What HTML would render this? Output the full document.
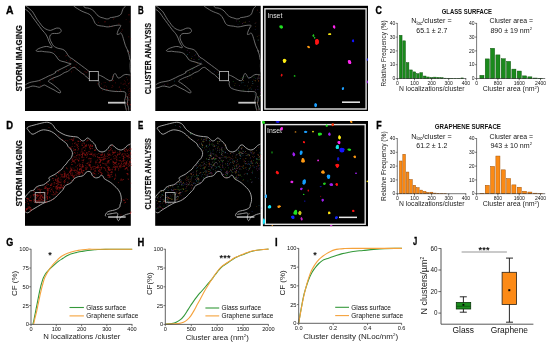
<!DOCTYPE html>
<html><head><meta charset="utf-8"><title>Figure</title>
<style>html,body{margin:0;padding:0;background:#fff}body{width:550px;height:344px;overflow:hidden}svg{display:block;font-family:"Liberation Sans",sans-serif}</style>
</head><body>
<svg width="550" height="344" viewBox="0 0 550 344">
<rect width="550" height="344" fill="#fff"/>
<text x="5.9" y="14.0" font-size="10.6" font-weight="bold" fill="#000" stroke="#000" stroke-width="0.35" textLength="7.5" lengthAdjust="spacingAndGlyphs">A</text>
<text x="138.1" y="13.9" font-size="10.6" font-weight="bold" fill="#000" stroke="#000" stroke-width="0.35" textLength="5.7" lengthAdjust="spacingAndGlyphs">B</text>
<text x="6.2" y="128.7" font-size="10.6" font-weight="bold" fill="#000" stroke="#000" stroke-width="0.35" textLength="6.8" lengthAdjust="spacingAndGlyphs">D</text>
<text x="137.9" y="128.8" font-size="10.6" font-weight="bold" fill="#000" stroke="#000" stroke-width="0.35" textLength="5.3" lengthAdjust="spacingAndGlyphs">E</text>
<text transform="translate(21.6,58.3) rotate(-90)" font-size="8.8" font-weight="bold" text-anchor="middle" fill="#111" stroke="#111" stroke-width="0.2" textLength="66.6" lengthAdjust="spacingAndGlyphs">STORM IMAGING</text>
<text transform="translate(151.1,58.6) rotate(-90)" font-size="8.8" font-weight="bold" text-anchor="middle" fill="#111" stroke="#111" stroke-width="0.2" textLength="71.2" lengthAdjust="spacingAndGlyphs">CLUSTER ANALYSIS</text>
<text transform="translate(21.6,173.3) rotate(-90)" font-size="8.8" font-weight="bold" text-anchor="middle" fill="#111" stroke="#111" stroke-width="0.2" textLength="66.6" lengthAdjust="spacingAndGlyphs">STORM IMAGING</text>
<text transform="translate(151.1,173.8) rotate(-90)" font-size="8.8" font-weight="bold" text-anchor="middle" fill="#111" stroke="#111" stroke-width="0.2" textLength="71.4" lengthAdjust="spacingAndGlyphs">CLUSTER ANALYSIS</text>
<rect x="25.0" y="5.8" width="105.8" height="105.2" fill="#000"/>
<clipPath id="cp01"><rect x="25.0" y="5.8" width="105.8" height="105"/></clipPath>
<g clip-path="url(#cp01)"><g transform="translate(0.0,0)" fill="none" stroke="#9a9a9a" stroke-width="0.7" stroke-linejoin="round">
<path d="M25.0,5.5 C25.2,5.7 25.7,5.9 26.5,6.5 C27.3,7.1 28.6,8.0 29.6,8.9 C30.6,9.8 31.8,10.8 32.7,11.9 C33.6,13.1 34.2,14.5 35.0,15.8 C35.8,17.1 36.5,18.5 37.3,19.6 C38.1,20.8 38.8,21.7 39.6,22.7 C40.4,23.7 41.1,24.9 41.9,25.8 C42.7,26.7 43.4,27.5 44.3,28.1 C45.2,28.8 46.3,29.3 47.3,29.7 C48.3,30.1 49.4,30.5 50.4,30.4 C51.4,30.3 52.5,29.7 53.5,29.3 C54.5,28.9 55.6,28.2 56.6,28.1 C57.6,28.0 58.9,28.0 59.7,28.4 C60.5,28.8 61.1,29.7 61.2,30.4 C61.3,31.1 60.9,32.2 60.1,32.7 C59.3,33.2 57.8,33.4 56.6,33.5 C55.4,33.6 53.7,33.2 52.7,33.5 C51.7,33.8 50.9,34.4 50.4,35.0 C49.9,35.6 49.7,36.5 49.7,37.4 C49.7,38.3 50.0,39.4 50.4,40.4 C50.8,41.4 51.5,42.6 52.0,43.5 C52.5,44.4 52.9,45.1 53.5,45.8 C54.1,46.4 54.9,46.9 55.8,47.4 C56.7,47.9 57.7,48.2 58.9,48.5 C60.1,48.8 61.7,48.9 62.8,49.4 C63.9,49.9 64.6,50.4 65.4,51.2 C66.2,52.0 66.7,53.3 67.4,54.3 C68.1,55.3 69.0,56.7 69.7,57.4 C70.5,58.1 71.0,57.9 71.9,58.5 C72.8,59.1 74.0,60.0 75.0,60.8 C76.0,61.6 77.1,62.3 78.1,63.1 C79.1,63.9 80.2,64.6 81.2,65.4 C82.2,66.2 83.3,66.9 84.3,67.7 C85.3,68.5 86.5,69.3 87.4,70.0 C88.3,70.7 87.9,70.8 89.7,71.6 C91.5,72.4 96.5,74.1 98.4,74.8 C100.3,75.5 100.1,75.4 101.0,75.8 C101.9,76.2 102.9,76.7 103.9,77.3 C104.9,77.9 105.8,78.7 106.8,79.2 C107.8,79.8 108.8,80.4 109.7,80.6 C110.6,80.8 111.4,80.8 111.9,80.2 C112.4,79.7 112.6,78.3 112.9,77.3 C113.2,76.3 113.4,75.0 113.8,74.4 C114.2,73.8 114.8,73.4 115.3,73.6 C115.8,73.8 116.2,75.1 116.7,75.8 C117.2,76.5 117.5,77.8 118.2,78.0 C118.9,78.2 119.9,77.7 120.7,77.3 C121.5,76.9 122.2,75.9 123.1,75.4 C123.9,74.9 124.9,74.5 125.8,74.4 C126.7,74.3 127.9,74.7 128.7,74.8 C129.5,74.9 130.1,75.0 130.4,75.1"/>
<path d="M25.0,9.0 C25.1,9.1 25.3,9.2 25.8,9.6 C26.3,10.0 27.3,10.5 28.1,11.2 C28.9,11.9 29.6,12.9 30.4,13.9 C31.2,14.9 31.9,16.2 32.7,17.3 C33.5,18.4 34.2,19.4 35.0,20.4 C35.8,21.4 36.5,22.5 37.3,23.5 C38.1,24.5 38.8,25.6 39.6,26.6 C40.4,27.6 41.1,28.7 41.9,29.7 C42.7,30.7 43.6,31.5 44.3,32.4 C45.0,33.3 45.7,34.0 46.3,35.0 C46.9,36.0 47.4,37.1 47.8,38.1 C48.2,39.1 48.5,40.2 48.9,41.2 C49.3,42.2 49.9,43.3 50.4,44.3 C50.9,45.2 52.0,46.3 52.1,46.9 C52.2,47.5 51.9,47.8 51.2,47.7 C50.5,47.7 49.1,46.8 48.1,46.6 C47.1,46.4 46.0,46.5 45.0,46.6 C44.0,46.7 42.9,47.1 41.9,47.4 C40.9,47.7 39.9,48.0 38.9,48.5 C37.9,49.0 36.2,50.0 36.1,50.5 C36.0,51.0 37.2,51.4 38.1,51.5 C39.0,51.6 40.2,51.2 41.2,51.2 C42.2,51.2 43.1,51.6 44.3,51.7 C45.4,51.8 47.0,51.9 48.1,52.0 C49.2,52.1 50.3,52.2 51.2,52.5 C52.1,52.8 52.7,53.0 53.5,53.5 C54.3,54.0 55.1,55.0 55.8,55.8 C56.4,56.5 56.9,57.3 57.4,58.0 C57.9,58.7 58.1,59.5 58.9,60.0 C59.6,60.5 60.9,61.0 61.9,61.3 C62.9,61.6 64.0,61.7 65.0,62.0 C66.0,62.3 67.1,62.8 68.1,63.1 C69.1,63.4 71.2,63.5 71.2,63.9 C71.2,64.3 69.1,64.9 68.1,65.4 C67.1,65.9 66.0,66.5 65.0,67.0 C64.0,67.5 62.9,68.0 61.9,68.5 C60.9,69.0 60.0,69.4 58.9,70.0 C57.8,70.6 55.5,71.6 55.0,72.0 C54.5,72.4 56.2,72.1 55.8,72.5 C55.3,72.9 53.5,73.9 52.3,74.5 C51.1,75.1 50.0,75.4 48.8,75.9 C47.6,76.4 46.5,77.1 45.3,77.7 C44.1,78.3 43.0,78.9 41.8,79.4 C40.6,79.9 39.5,80.5 38.3,80.8 C37.1,81.1 36.0,81.3 34.8,81.5 C33.6,81.7 32.5,81.8 31.3,82.1 C30.2,82.4 28.9,82.8 27.9,83.3 C26.9,83.8 25.6,84.7 25.2,85.0"/>
<path d="M25.2,88.2 C25.8,88.0 27.5,87.7 28.7,87.3 C29.9,86.9 31.0,86.2 32.2,86.1 C33.4,85.9 34.5,86.2 35.7,86.4 C36.9,86.6 38.2,87.3 39.2,87.3 C40.2,87.2 40.9,86.5 41.8,86.1 C42.7,85.7 43.5,85.0 44.4,85.0 C45.3,85.0 46.1,85.9 47.1,86.4 C48.1,86.9 49.4,87.6 50.5,88.2 C51.6,88.8 52.8,89.3 54.0,89.9 C55.2,90.5 56.5,91.5 57.5,92.0 C58.5,92.5 59.6,93.1 60.1,93.0 C60.6,92.9 60.8,92.0 60.5,91.3 C60.2,90.6 59.2,89.8 58.4,89.0 C57.6,88.2 56.7,87.5 55.8,86.8 C54.9,86.1 54.1,85.3 53.2,84.7 C52.3,84.1 51.3,83.5 50.5,82.9 C49.7,82.3 48.3,81.8 48.3,81.2 C48.3,80.6 49.5,80.0 50.5,79.4 C51.5,78.8 52.7,78.2 54.0,77.7 C55.3,77.2 56.9,76.7 58.1,76.2 C59.3,75.7 60.2,75.3 61.2,74.7 C62.2,74.1 63.2,73.2 64.2,72.7 C65.2,72.2 66.4,72.0 67.3,71.6 C68.2,71.1 68.8,70.6 69.6,70.0 C70.4,69.4 71.1,68.4 71.9,68.0 C72.7,67.6 73.5,67.2 74.3,67.4 C75.1,67.6 75.8,68.4 76.6,69.0 C77.4,69.6 78.1,70.2 78.9,70.8 C79.7,71.4 80.3,72.0 81.2,72.7 C82.1,73.4 83.4,74.0 84.3,74.7 C85.2,75.4 85.8,76.3 86.6,77.0 C87.4,77.7 87.2,78.1 89.2,78.8 C91.2,79.5 96.8,80.1 98.4,80.9 C100.0,81.7 98.6,82.8 98.8,83.8 C99.0,84.8 99.2,86.0 99.6,86.7 C100.0,87.4 100.3,87.8 101.0,88.2 C101.7,88.7 102.8,89.0 103.9,89.4 C105.0,89.8 106.3,90.1 107.6,90.4 C108.9,90.7 110.5,90.9 111.9,91.1 C113.4,91.3 114.8,91.4 116.3,91.5 C117.8,91.6 119.4,91.5 120.7,91.5 C122.0,91.5 123.5,91.5 124.3,91.8 C125.1,92.1 125.6,92.4 125.8,93.3 C126.0,94.2 125.7,95.7 125.5,96.9 C125.3,98.1 124.7,99.4 124.6,100.6 C124.5,101.8 124.8,103.0 125.0,104.2 C125.2,105.4 125.5,106.8 125.8,107.9 C126.0,109.0 126.4,110.3 126.5,110.8"/>
<path d="M73.5,5.8 C73.8,6.0 74.3,6.5 75.0,7.0 C75.7,7.5 76.6,8.1 77.6,8.7 C78.6,9.3 79.9,10.2 81.1,10.8 C82.3,11.4 83.9,12.1 85.0,12.5 C86.1,12.9 86.8,13.1 87.7,13.5 C88.6,13.9 89.7,14.4 90.5,15.2 C91.3,15.9 91.9,17.1 92.5,18.0 C93.1,18.9 93.5,19.8 93.9,20.7 C94.4,21.6 94.6,22.6 95.2,23.4 C95.8,24.1 96.5,24.8 97.3,25.2 C98.1,25.6 99.0,25.6 100.0,25.8 C101.0,26.0 102.2,26.0 103.4,26.2 C104.6,26.4 105.8,26.8 106.9,26.9 C108.1,27.0 109.2,26.8 110.3,26.6 C111.4,26.4 112.5,26.0 113.7,25.8 C115.0,25.6 116.6,25.2 117.8,25.2 C119.0,25.1 120.5,25.1 120.8,25.5 C121.1,25.9 120.2,26.8 119.8,27.5 C119.4,28.2 118.9,28.8 118.5,29.6 C118.1,30.4 117.7,31.5 117.5,32.3 C117.3,33.1 116.8,34.1 117.1,34.4 C117.4,34.7 118.6,34.2 119.2,34.0 C119.8,33.8 120.3,32.8 120.8,33.0 C121.3,33.2 121.8,34.2 122.2,35.1 C122.6,36.0 123.0,37.4 123.3,38.5 C123.6,39.6 124.0,40.8 124.3,41.9 C124.6,43.0 124.9,44.2 125.3,45.3 C125.7,46.4 126.2,47.4 126.7,48.4 C127.2,49.4 128.3,51.0 128.4,51.4 C128.5,51.8 127.3,50.1 127.4,50.6 C127.5,51.1 128.5,52.9 128.8,54.1 C129.2,55.3 129.3,56.6 129.5,57.6 C129.7,58.6 129.8,59.6 130.0,60.0 C130.2,60.4 130.5,59.3 130.5,60.2 C130.5,61.1 130.1,63.5 130.1,65.5 C130.1,67.5 130.4,71.3 130.5,72.5"/>
<path d="M83.3,5.8 C83.6,6.1 84.3,7.3 85.0,7.7 C85.7,8.1 86.7,7.8 87.7,8.0 C88.7,8.2 90.1,8.6 91.1,9.1 C92.1,9.6 93.1,10.4 93.9,11.1 C94.7,11.8 95.2,12.7 95.9,13.5 C96.6,14.3 97.2,15.1 98.0,15.7 C98.8,16.3 99.8,16.9 100.7,17.3 C101.6,17.7 102.5,17.7 103.4,18.0 C104.3,18.3 105.3,18.8 106.2,18.9 C107.1,19.0 108.2,18.9 108.9,18.7 C109.6,18.5 109.6,17.8 110.3,17.6 C111.0,17.4 112.0,17.5 113.0,17.3 C114.0,17.1 115.4,16.9 116.4,16.6 C117.4,16.3 118.4,16.1 119.2,15.7 C120.0,15.2 120.7,14.7 121.2,13.9 C121.7,13.1 121.9,12.0 122.2,11.1 C122.5,10.2 122.8,9.2 123.3,8.4 C123.8,7.6 124.8,6.9 125.3,6.4 C125.8,5.9 125.9,5.7 126.0,5.5"/>
<path d="M127.2,96.2 C127.3,96.8 127.9,98.6 127.9,99.8 C127.9,101.0 127.1,102.3 127.2,103.5 C127.3,104.7 128.2,105.9 128.4,107.1 C128.7,108.3 128.6,110.2 128.7,110.8"/>
</g></g>
<g transform="translate(0.0,0)">
<path d="M112.1,76.5h0.65v0.65h-0.65zM128.8,94.8h0.65v0.65h-0.65zM129.7,75.7h0.65v0.65h-0.65zM118.8,87.4h0.65v0.65h-0.65zM111.9,85.3h0.65v0.65h-0.65zM120.7,82.8h0.65v0.65h-0.65zM126.5,85.3h0.65v0.65h-0.65zM128.7,91.1h0.65v0.65h-0.65zM124.7,84.2h0.65v0.65h-0.65zM113.0,80.0h0.65v0.65h-0.65zM126.3,76.9h0.65v0.65h-0.65zM107.0,89.0h0.65v0.65h-0.65zM126.7,108.5h0.65v0.65h-0.65zM103.7,82.4h0.65v0.65h-0.65zM111.6,87.3h0.65v0.65h-0.65zM129.0,98.9h0.65v0.65h-0.65zM123.9,88.1h0.65v0.65h-0.65zM101.3,87.1h0.65v0.65h-0.65zM126.4,96.1h0.65v0.65h-0.65zM106.2,86.5h0.65v0.65h-0.65zM130.3,90.8h0.65v0.65h-0.65zM128.9,93.0h0.65v0.65h-0.65zM126.1,99.1h0.65v0.65h-0.65zM130.0,104.7h0.65v0.65h-0.65zM130.1,108.4h0.65v0.65h-0.65zM105.2,82.2h0.65v0.65h-0.65zM127.3,104.3h0.65v0.65h-0.65zM127.6,102.2h0.65v0.65h-0.65zM129.6,88.3h0.65v0.65h-0.65zM128.8,100.1h0.65v0.65h-0.65zM127.4,103.0h0.65v0.65h-0.65zM119.4,86.6h0.65v0.65h-0.65zM129.6,97.4h0.65v0.65h-0.65zM128.3,89.6h0.65v0.65h-0.65zM124.9,81.6h0.65v0.65h-0.65zM106.4,89.1h0.65v0.65h-0.65zM127.6,86.7h0.65v0.65h-0.65zM112.3,80.6h0.65v0.65h-0.65zM124.0,80.2h0.65v0.65h-0.65zM120.5,90.3h0.65v0.65h-0.65zM128.6,83.3h0.65v0.65h-0.65zM128.7,104.2h0.65v0.65h-0.65zM102.0,89.9h0.65v0.65h-0.65zM127.2,79.6h0.65v0.65h-0.65zM129.4,81.9h0.65v0.65h-0.65zM130.2,104.0h0.65v0.65h-0.65zM109.0,81.0h0.65v0.65h-0.65zM116.0,89.9h0.65v0.65h-0.65zM101.4,83.6h0.65v0.65h-0.65zM123.3,83.7h0.65v0.65h-0.65zM124.6,83.3h0.65v0.65h-0.65zM127.9,94.5h0.65v0.65h-0.65zM120.4,89.3h0.65v0.65h-0.65zM128.5,96.8h0.65v0.65h-0.65zM112.7,86.2h0.65v0.65h-0.65zM128.1,83.6h0.65v0.65h-0.65zM115.1,82.6h0.65v0.65h-0.65zM104.6,85.2h0.65v0.65h-0.65zM122.7,84.4h0.65v0.65h-0.65zM103.8,86.5h0.65v0.65h-0.65zM70.1,66.3h0.65v0.65h-0.65zM84.5,71.4h0.65v0.65h-0.65zM70.6,59.9h0.65v0.65h-0.65zM54.5,51.2h0.65v0.65h-0.65zM65.0,55.7h0.65v0.65h-0.65zM66.2,60.3h0.65v0.65h-0.65zM73.8,66.1h0.65v0.65h-0.65zM66.0,55.3h0.65v0.65h-0.65zM78.9,67.2h0.65v0.65h-0.65zM86.5,72.3h0.65v0.65h-0.65zM69.9,59.0h0.65v0.65h-0.65zM85.3,71.7h0.65v0.65h-0.65zM83.4,73.7h0.65v0.65h-0.65zM88.7,75.9h0.65v0.65h-0.65zM75.1,67.4h0.65v0.65h-0.65zM74.7,61.3h0.65v0.65h-0.65zM87.3,70.7h0.65v0.65h-0.65zM58.8,56.2h0.65v0.65h-0.65zM82.9,73.7h0.65v0.65h-0.65zM75.8,64.6h0.65v0.65h-0.65zM97.0,83.5h0.65v0.65h-0.65zM69.1,61.7h0.65v0.65h-0.65zM130.5,38.6h0.65v0.65h-0.65zM104.6,21.8h0.65v0.65h-0.65zM113.6,17.9h0.65v0.65h-0.65zM128.5,36.6h0.65v0.65h-0.65zM121.3,31.4h0.65v0.65h-0.65zM128.0,14.6h0.65v0.65h-0.65zM112.3,25.9h0.65v0.65h-0.65zM129.7,21.5h0.65v0.65h-0.65zM118.6,23.6h0.65v0.65h-0.65zM113.1,19.4h0.65v0.65h-0.65zM104.2,21.4h0.65v0.65h-0.65zM121.9,29.5h0.65v0.65h-0.65zM109.0,25.6h0.65v0.65h-0.65zM98.1,22.4h0.65v0.65h-0.65zM129.4,14.5h0.65v0.65h-0.65zM125.8,19.2h0.65v0.65h-0.65zM105.4,20.9h0.65v0.65h-0.65zM128.9,52.1h0.65v0.65h-0.65zM72.8,69.7h0.65v0.65h-0.65zM53.0,79.7h0.65v0.65h-0.65zM50.1,76.7h0.65v0.65h-0.65zM40.2,85.2h0.65v0.65h-0.65zM58.4,71.0h0.65v0.65h-0.65zM53.1,77.4h0.65v0.65h-0.65zM51.9,79.5h0.65v0.65h-0.65zM66.1,69.3h0.65v0.65h-0.65zM39.7,81.5h0.65v0.65h-0.65zM71.0,71.6h0.65v0.65h-0.65z" fill="#d01a1a" opacity="0.62"/>
</g>
<rect x="89.3" y="71.5" width="9" height="9.2" fill="#000" stroke="#c4c4c4" stroke-width="0.8"/>
<rect x="108.0" y="101.8" width="17.5" height="1.8" fill="#c8c8c8"/>
<rect x="155.3" y="5.8" width="105.4" height="105.2" fill="#000"/>
<clipPath id="cp1301"><rect x="155.3" y="5.8" width="105.4" height="105"/></clipPath>
<g clip-path="url(#cp1301)"><g transform="translate(130.3,0)" fill="none" stroke="#9a9a9a" stroke-width="0.7" stroke-linejoin="round">
<path d="M25.0,5.5 C25.2,5.7 25.7,5.9 26.5,6.5 C27.3,7.1 28.6,8.0 29.6,8.9 C30.6,9.8 31.8,10.8 32.7,11.9 C33.6,13.1 34.2,14.5 35.0,15.8 C35.8,17.1 36.5,18.5 37.3,19.6 C38.1,20.8 38.8,21.7 39.6,22.7 C40.4,23.7 41.1,24.9 41.9,25.8 C42.7,26.7 43.4,27.5 44.3,28.1 C45.2,28.8 46.3,29.3 47.3,29.7 C48.3,30.1 49.4,30.5 50.4,30.4 C51.4,30.3 52.5,29.7 53.5,29.3 C54.5,28.9 55.6,28.2 56.6,28.1 C57.6,28.0 58.9,28.0 59.7,28.4 C60.5,28.8 61.1,29.7 61.2,30.4 C61.3,31.1 60.9,32.2 60.1,32.7 C59.3,33.2 57.8,33.4 56.6,33.5 C55.4,33.6 53.7,33.2 52.7,33.5 C51.7,33.8 50.9,34.4 50.4,35.0 C49.9,35.6 49.7,36.5 49.7,37.4 C49.7,38.3 50.0,39.4 50.4,40.4 C50.8,41.4 51.5,42.6 52.0,43.5 C52.5,44.4 52.9,45.1 53.5,45.8 C54.1,46.4 54.9,46.9 55.8,47.4 C56.7,47.9 57.7,48.2 58.9,48.5 C60.1,48.8 61.7,48.9 62.8,49.4 C63.9,49.9 64.6,50.4 65.4,51.2 C66.2,52.0 66.7,53.3 67.4,54.3 C68.1,55.3 69.0,56.7 69.7,57.4 C70.5,58.1 71.0,57.9 71.9,58.5 C72.8,59.1 74.0,60.0 75.0,60.8 C76.0,61.6 77.1,62.3 78.1,63.1 C79.1,63.9 80.2,64.6 81.2,65.4 C82.2,66.2 83.3,66.9 84.3,67.7 C85.3,68.5 86.5,69.3 87.4,70.0 C88.3,70.7 87.9,70.8 89.7,71.6 C91.5,72.4 96.5,74.1 98.4,74.8 C100.3,75.5 100.1,75.4 101.0,75.8 C101.9,76.2 102.9,76.7 103.9,77.3 C104.9,77.9 105.8,78.7 106.8,79.2 C107.8,79.8 108.8,80.4 109.7,80.6 C110.6,80.8 111.4,80.8 111.9,80.2 C112.4,79.7 112.6,78.3 112.9,77.3 C113.2,76.3 113.4,75.0 113.8,74.4 C114.2,73.8 114.8,73.4 115.3,73.6 C115.8,73.8 116.2,75.1 116.7,75.8 C117.2,76.5 117.5,77.8 118.2,78.0 C118.9,78.2 119.9,77.7 120.7,77.3 C121.5,76.9 122.2,75.9 123.1,75.4 C123.9,74.9 124.9,74.5 125.8,74.4 C126.7,74.3 127.9,74.7 128.7,74.8 C129.5,74.9 130.1,75.0 130.4,75.1"/>
<path d="M25.0,9.0 C25.1,9.1 25.3,9.2 25.8,9.6 C26.3,10.0 27.3,10.5 28.1,11.2 C28.9,11.9 29.6,12.9 30.4,13.9 C31.2,14.9 31.9,16.2 32.7,17.3 C33.5,18.4 34.2,19.4 35.0,20.4 C35.8,21.4 36.5,22.5 37.3,23.5 C38.1,24.5 38.8,25.6 39.6,26.6 C40.4,27.6 41.1,28.7 41.9,29.7 C42.7,30.7 43.6,31.5 44.3,32.4 C45.0,33.3 45.7,34.0 46.3,35.0 C46.9,36.0 47.4,37.1 47.8,38.1 C48.2,39.1 48.5,40.2 48.9,41.2 C49.3,42.2 49.9,43.3 50.4,44.3 C50.9,45.2 52.0,46.3 52.1,46.9 C52.2,47.5 51.9,47.8 51.2,47.7 C50.5,47.7 49.1,46.8 48.1,46.6 C47.1,46.4 46.0,46.5 45.0,46.6 C44.0,46.7 42.9,47.1 41.9,47.4 C40.9,47.7 39.9,48.0 38.9,48.5 C37.9,49.0 36.2,50.0 36.1,50.5 C36.0,51.0 37.2,51.4 38.1,51.5 C39.0,51.6 40.2,51.2 41.2,51.2 C42.2,51.2 43.1,51.6 44.3,51.7 C45.4,51.8 47.0,51.9 48.1,52.0 C49.2,52.1 50.3,52.2 51.2,52.5 C52.1,52.8 52.7,53.0 53.5,53.5 C54.3,54.0 55.1,55.0 55.8,55.8 C56.4,56.5 56.9,57.3 57.4,58.0 C57.9,58.7 58.1,59.5 58.9,60.0 C59.6,60.5 60.9,61.0 61.9,61.3 C62.9,61.6 64.0,61.7 65.0,62.0 C66.0,62.3 67.1,62.8 68.1,63.1 C69.1,63.4 71.2,63.5 71.2,63.9 C71.2,64.3 69.1,64.9 68.1,65.4 C67.1,65.9 66.0,66.5 65.0,67.0 C64.0,67.5 62.9,68.0 61.9,68.5 C60.9,69.0 60.0,69.4 58.9,70.0 C57.8,70.6 55.5,71.6 55.0,72.0 C54.5,72.4 56.2,72.1 55.8,72.5 C55.3,72.9 53.5,73.9 52.3,74.5 C51.1,75.1 50.0,75.4 48.8,75.9 C47.6,76.4 46.5,77.1 45.3,77.7 C44.1,78.3 43.0,78.9 41.8,79.4 C40.6,79.9 39.5,80.5 38.3,80.8 C37.1,81.1 36.0,81.3 34.8,81.5 C33.6,81.7 32.5,81.8 31.3,82.1 C30.2,82.4 28.9,82.8 27.9,83.3 C26.9,83.8 25.6,84.7 25.2,85.0"/>
<path d="M25.2,88.2 C25.8,88.0 27.5,87.7 28.7,87.3 C29.9,86.9 31.0,86.2 32.2,86.1 C33.4,85.9 34.5,86.2 35.7,86.4 C36.9,86.6 38.2,87.3 39.2,87.3 C40.2,87.2 40.9,86.5 41.8,86.1 C42.7,85.7 43.5,85.0 44.4,85.0 C45.3,85.0 46.1,85.9 47.1,86.4 C48.1,86.9 49.4,87.6 50.5,88.2 C51.6,88.8 52.8,89.3 54.0,89.9 C55.2,90.5 56.5,91.5 57.5,92.0 C58.5,92.5 59.6,93.1 60.1,93.0 C60.6,92.9 60.8,92.0 60.5,91.3 C60.2,90.6 59.2,89.8 58.4,89.0 C57.6,88.2 56.7,87.5 55.8,86.8 C54.9,86.1 54.1,85.3 53.2,84.7 C52.3,84.1 51.3,83.5 50.5,82.9 C49.7,82.3 48.3,81.8 48.3,81.2 C48.3,80.6 49.5,80.0 50.5,79.4 C51.5,78.8 52.7,78.2 54.0,77.7 C55.3,77.2 56.9,76.7 58.1,76.2 C59.3,75.7 60.2,75.3 61.2,74.7 C62.2,74.1 63.2,73.2 64.2,72.7 C65.2,72.2 66.4,72.0 67.3,71.6 C68.2,71.1 68.8,70.6 69.6,70.0 C70.4,69.4 71.1,68.4 71.9,68.0 C72.7,67.6 73.5,67.2 74.3,67.4 C75.1,67.6 75.8,68.4 76.6,69.0 C77.4,69.6 78.1,70.2 78.9,70.8 C79.7,71.4 80.3,72.0 81.2,72.7 C82.1,73.4 83.4,74.0 84.3,74.7 C85.2,75.4 85.8,76.3 86.6,77.0 C87.4,77.7 87.2,78.1 89.2,78.8 C91.2,79.5 96.8,80.1 98.4,80.9 C100.0,81.7 98.6,82.8 98.8,83.8 C99.0,84.8 99.2,86.0 99.6,86.7 C100.0,87.4 100.3,87.8 101.0,88.2 C101.7,88.7 102.8,89.0 103.9,89.4 C105.0,89.8 106.3,90.1 107.6,90.4 C108.9,90.7 110.5,90.9 111.9,91.1 C113.4,91.3 114.8,91.4 116.3,91.5 C117.8,91.6 119.4,91.5 120.7,91.5 C122.0,91.5 123.5,91.5 124.3,91.8 C125.1,92.1 125.6,92.4 125.8,93.3 C126.0,94.2 125.7,95.7 125.5,96.9 C125.3,98.1 124.7,99.4 124.6,100.6 C124.5,101.8 124.8,103.0 125.0,104.2 C125.2,105.4 125.5,106.8 125.8,107.9 C126.0,109.0 126.4,110.3 126.5,110.8"/>
<path d="M73.5,5.8 C73.8,6.0 74.3,6.5 75.0,7.0 C75.7,7.5 76.6,8.1 77.6,8.7 C78.6,9.3 79.9,10.2 81.1,10.8 C82.3,11.4 83.9,12.1 85.0,12.5 C86.1,12.9 86.8,13.1 87.7,13.5 C88.6,13.9 89.7,14.4 90.5,15.2 C91.3,15.9 91.9,17.1 92.5,18.0 C93.1,18.9 93.5,19.8 93.9,20.7 C94.4,21.6 94.6,22.6 95.2,23.4 C95.8,24.1 96.5,24.8 97.3,25.2 C98.1,25.6 99.0,25.6 100.0,25.8 C101.0,26.0 102.2,26.0 103.4,26.2 C104.6,26.4 105.8,26.8 106.9,26.9 C108.1,27.0 109.2,26.8 110.3,26.6 C111.4,26.4 112.5,26.0 113.7,25.8 C115.0,25.6 116.6,25.2 117.8,25.2 C119.0,25.1 120.5,25.1 120.8,25.5 C121.1,25.9 120.2,26.8 119.8,27.5 C119.4,28.2 118.9,28.8 118.5,29.6 C118.1,30.4 117.7,31.5 117.5,32.3 C117.3,33.1 116.8,34.1 117.1,34.4 C117.4,34.7 118.6,34.2 119.2,34.0 C119.8,33.8 120.3,32.8 120.8,33.0 C121.3,33.2 121.8,34.2 122.2,35.1 C122.6,36.0 123.0,37.4 123.3,38.5 C123.6,39.6 124.0,40.8 124.3,41.9 C124.6,43.0 124.9,44.2 125.3,45.3 C125.7,46.4 126.2,47.4 126.7,48.4 C127.2,49.4 128.3,51.0 128.4,51.4 C128.5,51.8 127.3,50.1 127.4,50.6 C127.5,51.1 128.5,52.9 128.8,54.1 C129.2,55.3 129.3,56.6 129.5,57.6 C129.7,58.6 129.8,59.6 130.0,60.0 C130.2,60.4 130.5,59.3 130.5,60.2 C130.5,61.1 130.1,63.5 130.1,65.5 C130.1,67.5 130.4,71.3 130.5,72.5"/>
<path d="M83.3,5.8 C83.6,6.1 84.3,7.3 85.0,7.7 C85.7,8.1 86.7,7.8 87.7,8.0 C88.7,8.2 90.1,8.6 91.1,9.1 C92.1,9.6 93.1,10.4 93.9,11.1 C94.7,11.8 95.2,12.7 95.9,13.5 C96.6,14.3 97.2,15.1 98.0,15.7 C98.8,16.3 99.8,16.9 100.7,17.3 C101.6,17.7 102.5,17.7 103.4,18.0 C104.3,18.3 105.3,18.8 106.2,18.9 C107.1,19.0 108.2,18.9 108.9,18.7 C109.6,18.5 109.6,17.8 110.3,17.6 C111.0,17.4 112.0,17.5 113.0,17.3 C114.0,17.1 115.4,16.9 116.4,16.6 C117.4,16.3 118.4,16.1 119.2,15.7 C120.0,15.2 120.7,14.7 121.2,13.9 C121.7,13.1 121.9,12.0 122.2,11.1 C122.5,10.2 122.8,9.2 123.3,8.4 C123.8,7.6 124.8,6.9 125.3,6.4 C125.8,5.9 125.9,5.7 126.0,5.5"/>
<path d="M127.2,96.2 C127.3,96.8 127.9,98.6 127.9,99.8 C127.9,101.0 127.1,102.3 127.2,103.5 C127.3,104.7 128.2,105.9 128.4,107.1 C128.7,108.3 128.6,110.2 128.7,110.8"/>
</g></g>
<g transform="translate(130.3,0)">
<path d="M108.8,80.1h0.6v0.6h-0.6zM129.6,95.0h0.6v0.6h-0.6zM118.1,81.8h0.6v0.6h-0.6zM128.1,77.9h0.6v0.6h-0.6zM118.1,91.6h0.6v0.6h-0.6zM130.0,95.1h0.6v0.6h-0.6zM121.8,82.9h0.6v0.6h-0.6zM71.5,64.2h0.6v0.6h-0.6zM118.7,26.8h0.6v0.6h-0.6zM129.1,11.9h0.6v0.6h-0.6zM124.5,23.2h0.6v0.6h-0.6zM35.4,86.2h0.6v0.6h-0.6z" fill="#e8e8e8" opacity="0.5"/>
<path d="M128.2,80.6h0.6v0.6h-0.6zM122.6,79.7h0.6v0.6h-0.6zM126.9,102.2h0.6v0.6h-0.6zM64.0,55.4h0.6v0.6h-0.6zM86.6,71.9h0.6v0.6h-0.6zM128.4,35.4h0.6v0.6h-0.6zM125.3,21.9h0.6v0.6h-0.6zM127.0,9.8h0.6v0.6h-0.6zM57.1,78.4h0.6v0.6h-0.6zM37.3,83.8h0.6v0.6h-0.6z" fill="#ff4040" opacity="0.5"/>
<path d="M127.8,96.8h0.6v0.6h-0.6zM129.1,108.3h0.6v0.6h-0.6zM123.4,76.8h0.6v0.6h-0.6zM102.6,81.3h0.6v0.6h-0.6zM112.5,89.8h0.6v0.6h-0.6zM112.0,77.3h0.6v0.6h-0.6zM114.6,76.0h0.6v0.6h-0.6zM68.0,59.1h0.6v0.6h-0.6zM87.6,74.0h0.6v0.6h-0.6zM109.0,21.2h0.6v0.6h-0.6zM59.3,74.5h0.6v0.6h-0.6zM62.3,68.3h0.6v0.6h-0.6z" fill="#40ff40" opacity="0.5"/>
<path d="M118.8,77.3h0.6v0.6h-0.6zM127.3,89.3h0.6v0.6h-0.6zM128.4,98.5h0.6v0.6h-0.6zM126.7,77.8h0.6v0.6h-0.6zM101.5,86.9h0.6v0.6h-0.6zM83.9,71.4h0.6v0.6h-0.6zM68.9,58.8h0.6v0.6h-0.6zM65.1,54.6h0.6v0.6h-0.6zM70.5,61.8h0.6v0.6h-0.6zM61.5,56.5h0.6v0.6h-0.6zM88.0,74.5h0.6v0.6h-0.6zM124.6,29.0h0.6v0.6h-0.6zM107.4,24.5h0.6v0.6h-0.6zM61.7,69.6h0.6v0.6h-0.6z" fill="#5070ff" opacity="0.5"/>
<path d="M116.8,85.7h0.6v0.6h-0.6zM130.2,77.7h0.6v0.6h-0.6zM127.7,75.5h0.6v0.6h-0.6zM104.0,85.2h0.6v0.6h-0.6zM127.6,77.2h0.6v0.6h-0.6zM124.9,80.6h0.6v0.6h-0.6zM110.5,78.4h0.6v0.6h-0.6zM112.9,80.5h0.6v0.6h-0.6zM130.4,100.4h0.6v0.6h-0.6zM118.5,88.2h0.6v0.6h-0.6zM126.3,102.2h0.6v0.6h-0.6zM91.0,78.5h0.6v0.6h-0.6zM60.8,58.1h0.6v0.6h-0.6zM115.1,21.8h0.6v0.6h-0.6zM126.6,36.4h0.6v0.6h-0.6zM127.8,39.7h0.6v0.6h-0.6zM58.9,72.5h0.6v0.6h-0.6z" fill="#ffe040" opacity="0.5"/>
<path d="M124.7,89.6h0.6v0.6h-0.6zM127.2,86.2h0.6v0.6h-0.6zM108.7,85.5h0.6v0.6h-0.6zM130.3,92.3h0.6v0.6h-0.6zM128.7,77.8h0.6v0.6h-0.6zM128.6,109.1h0.6v0.6h-0.6zM128.2,76.4h0.6v0.6h-0.6zM77.5,63.4h0.6v0.6h-0.6zM56.6,49.9h0.6v0.6h-0.6zM59.1,52.2h0.6v0.6h-0.6zM63.4,59.1h0.6v0.6h-0.6zM68.2,56.6h0.6v0.6h-0.6zM112.1,23.3h0.6v0.6h-0.6zM105.7,20.7h0.6v0.6h-0.6zM118.6,21.0h0.6v0.6h-0.6zM33.9,84.0h0.6v0.6h-0.6z" fill="#ff50ff" opacity="0.5"/>
<path d="M122.5,82.9h0.6v0.6h-0.6zM112.5,82.4h0.6v0.6h-0.6zM123.8,93.7h0.6v0.6h-0.6zM120.6,88.8h0.6v0.6h-0.6zM130.4,87.1h0.6v0.6h-0.6zM121.7,81.3h0.6v0.6h-0.6zM125.2,78.2h0.6v0.6h-0.6zM114.4,85.5h0.6v0.6h-0.6zM118.0,89.6h0.6v0.6h-0.6zM111.2,82.6h0.6v0.6h-0.6zM56.9,54.2h0.6v0.6h-0.6zM56.9,54.3h0.6v0.6h-0.6zM127.4,39.8h0.6v0.6h-0.6zM43.7,80.8h0.6v0.6h-0.6z" fill="#40e0ff" opacity="0.5"/>
<path d="M119.6,87.6h0.6v0.6h-0.6zM129.1,96.2h0.6v0.6h-0.6zM121.3,85.4h0.6v0.6h-0.6zM126.7,109.6h0.6v0.6h-0.6zM104.5,82.9h0.6v0.6h-0.6zM113.0,79.9h0.6v0.6h-0.6zM127.8,79.9h0.6v0.6h-0.6zM127.9,81.5h0.6v0.6h-0.6zM127.1,78.8h0.6v0.6h-0.6zM124.4,80.3h0.6v0.6h-0.6zM66.7,63.0h0.6v0.6h-0.6zM64.6,62.0h0.6v0.6h-0.6zM124.8,26.4h0.6v0.6h-0.6zM113.4,22.1h0.6v0.6h-0.6zM60.6,77.7h0.6v0.6h-0.6z" fill="#ff9020" opacity="0.5"/>
</g>
<rect x="219.6" y="71.5" width="9" height="9.2" fill="#000" stroke="#c4c4c4" stroke-width="0.8"/>
<rect x="238.3" y="101.8" width="17.5" height="1.8" fill="#c8c8c8"/>
<rect x="25.0" y="121" width="105.8" height="104.8" fill="#000"/>
<clipPath id="cp00"><rect x="25.0" y="121" width="105.8" height="105"/></clipPath>
<g clip-path="url(#cp00)"><g transform="translate(0.0,0)" fill="none" stroke="#bcbcbc" stroke-width="0.85" stroke-linejoin="round">
<path d="M24.9,197.9 C25.0,197.6 25.1,196.9 25.6,196.2 C26.1,195.5 27.1,194.5 27.9,193.6 C28.7,192.7 29.5,191.5 30.5,190.9 C31.5,190.3 33.1,190.7 34.0,190.1 C34.9,189.5 34.8,188.2 35.7,187.5 C36.6,186.8 37.9,186.1 39.2,185.7 C40.5,185.2 42.3,185.4 43.6,184.8 C44.9,184.2 46.1,183.0 47.1,182.2 C48.1,181.4 49.4,180.8 49.7,180.1 C50.0,179.4 48.5,178.6 48.8,177.9 C49.1,177.2 50.4,176.7 51.4,176.1 C52.4,175.5 53.7,175.1 54.9,174.4 C56.1,173.7 57.2,172.6 58.4,171.7 C59.6,170.8 61.0,170.0 61.9,169.1 C62.8,168.2 62.9,167.4 63.6,166.5 C64.3,165.6 65.5,164.8 66.2,163.9 C66.9,163.0 67.3,162.1 68.0,161.2 C68.7,160.3 69.9,159.5 70.6,158.6 C71.3,157.7 71.7,157.0 72.0,156.0 C72.3,155.0 72.6,153.7 72.4,152.5 C72.2,151.3 71.3,150.0 70.6,149.0 C69.9,148.0 68.6,147.3 68.0,146.4 C67.4,145.5 67.5,144.7 66.8,143.8 C66.1,142.9 64.7,142.1 63.6,141.2 C62.5,140.3 61.1,139.4 60.1,138.6 C59.1,137.8 58.4,137.1 57.5,136.3 C56.6,135.5 55.9,134.6 54.9,133.8 C53.9,133.0 52.6,132.2 51.4,131.6 C50.2,131.0 49.2,130.7 47.9,130.4 C46.6,130.1 44.9,129.8 43.6,129.8 C42.3,129.9 41.3,130.2 40.1,130.7 C38.9,131.1 37.8,131.9 36.6,132.5 C35.4,133.1 34.1,134.1 33.1,134.2 C32.1,134.3 31.5,133.9 30.8,133.3 C30.1,132.7 29.3,131.6 28.7,130.7 C28.1,129.8 26.9,128.8 27.0,128.1 C27.1,127.4 28.4,126.8 29.6,126.3 C30.8,125.8 32.4,125.5 34.0,125.1 C35.6,124.7 37.5,124.1 39.2,123.7 C40.9,123.3 43.0,122.7 44.4,122.5 C45.8,122.3 46.7,122.1 47.9,122.3 C49.1,122.5 50.5,123.1 51.4,123.7 C52.3,124.3 52.9,125.1 53.5,125.8 C54.1,126.5 54.2,127.3 54.9,128.1 C55.6,128.9 56.5,129.9 57.5,130.7 C58.5,131.5 59.7,132.3 61.0,133.0 C62.3,133.7 63.8,134.5 65.4,135.1 C67.0,135.7 68.9,136.0 70.6,136.3 C72.3,136.6 74.5,136.6 75.8,136.8 C77.1,137.0 77.5,137.0 78.5,137.7 C79.5,138.4 81.0,140.4 82.0,140.8 C83.0,141.2 83.7,140.8 84.6,140.3 C85.5,139.8 86.3,138.2 87.2,138.0 C88.1,137.8 88.9,138.7 89.8,139.4 C90.7,140.1 91.6,141.1 92.5,142.0 C93.4,142.9 94.5,143.7 95.1,144.7 C95.7,145.7 95.7,147.2 96.3,148.2 C96.9,149.2 97.6,150.2 98.6,150.8 C99.5,151.4 100.8,152.0 102.0,152.0 C103.2,152.0 104.5,151.4 105.5,150.8 C106.5,150.2 107.5,149.1 108.2,148.2 C108.9,147.3 109.2,146.0 109.9,145.5 C110.6,145.0 111.6,144.7 112.5,145.0 C113.4,145.3 114.1,146.5 115.1,147.3 C116.1,148.1 117.5,149.2 118.6,149.6 C119.7,150.0 120.8,150.1 121.8,149.9 C122.8,149.7 123.8,148.9 124.7,148.2 C125.6,147.5 126.4,146.2 127.4,145.5 C128.4,144.8 130.2,144.1 130.8,143.8"/>
<path d="M25.2,211.9 C25.6,212.1 27.0,213.0 27.9,212.8 C28.8,212.7 29.5,211.7 30.5,211.0 C31.5,210.3 32.8,209.4 34.0,208.7 C35.2,208.0 36.4,207.3 37.5,206.6 C38.6,205.9 39.8,205.2 40.9,204.6 C42.0,204.0 43.1,203.3 44.4,202.8 C45.7,202.3 47.5,201.9 48.8,201.4 C50.1,200.9 51.1,200.4 52.3,199.7 C53.5,199.0 54.8,198.0 55.8,197.1 C56.8,196.2 57.5,195.3 58.4,194.4 C59.3,193.5 60.2,192.7 61.0,191.8 C61.8,190.9 62.7,190.1 63.3,189.2 C63.9,188.3 63.9,187.3 64.5,186.6 C65.1,185.9 65.9,185.3 66.8,184.8 C67.7,184.3 68.8,184.2 69.7,183.6 C70.6,183.0 71.7,182.1 72.4,181.3 C73.1,180.5 73.4,179.4 74.1,178.7 C74.8,178.0 76.0,177.7 76.7,177.3 C77.4,177.0 77.6,176.8 78.5,176.6 C79.4,176.4 81.0,176.5 82.0,176.1 C83.0,175.7 83.9,175.1 84.6,174.4 C85.3,173.7 85.6,172.6 86.3,172.1 C87.0,171.6 88.2,171.3 89.0,171.4 C89.8,171.5 90.6,172.0 91.1,172.6 C91.6,173.2 91.6,174.4 92.1,175.2 C92.6,176.0 93.4,176.9 94.2,177.3 C95.0,177.8 95.9,178.0 96.8,177.9 C97.7,177.8 98.7,177.4 99.4,177.0 C100.1,176.6 100.6,175.3 101.2,175.2 C101.8,175.0 102.4,175.5 102.9,176.1 C103.4,176.7 103.6,178.0 104.3,178.7 C105.0,179.4 106.2,179.8 107.3,180.5 C108.4,181.2 109.6,181.7 110.8,182.6 C112.0,183.5 113.1,184.6 114.3,185.7 C115.5,186.8 116.8,188.0 117.8,189.2 C118.8,190.4 119.4,191.4 120.0,192.7 C120.6,194.0 121.0,195.6 121.2,197.1 C121.4,198.6 121.4,200.1 121.2,201.4 C121.0,202.7 120.2,204.0 120.0,204.9 C119.8,205.8 120.3,206.3 119.8,207.0 C119.3,207.7 118.0,208.6 116.8,209.2 C115.6,209.8 113.7,210.2 112.4,210.5 C111.1,210.8 109.9,210.9 108.9,211.3 C107.9,211.7 106.9,212.4 106.3,213.1 C105.7,213.8 105.4,214.8 105.3,215.3 C105.2,215.9 105.8,216.2 105.9,216.4"/>
<path d="M107.2,214.4 C108.1,214.2 110.8,213.8 112.4,213.5 C114.0,213.2 115.9,212.8 116.8,212.9 C117.7,213.1 117.8,213.7 117.8,214.4 C117.8,215.1 117.0,216.1 117.0,217.0 C117.0,217.9 117.3,219.0 117.5,219.6 C117.7,220.2 118.1,220.7 118.4,220.7 C118.7,220.7 119.1,220.1 119.4,219.6 C119.7,219.1 119.7,218.0 120.3,217.4 C120.9,216.8 121.9,216.6 122.9,216.1 C123.9,215.6 125.2,214.8 126.4,214.4 C127.6,214.0 129.2,213.7 129.9,213.5 C130.7,213.3 130.7,213.3 130.9,213.3"/>
</g></g>
<g transform="translate(0.0,0)">
<path d="M105.5,169.7h0.78v0.78h-0.78zM105.2,168.6h0.78v0.78h-0.78zM105.3,169.9h0.78v0.78h-0.78zM47.1,197.5h0.78v0.78h-0.78zM47.0,196.2h0.78v0.78h-0.78zM46.0,195.5h0.78v0.78h-0.78zM74.6,159.3h0.78v0.78h-0.78zM75.5,159.3h0.78v0.78h-0.78zM74.6,159.6h0.78v0.78h-0.78zM89.7,159.6h0.78v0.78h-0.78zM90.8,159.8h0.78v0.78h-0.78zM122.1,160.4h0.78v0.78h-0.78zM119.2,165.7h0.78v0.78h-0.78zM119.1,166.4h0.78v0.78h-0.78zM68.9,147.0h0.78v0.78h-0.78zM86.3,152.6h0.78v0.78h-0.78zM73.6,169.7h0.78v0.78h-0.78zM70.8,148.2h0.78v0.78h-0.78zM70.3,148.2h0.78v0.78h-0.78zM70.4,147.1h0.78v0.78h-0.78zM92.2,166.6h0.78v0.78h-0.78zM93.1,166.4h0.78v0.78h-0.78zM79.1,165.6h0.78v0.78h-0.78zM124.4,149.4h0.78v0.78h-0.78zM124.2,150.6h0.78v0.78h-0.78zM125.1,151.3h0.78v0.78h-0.78zM115.1,173.7h0.78v0.78h-0.78zM55.8,186.0h0.78v0.78h-0.78zM116.4,156.9h0.78v0.78h-0.78zM82.2,145.3h0.78v0.78h-0.78zM95.9,167.4h0.78v0.78h-0.78zM84.6,154.9h0.78v0.78h-0.78zM85.0,155.2h0.78v0.78h-0.78zM83.9,153.9h0.78v0.78h-0.78zM85.3,154.1h0.78v0.78h-0.78zM84.6,153.7h0.78v0.78h-0.78zM97.3,156.8h0.78v0.78h-0.78zM97.7,157.3h0.78v0.78h-0.78zM97.1,156.3h0.78v0.78h-0.78zM29.5,208.5h0.78v0.78h-0.78zM29.6,206.9h0.78v0.78h-0.78zM62.1,139.0h0.78v0.78h-0.78zM123.4,165.0h0.78v0.78h-0.78zM123.2,166.0h0.78v0.78h-0.78zM124.1,165.4h0.78v0.78h-0.78zM123.8,165.2h0.78v0.78h-0.78zM124.0,165.4h0.78v0.78h-0.78zM66.0,176.5h0.78v0.78h-0.78zM66.1,175.6h0.78v0.78h-0.78zM119.7,152.1h0.78v0.78h-0.78zM48.6,127.3h0.78v0.78h-0.78zM62.3,187.5h0.78v0.78h-0.78zM113.2,156.3h0.78v0.78h-0.78zM89.7,148.7h0.78v0.78h-0.78zM129.1,147.8h0.78v0.78h-0.78zM130.8,148.6h0.78v0.78h-0.78zM130.2,148.5h0.78v0.78h-0.78zM130.2,148.6h0.78v0.78h-0.78zM67.6,176.9h0.78v0.78h-0.78zM53.9,183.8h0.78v0.78h-0.78zM62.1,174.4h0.78v0.78h-0.78zM62.0,174.3h0.78v0.78h-0.78zM72.0,160.9h0.78v0.78h-0.78zM112.3,154.3h0.78v0.78h-0.78zM89.2,146.6h0.78v0.78h-0.78zM89.9,145.5h0.78v0.78h-0.78zM89.2,146.2h0.78v0.78h-0.78zM89.8,146.4h0.78v0.78h-0.78zM57.6,183.2h0.78v0.78h-0.78zM70.3,168.4h0.78v0.78h-0.78zM70.4,168.3h0.78v0.78h-0.78zM70.9,168.3h0.78v0.78h-0.78zM70.2,166.7h0.78v0.78h-0.78zM96.7,166.8h0.78v0.78h-0.78zM68.9,171.5h0.78v0.78h-0.78zM45.1,186.2h0.78v0.78h-0.78zM44.4,186.4h0.78v0.78h-0.78zM121.5,161.2h0.78v0.78h-0.78zM43.7,197.8h0.78v0.78h-0.78zM44.2,197.5h0.78v0.78h-0.78zM43.2,197.7h0.78v0.78h-0.78zM79.9,173.2h0.78v0.78h-0.78zM79.6,172.1h0.78v0.78h-0.78zM77.2,167.8h0.78v0.78h-0.78zM46.5,183.1h0.78v0.78h-0.78zM87.5,139.2h0.78v0.78h-0.78zM116.6,166.2h0.78v0.78h-0.78zM85.9,163.0h0.78v0.78h-0.78zM25.8,208.3h0.78v0.78h-0.78zM117.0,155.2h0.78v0.78h-0.78zM125.6,164.8h0.78v0.78h-0.78zM83.2,160.4h0.78v0.78h-0.78zM83.5,159.0h0.78v0.78h-0.78zM110.2,147.2h0.78v0.78h-0.78zM109.4,176.5h0.78v0.78h-0.78zM46.7,192.7h0.78v0.78h-0.78zM45.3,192.4h0.78v0.78h-0.78zM115.0,168.5h0.78v0.78h-0.78zM54.6,182.8h0.78v0.78h-0.78zM53.8,182.1h0.78v0.78h-0.78zM96.5,162.2h0.78v0.78h-0.78zM41.7,194.6h0.78v0.78h-0.78zM85.0,144.9h0.78v0.78h-0.78zM84.5,144.5h0.78v0.78h-0.78zM130.5,182.7h0.78v0.78h-0.78zM81.7,157.3h0.78v0.78h-0.78zM81.3,156.6h0.78v0.78h-0.78zM108.0,169.8h0.78v0.78h-0.78zM106.7,171.2h0.78v0.78h-0.78zM41.4,189.2h0.78v0.78h-0.78zM39.5,189.6h0.78v0.78h-0.78zM51.2,184.2h0.78v0.78h-0.78zM47.1,190.1h0.78v0.78h-0.78zM119.2,151.0h0.78v0.78h-0.78zM84.7,150.4h0.78v0.78h-0.78zM53.6,185.9h0.78v0.78h-0.78zM53.0,185.9h0.78v0.78h-0.78zM53.3,186.0h0.78v0.78h-0.78zM33.5,195.7h0.78v0.78h-0.78zM115.1,169.7h0.78v0.78h-0.78zM114.2,169.4h0.78v0.78h-0.78zM44.4,194.6h0.78v0.78h-0.78zM42.8,193.6h0.78v0.78h-0.78zM25.1,202.2h0.78v0.78h-0.78zM85.4,168.8h0.78v0.78h-0.78zM85.0,168.7h0.78v0.78h-0.78zM85.7,168.3h0.78v0.78h-0.78zM85.5,168.8h0.78v0.78h-0.78zM80.0,164.0h0.78v0.78h-0.78zM67.1,182.5h0.78v0.78h-0.78zM67.7,181.8h0.78v0.78h-0.78zM60.1,187.0h0.78v0.78h-0.78zM61.1,186.4h0.78v0.78h-0.78zM59.6,186.9h0.78v0.78h-0.78zM73.1,148.4h0.78v0.78h-0.78zM45.1,188.1h0.78v0.78h-0.78zM45.2,188.0h0.78v0.78h-0.78zM43.9,188.1h0.78v0.78h-0.78zM79.1,168.6h0.78v0.78h-0.78zM90.1,161.7h0.78v0.78h-0.78zM90.0,161.7h0.78v0.78h-0.78zM126.6,167.1h0.78v0.78h-0.78zM126.6,167.3h0.78v0.78h-0.78zM102.9,156.3h0.78v0.78h-0.78zM102.7,157.3h0.78v0.78h-0.78zM79.3,174.0h0.78v0.78h-0.78zM78.5,174.5h0.78v0.78h-0.78zM60.2,182.2h0.78v0.78h-0.78zM60.7,181.5h0.78v0.78h-0.78zM28.3,203.8h0.78v0.78h-0.78zM79.1,158.5h0.78v0.78h-0.78zM101.5,154.1h0.78v0.78h-0.78zM102.2,154.5h0.78v0.78h-0.78zM101.7,154.3h0.78v0.78h-0.78zM101.3,155.3h0.78v0.78h-0.78zM124.0,153.4h0.78v0.78h-0.78zM76.8,144.4h0.78v0.78h-0.78zM75.7,144.5h0.78v0.78h-0.78zM130.4,158.0h0.78v0.78h-0.78zM130.3,158.3h0.78v0.78h-0.78zM129.4,157.3h0.78v0.78h-0.78zM49.7,200.3h0.78v0.78h-0.78zM123.0,179.1h0.78v0.78h-0.78zM86.3,151.9h0.78v0.78h-0.78zM88.3,151.3h0.78v0.78h-0.78zM90.6,145.0h0.78v0.78h-0.78zM129.1,162.0h0.78v0.78h-0.78zM58.1,187.0h0.78v0.78h-0.78zM58.6,186.4h0.78v0.78h-0.78zM85.5,144.9h0.78v0.78h-0.78zM85.5,145.7h0.78v0.78h-0.78zM86.0,144.2h0.78v0.78h-0.78zM110.6,169.3h0.78v0.78h-0.78zM83.5,157.3h0.78v0.78h-0.78zM107.5,174.4h0.78v0.78h-0.78zM108.0,174.6h0.78v0.78h-0.78zM107.2,174.7h0.78v0.78h-0.78zM100.2,165.3h0.78v0.78h-0.78zM101.0,166.9h0.78v0.78h-0.78zM120.3,160.1h0.78v0.78h-0.78zM109.6,170.1h0.78v0.78h-0.78zM59.2,181.9h0.78v0.78h-0.78zM28.7,198.7h0.78v0.78h-0.78zM29.9,197.3h0.78v0.78h-0.78zM78.6,157.5h0.78v0.78h-0.78zM74.8,162.3h0.78v0.78h-0.78zM74.0,160.4h0.78v0.78h-0.78zM119.9,179.7h0.78v0.78h-0.78zM127.3,173.4h0.78v0.78h-0.78zM30.2,200.2h0.78v0.78h-0.78zM29.0,200.5h0.78v0.78h-0.78zM30.3,200.0h0.78v0.78h-0.78zM31.0,200.1h0.78v0.78h-0.78zM68.8,175.5h0.78v0.78h-0.78zM40.5,196.2h0.78v0.78h-0.78zM92.3,145.1h0.78v0.78h-0.78zM92.0,146.0h0.78v0.78h-0.78zM68.5,177.6h0.78v0.78h-0.78zM68.1,177.7h0.78v0.78h-0.78zM67.4,177.3h0.78v0.78h-0.78zM68.1,175.8h0.78v0.78h-0.78zM93.4,169.0h0.78v0.78h-0.78zM82.9,159.7h0.78v0.78h-0.78zM60.7,179.4h0.78v0.78h-0.78zM104.0,157.5h0.78v0.78h-0.78zM104.9,158.5h0.78v0.78h-0.78zM105.3,158.3h0.78v0.78h-0.78zM121.5,154.4h0.78v0.78h-0.78zM121.7,153.9h0.78v0.78h-0.78zM116.7,165.6h0.78v0.78h-0.78zM99.0,159.3h0.78v0.78h-0.78zM95.5,174.4h0.78v0.78h-0.78zM95.1,148.9h0.78v0.78h-0.78zM95.0,149.0h0.78v0.78h-0.78zM88.5,152.8h0.78v0.78h-0.78zM87.4,152.5h0.78v0.78h-0.78zM80.8,171.2h0.78v0.78h-0.78zM80.7,171.8h0.78v0.78h-0.78zM72.3,160.5h0.78v0.78h-0.78zM73.7,161.8h0.78v0.78h-0.78zM38.9,196.9h0.78v0.78h-0.78zM65.9,167.2h0.78v0.78h-0.78zM114.7,177.7h0.78v0.78h-0.78zM114.2,178.5h0.78v0.78h-0.78zM115.2,177.7h0.78v0.78h-0.78zM90.8,154.2h0.78v0.78h-0.78zM90.6,154.2h0.78v0.78h-0.78zM91.1,154.1h0.78v0.78h-0.78zM91.0,153.3h0.78v0.78h-0.78zM90.3,154.2h0.78v0.78h-0.78zM82.6,173.6h0.78v0.78h-0.78zM71.6,174.9h0.78v0.78h-0.78zM70.7,175.2h0.78v0.78h-0.78zM111.1,171.3h0.78v0.78h-0.78zM109.0,174.8h0.78v0.78h-0.78zM110.2,174.4h0.78v0.78h-0.78zM108.9,175.3h0.78v0.78h-0.78zM80.2,168.2h0.78v0.78h-0.78zM71.8,164.1h0.78v0.78h-0.78zM101.6,152.5h0.78v0.78h-0.78zM128.0,154.5h0.78v0.78h-0.78zM127.5,155.2h0.78v0.78h-0.78zM128.5,154.8h0.78v0.78h-0.78zM55.7,186.5h0.78v0.78h-0.78zM55.9,186.5h0.78v0.78h-0.78zM55.7,186.4h0.78v0.78h-0.78zM55.5,186.3h0.78v0.78h-0.78zM61.7,187.3h0.78v0.78h-0.78zM62.3,187.8h0.78v0.78h-0.78zM62.6,186.6h0.78v0.78h-0.78zM93.6,173.8h0.78v0.78h-0.78zM94.1,173.2h0.78v0.78h-0.78zM120.8,178.6h0.78v0.78h-0.78zM121.0,179.7h0.78v0.78h-0.78zM120.8,179.5h0.78v0.78h-0.78zM76.0,155.1h0.78v0.78h-0.78zM101.5,166.9h0.78v0.78h-0.78zM101.2,167.2h0.78v0.78h-0.78zM101.5,166.6h0.78v0.78h-0.78zM100.4,167.0h0.78v0.78h-0.78zM33.4,194.0h0.78v0.78h-0.78zM33.5,194.0h0.78v0.78h-0.78zM62.6,187.2h0.78v0.78h-0.78zM113.3,152.3h0.78v0.78h-0.78zM112.1,152.4h0.78v0.78h-0.78zM112.9,152.5h0.78v0.78h-0.78zM113.4,152.9h0.78v0.78h-0.78zM81.9,155.4h0.78v0.78h-0.78zM82.1,153.6h0.78v0.78h-0.78zM82.3,153.6h0.78v0.78h-0.78zM82.2,154.0h0.78v0.78h-0.78zM81.3,154.1h0.78v0.78h-0.78zM82.1,154.6h0.78v0.78h-0.78zM130.7,163.4h0.78v0.78h-0.78zM130.8,165.1h0.78v0.78h-0.78zM37.3,189.5h0.78v0.78h-0.78zM87.5,140.1h0.78v0.78h-0.78zM86.4,140.6h0.78v0.78h-0.78zM87.4,140.3h0.78v0.78h-0.78zM122.7,199.0h0.78v0.78h-0.78zM124.2,200.0h0.78v0.78h-0.78zM124.0,199.8h0.78v0.78h-0.78zM123.1,200.0h0.78v0.78h-0.78zM79.6,155.0h0.78v0.78h-0.78zM78.0,148.8h0.78v0.78h-0.78zM77.9,147.9h0.78v0.78h-0.78zM77.1,147.3h0.78v0.78h-0.78zM95.7,160.6h0.78v0.78h-0.78zM95.4,161.4h0.78v0.78h-0.78zM95.4,162.2h0.78v0.78h-0.78zM107.1,156.2h0.78v0.78h-0.78zM56.7,181.2h0.78v0.78h-0.78zM118.1,169.5h0.78v0.78h-0.78zM66.3,168.3h0.78v0.78h-0.78zM67.8,174.4h0.78v0.78h-0.78zM68.4,175.4h0.78v0.78h-0.78zM48.1,184.3h0.78v0.78h-0.78zM47.7,184.1h0.78v0.78h-0.78zM120.3,160.5h0.78v0.78h-0.78zM119.4,160.4h0.78v0.78h-0.78zM69.0,172.1h0.78v0.78h-0.78zM125.2,202.1h0.78v0.78h-0.78zM125.2,201.8h0.78v0.78h-0.78zM124.1,202.5h0.78v0.78h-0.78zM94.1,170.6h0.78v0.78h-0.78zM58.3,172.6h0.78v0.78h-0.78zM124.3,149.6h0.78v0.78h-0.78zM82.5,162.4h0.78v0.78h-0.78zM127.8,158.5h0.78v0.78h-0.78zM44.9,201.6h0.78v0.78h-0.78zM46.4,201.1h0.78v0.78h-0.78zM45.8,201.7h0.78v0.78h-0.78zM106.8,158.0h0.78v0.78h-0.78zM123.9,161.9h0.78v0.78h-0.78zM109.7,168.7h0.78v0.78h-0.78zM113.9,162.7h0.78v0.78h-0.78zM115.8,163.9h0.78v0.78h-0.78zM115.1,162.8h0.78v0.78h-0.78zM58.2,181.7h0.78v0.78h-0.78zM113.2,162.3h0.78v0.78h-0.78zM112.9,161.1h0.78v0.78h-0.78zM114.0,162.1h0.78v0.78h-0.78zM113.0,161.9h0.78v0.78h-0.78zM102.9,163.1h0.78v0.78h-0.78zM102.2,162.8h0.78v0.78h-0.78zM102.0,162.8h0.78v0.78h-0.78zM85.5,145.8h0.78v0.78h-0.78zM85.3,145.0h0.78v0.78h-0.78zM86.2,145.6h0.78v0.78h-0.78zM85.3,146.0h0.78v0.78h-0.78zM86.1,145.3h0.78v0.78h-0.78zM84.4,145.9h0.78v0.78h-0.78zM47.2,193.5h0.78v0.78h-0.78zM123.0,158.8h0.78v0.78h-0.78zM72.3,172.6h0.78v0.78h-0.78zM74.3,170.6h0.78v0.78h-0.78zM81.6,145.0h0.78v0.78h-0.78zM110.5,149.6h0.78v0.78h-0.78zM125.8,149.4h0.78v0.78h-0.78zM126.4,148.8h0.78v0.78h-0.78zM125.9,162.2h0.78v0.78h-0.78zM125.7,162.7h0.78v0.78h-0.78zM125.8,163.4h0.78v0.78h-0.78zM64.6,175.1h0.78v0.78h-0.78zM63.9,174.6h0.78v0.78h-0.78zM64.5,175.7h0.78v0.78h-0.78zM50.8,185.2h0.78v0.78h-0.78zM51.4,184.5h0.78v0.78h-0.78zM41.8,197.1h0.78v0.78h-0.78zM42.7,197.6h0.78v0.78h-0.78zM42.4,197.2h0.78v0.78h-0.78zM42.3,196.5h0.78v0.78h-0.78zM45.8,197.0h0.78v0.78h-0.78zM45.9,196.7h0.78v0.78h-0.78zM36.6,194.9h0.78v0.78h-0.78zM35.7,195.3h0.78v0.78h-0.78zM37.0,195.5h0.78v0.78h-0.78zM114.9,174.8h0.78v0.78h-0.78zM111.4,173.7h0.78v0.78h-0.78zM119.5,165.2h0.78v0.78h-0.78zM120.6,165.4h0.78v0.78h-0.78zM37.1,194.6h0.78v0.78h-0.78zM37.0,194.5h0.78v0.78h-0.78zM36.8,193.8h0.78v0.78h-0.78zM27.6,202.9h0.78v0.78h-0.78zM33.8,199.2h0.78v0.78h-0.78zM33.3,199.5h0.78v0.78h-0.78zM35.0,199.3h0.78v0.78h-0.78zM115.6,155.7h0.78v0.78h-0.78zM116.2,156.4h0.78v0.78h-0.78zM115.3,155.4h0.78v0.78h-0.78zM118.1,182.2h0.78v0.78h-0.78zM77.8,160.3h0.78v0.78h-0.78zM73.9,160.9h0.78v0.78h-0.78zM74.8,162.7h0.78v0.78h-0.78zM125.7,198.5h0.78v0.78h-0.78zM127.1,198.9h0.78v0.78h-0.78zM74.5,169.6h0.78v0.78h-0.78zM108.0,175.2h0.78v0.78h-0.78zM108.8,175.0h0.78v0.78h-0.78zM108.6,174.7h0.78v0.78h-0.78zM84.1,142.9h0.78v0.78h-0.78zM83.6,142.3h0.78v0.78h-0.78zM47.2,191.9h0.78v0.78h-0.78zM86.7,155.7h0.78v0.78h-0.78zM122.0,179.6h0.78v0.78h-0.78zM89.3,151.2h0.78v0.78h-0.78zM38.9,200.0h0.78v0.78h-0.78zM38.5,199.4h0.78v0.78h-0.78zM38.8,200.1h0.78v0.78h-0.78zM60.8,175.7h0.78v0.78h-0.78zM61.5,175.6h0.78v0.78h-0.78zM74.0,143.0h0.78v0.78h-0.78zM47.3,196.3h0.78v0.78h-0.78zM100.0,164.7h0.78v0.78h-0.78zM100.0,164.2h0.78v0.78h-0.78zM34.3,194.1h0.78v0.78h-0.78zM32.7,194.4h0.78v0.78h-0.78zM33.2,195.0h0.78v0.78h-0.78zM32.9,194.3h0.78v0.78h-0.78zM122.4,166.1h0.78v0.78h-0.78zM73.3,153.5h0.78v0.78h-0.78zM94.6,153.6h0.78v0.78h-0.78zM123.3,158.2h0.78v0.78h-0.78zM103.8,158.8h0.78v0.78h-0.78zM103.6,159.1h0.78v0.78h-0.78zM103.0,158.6h0.78v0.78h-0.78zM103.0,158.5h0.78v0.78h-0.78zM102.8,159.1h0.78v0.78h-0.78zM83.6,170.0h0.78v0.78h-0.78zM120.2,164.4h0.78v0.78h-0.78zM122.6,164.2h0.78v0.78h-0.78zM121.1,163.7h0.78v0.78h-0.78zM71.7,146.1h0.78v0.78h-0.78zM76.4,143.7h0.78v0.78h-0.78zM81.8,172.0h0.78v0.78h-0.78zM98.5,170.5h0.78v0.78h-0.78zM99.2,169.4h0.78v0.78h-0.78zM118.9,154.3h0.78v0.78h-0.78zM119.0,153.8h0.78v0.78h-0.78zM113.4,151.9h0.78v0.78h-0.78zM113.8,152.4h0.78v0.78h-0.78zM112.9,151.7h0.78v0.78h-0.78zM82.8,159.9h0.78v0.78h-0.78zM84.2,150.1h0.78v0.78h-0.78zM52.3,178.2h0.78v0.78h-0.78zM52.8,177.9h0.78v0.78h-0.78zM52.2,177.9h0.78v0.78h-0.78zM40.0,194.8h0.78v0.78h-0.78zM56.5,187.6h0.78v0.78h-0.78zM56.9,188.5h0.78v0.78h-0.78zM57.4,188.0h0.78v0.78h-0.78zM56.2,188.7h0.78v0.78h-0.78zM57.1,188.6h0.78v0.78h-0.78zM56.0,188.8h0.78v0.78h-0.78zM57.0,186.7h0.78v0.78h-0.78zM56.8,187.2h0.78v0.78h-0.78zM57.1,187.4h0.78v0.78h-0.78zM56.2,187.4h0.78v0.78h-0.78zM57.5,188.6h0.78v0.78h-0.78zM86.5,166.7h0.78v0.78h-0.78zM86.4,166.4h0.78v0.78h-0.78zM64.2,173.7h0.78v0.78h-0.78zM63.9,174.0h0.78v0.78h-0.78zM64.7,173.9h0.78v0.78h-0.78zM64.2,173.0h0.78v0.78h-0.78zM71.0,180.5h0.78v0.78h-0.78zM38.7,195.2h0.78v0.78h-0.78zM39.8,196.3h0.78v0.78h-0.78zM101.0,160.3h0.78v0.78h-0.78zM100.0,160.3h0.78v0.78h-0.78zM99.9,159.8h0.78v0.78h-0.78zM100.4,159.6h0.78v0.78h-0.78zM75.4,166.4h0.78v0.78h-0.78zM81.9,156.9h0.78v0.78h-0.78zM81.6,156.6h0.78v0.78h-0.78zM82.2,155.8h0.78v0.78h-0.78zM107.5,161.5h0.78v0.78h-0.78zM91.6,151.7h0.78v0.78h-0.78zM68.7,178.0h0.78v0.78h-0.78zM59.5,171.5h0.78v0.78h-0.78zM113.2,164.3h0.78v0.78h-0.78zM114.3,164.7h0.78v0.78h-0.78zM114.1,163.2h0.78v0.78h-0.78zM114.1,163.2h0.78v0.78h-0.78zM109.0,166.9h0.78v0.78h-0.78zM111.8,169.5h0.78v0.78h-0.78zM77.8,173.6h0.78v0.78h-0.78zM77.5,173.7h0.78v0.78h-0.78zM79.1,173.6h0.78v0.78h-0.78zM78.2,173.3h0.78v0.78h-0.78zM78.4,173.3h0.78v0.78h-0.78zM47.5,192.6h0.78v0.78h-0.78zM66.7,174.5h0.78v0.78h-0.78zM107.1,153.6h0.78v0.78h-0.78zM75.2,152.8h0.78v0.78h-0.78zM110.3,171.9h0.78v0.78h-0.78zM102.0,153.4h0.78v0.78h-0.78zM95.1,155.9h0.78v0.78h-0.78zM95.2,155.7h0.78v0.78h-0.78zM39.8,190.7h0.78v0.78h-0.78zM88.7,161.8h0.78v0.78h-0.78zM99.7,157.3h0.78v0.78h-0.78zM73.5,177.2h0.78v0.78h-0.78zM73.9,175.5h0.78v0.78h-0.78zM73.4,176.7h0.78v0.78h-0.78zM73.7,177.1h0.78v0.78h-0.78zM73.6,177.0h0.78v0.78h-0.78zM72.8,175.7h0.78v0.78h-0.78zM73.5,175.9h0.78v0.78h-0.78zM72.6,176.6h0.78v0.78h-0.78zM73.6,177.0h0.78v0.78h-0.78zM73.2,175.9h0.78v0.78h-0.78zM73.3,176.9h0.78v0.78h-0.78zM90.4,162.0h0.78v0.78h-0.78zM90.5,161.1h0.78v0.78h-0.78zM30.5,209.6h0.78v0.78h-0.78zM30.0,210.8h0.78v0.78h-0.78zM77.3,154.8h0.78v0.78h-0.78zM77.7,154.3h0.78v0.78h-0.78zM77.7,154.3h0.78v0.78h-0.78zM73.5,167.7h0.78v0.78h-0.78zM64.3,183.8h0.78v0.78h-0.78zM30.3,207.5h0.78v0.78h-0.78zM30.3,207.2h0.78v0.78h-0.78zM86.4,153.1h0.78v0.78h-0.78zM72.9,179.4h0.78v0.78h-0.78zM35.5,200.7h0.78v0.78h-0.78zM35.0,200.7h0.78v0.78h-0.78zM26.3,209.1h0.78v0.78h-0.78zM26.2,208.2h0.78v0.78h-0.78zM26.9,207.9h0.78v0.78h-0.78zM73.4,137.5h0.78v0.78h-0.78zM107.5,175.2h0.78v0.78h-0.78zM112.1,145.3h0.78v0.78h-0.78zM111.6,145.4h0.78v0.78h-0.78zM88.3,144.0h0.78v0.78h-0.78zM70.2,173.5h0.78v0.78h-0.78zM70.5,172.3h0.78v0.78h-0.78zM69.6,171.5h0.78v0.78h-0.78zM82.5,162.0h0.78v0.78h-0.78zM57.5,184.3h0.78v0.78h-0.78zM56.9,185.2h0.78v0.78h-0.78zM58.0,184.1h0.78v0.78h-0.78zM73.5,150.1h0.78v0.78h-0.78zM75.2,149.3h0.78v0.78h-0.78zM75.0,148.9h0.78v0.78h-0.78zM75.4,149.8h0.78v0.78h-0.78zM74.5,149.5h0.78v0.78h-0.78zM75.0,172.0h0.78v0.78h-0.78zM36.5,193.8h0.78v0.78h-0.78zM35.5,194.6h0.78v0.78h-0.78zM35.9,195.1h0.78v0.78h-0.78zM93.6,168.1h0.78v0.78h-0.78zM107.8,169.4h0.78v0.78h-0.78zM108.8,170.0h0.78v0.78h-0.78zM94.0,149.8h0.78v0.78h-0.78zM109.5,153.9h0.78v0.78h-0.78zM109.6,154.3h0.78v0.78h-0.78zM109.5,153.6h0.78v0.78h-0.78zM107.9,154.8h0.78v0.78h-0.78zM108.4,153.7h0.78v0.78h-0.78zM108.4,154.4h0.78v0.78h-0.78zM109.0,154.6h0.78v0.78h-0.78zM26.0,209.6h0.78v0.78h-0.78zM46.8,194.3h0.78v0.78h-0.78zM46.5,195.7h0.78v0.78h-0.78zM71.8,169.9h0.78v0.78h-0.78zM70.5,169.7h0.78v0.78h-0.78zM93.9,166.1h0.78v0.78h-0.78zM95.0,166.5h0.78v0.78h-0.78zM93.7,173.0h0.78v0.78h-0.78zM94.5,173.3h0.78v0.78h-0.78zM29.5,200.0h0.78v0.78h-0.78zM113.6,157.7h0.78v0.78h-0.78zM115.0,157.8h0.78v0.78h-0.78zM94.7,155.5h0.78v0.78h-0.78zM48.0,188.0h0.78v0.78h-0.78zM45.6,187.5h0.78v0.78h-0.78zM46.5,187.8h0.78v0.78h-0.78zM59.9,185.4h0.78v0.78h-0.78zM110.5,155.3h0.78v0.78h-0.78zM88.8,164.8h0.78v0.78h-0.78zM88.9,165.6h0.78v0.78h-0.78zM89.6,164.9h0.78v0.78h-0.78zM89.0,165.3h0.78v0.78h-0.78zM89.4,164.5h0.78v0.78h-0.78zM88.8,165.4h0.78v0.78h-0.78zM88.9,165.1h0.78v0.78h-0.78zM89.0,165.5h0.78v0.78h-0.78zM89.1,164.2h0.78v0.78h-0.78zM88.9,165.0h0.78v0.78h-0.78zM72.5,158.0h0.78v0.78h-0.78zM71.7,159.6h0.78v0.78h-0.78zM72.3,159.0h0.78v0.78h-0.78zM114.5,152.1h0.78v0.78h-0.78zM52.9,199.1h0.78v0.78h-0.78zM78.0,171.8h0.78v0.78h-0.78zM94.3,149.7h0.78v0.78h-0.78zM94.0,150.3h0.78v0.78h-0.78zM58.8,189.6h0.78v0.78h-0.78zM56.4,181.3h0.78v0.78h-0.78zM57.4,182.7h0.78v0.78h-0.78zM55.3,180.1h0.78v0.78h-0.78zM34.1,200.0h0.78v0.78h-0.78zM33.5,199.7h0.78v0.78h-0.78zM33.9,200.1h0.78v0.78h-0.78zM33.4,200.9h0.78v0.78h-0.78zM130.1,152.2h0.78v0.78h-0.78zM74.1,152.1h0.78v0.78h-0.78zM74.5,175.2h0.78v0.78h-0.78zM77.5,149.7h0.78v0.78h-0.78zM125.9,166.9h0.78v0.78h-0.78zM126.1,168.1h0.78v0.78h-0.78zM126.2,167.4h0.78v0.78h-0.78zM99.5,169.2h0.78v0.78h-0.78zM99.0,169.2h0.78v0.78h-0.78zM57.2,192.2h0.78v0.78h-0.78zM56.0,192.4h0.78v0.78h-0.78zM87.8,164.4h0.78v0.78h-0.78zM81.6,159.8h0.78v0.78h-0.78zM81.8,160.0h0.78v0.78h-0.78zM65.5,176.5h0.78v0.78h-0.78zM64.2,176.6h0.78v0.78h-0.78zM64.3,175.6h0.78v0.78h-0.78zM64.2,176.9h0.78v0.78h-0.78zM58.4,178.4h0.78v0.78h-0.78zM77.0,168.7h0.78v0.78h-0.78zM25.2,210.6h0.78v0.78h-0.78zM87.8,164.5h0.78v0.78h-0.78zM128.9,145.3h0.78v0.78h-0.78zM107.7,166.4h0.78v0.78h-0.78zM107.7,166.1h0.78v0.78h-0.78zM107.0,166.9h0.78v0.78h-0.78zM81.5,149.8h0.78v0.78h-0.78zM81.6,151.2h0.78v0.78h-0.78zM51.6,187.7h0.78v0.78h-0.78zM52.5,183.4h0.78v0.78h-0.78zM84.9,167.0h0.78v0.78h-0.78zM125.4,148.5h0.78v0.78h-0.78zM112.5,162.4h0.78v0.78h-0.78zM82.5,164.9h0.78v0.78h-0.78zM82.2,164.8h0.78v0.78h-0.78zM82.7,166.0h0.78v0.78h-0.78zM82.6,165.3h0.78v0.78h-0.78zM82.0,164.1h0.78v0.78h-0.78zM82.6,165.0h0.78v0.78h-0.78zM82.3,164.9h0.78v0.78h-0.78zM81.7,164.5h0.78v0.78h-0.78zM37.2,202.1h0.78v0.78h-0.78zM37.1,200.9h0.78v0.78h-0.78zM56.7,180.0h0.78v0.78h-0.78zM57.0,180.2h0.78v0.78h-0.78zM57.9,180.4h0.78v0.78h-0.78zM80.6,151.8h0.78v0.78h-0.78zM63.7,176.3h0.78v0.78h-0.78zM63.2,176.8h0.78v0.78h-0.78zM129.0,165.5h0.78v0.78h-0.78zM126.9,150.3h0.78v0.78h-0.78zM41.7,200.1h0.78v0.78h-0.78zM40.3,199.7h0.78v0.78h-0.78zM41.4,198.9h0.78v0.78h-0.78zM41.2,199.1h0.78v0.78h-0.78zM40.9,199.3h0.78v0.78h-0.78zM58.4,134.8h0.78v0.78h-0.78zM130.8,211.8h0.78v0.78h-0.78zM130.2,213.3h0.78v0.78h-0.78zM129.8,212.8h0.78v0.78h-0.78zM130.0,211.8h0.78v0.78h-0.78zM50.2,184.4h0.78v0.78h-0.78zM49.9,184.8h0.78v0.78h-0.78zM50.0,185.3h0.78v0.78h-0.78zM50.4,184.7h0.78v0.78h-0.78zM82.7,151.8h0.78v0.78h-0.78zM84.3,152.8h0.78v0.78h-0.78zM83.0,152.7h0.78v0.78h-0.78zM100.9,168.2h0.78v0.78h-0.78zM100.7,168.7h0.78v0.78h-0.78zM95.2,168.0h0.78v0.78h-0.78zM56.4,176.0h0.78v0.78h-0.78zM56.0,175.2h0.78v0.78h-0.78zM55.7,174.9h0.78v0.78h-0.78zM43.3,191.4h0.78v0.78h-0.78zM109.5,176.9h0.78v0.78h-0.78zM109.5,175.8h0.78v0.78h-0.78zM111.0,171.9h0.78v0.78h-0.78zM103.9,154.5h0.78v0.78h-0.78zM104.3,153.6h0.78v0.78h-0.78zM120.6,214.5h0.78v0.78h-0.78zM89.8,144.7h0.78v0.78h-0.78zM90.5,144.0h0.78v0.78h-0.78zM112.7,167.2h0.78v0.78h-0.78zM56.9,194.6h0.78v0.78h-0.78zM95.1,169.9h0.78v0.78h-0.78zM95.1,169.7h0.78v0.78h-0.78zM119.1,160.2h0.78v0.78h-0.78zM127.3,172.9h0.78v0.78h-0.78zM108.2,167.9h0.78v0.78h-0.78zM108.9,167.5h0.78v0.78h-0.78zM108.3,168.3h0.78v0.78h-0.78zM108.2,167.9h0.78v0.78h-0.78zM108.1,167.3h0.78v0.78h-0.78zM99.2,161.4h0.78v0.78h-0.78zM99.9,161.9h0.78v0.78h-0.78zM100.1,161.4h0.78v0.78h-0.78zM106.5,164.9h0.78v0.78h-0.78zM128.9,165.2h0.78v0.78h-0.78zM119.9,153.2h0.78v0.78h-0.78zM45.7,186.7h0.78v0.78h-0.78zM116.6,167.1h0.78v0.78h-0.78zM117.6,166.5h0.78v0.78h-0.78zM118.2,163.3h0.78v0.78h-0.78zM104.2,167.0h0.78v0.78h-0.78zM82.0,143.5h0.78v0.78h-0.78zM81.5,143.8h0.78v0.78h-0.78zM101.7,173.1h0.78v0.78h-0.78zM100.6,174.0h0.78v0.78h-0.78zM101.3,173.0h0.78v0.78h-0.78zM101.2,172.3h0.78v0.78h-0.78zM101.3,174.0h0.78v0.78h-0.78zM75.2,169.7h0.78v0.78h-0.78zM73.2,169.9h0.78v0.78h-0.78zM100.2,160.7h0.78v0.78h-0.78zM100.0,159.0h0.78v0.78h-0.78zM90.7,158.1h0.78v0.78h-0.78zM89.9,157.9h0.78v0.78h-0.78zM120.5,166.1h0.78v0.78h-0.78zM36.2,201.6h0.78v0.78h-0.78zM36.0,201.4h0.78v0.78h-0.78zM111.2,158.7h0.78v0.78h-0.78zM110.1,158.9h0.78v0.78h-0.78zM110.6,176.4h0.78v0.78h-0.78zM128.3,165.9h0.78v0.78h-0.78zM129.0,164.9h0.78v0.78h-0.78zM127.5,164.8h0.78v0.78h-0.78zM55.0,179.1h0.78v0.78h-0.78zM56.5,179.5h0.78v0.78h-0.78zM56.9,179.2h0.78v0.78h-0.78zM55.1,178.7h0.78v0.78h-0.78zM56.8,178.7h0.78v0.78h-0.78zM92.0,172.7h0.78v0.78h-0.78zM93.3,172.0h0.78v0.78h-0.78zM78.7,155.5h0.78v0.78h-0.78zM81.2,156.4h0.78v0.78h-0.78zM89.2,147.4h0.78v0.78h-0.78zM39.3,202.4h0.78v0.78h-0.78zM38.5,202.1h0.78v0.78h-0.78zM39.1,202.7h0.78v0.78h-0.78zM53.1,192.2h0.78v0.78h-0.78zM127.1,160.5h0.78v0.78h-0.78zM44.7,187.3h0.78v0.78h-0.78zM128.3,149.5h0.78v0.78h-0.78zM127.3,149.9h0.78v0.78h-0.78zM60.4,177.5h0.78v0.78h-0.78zM80.2,168.9h0.78v0.78h-0.78zM81.2,169.1h0.78v0.78h-0.78zM81.3,169.6h0.78v0.78h-0.78zM75.8,166.4h0.78v0.78h-0.78zM125.9,160.9h0.78v0.78h-0.78zM124.8,162.6h0.78v0.78h-0.78zM87.2,167.5h0.78v0.78h-0.78zM72.0,143.5h0.78v0.78h-0.78zM73.7,156.0h0.78v0.78h-0.78zM78.6,172.2h0.78v0.78h-0.78zM70.1,173.3h0.78v0.78h-0.78zM70.0,173.6h0.78v0.78h-0.78zM36.8,195.3h0.78v0.78h-0.78zM47.4,188.2h0.78v0.78h-0.78zM47.2,188.1h0.78v0.78h-0.78zM46.5,189.5h0.78v0.78h-0.78zM61.2,185.0h0.78v0.78h-0.78zM60.8,184.5h0.78v0.78h-0.78zM30.9,208.8h0.78v0.78h-0.78zM31.7,209.0h0.78v0.78h-0.78zM29.8,208.9h0.78v0.78h-0.78zM29.3,200.0h0.78v0.78h-0.78zM27.7,206.4h0.78v0.78h-0.78zM77.2,164.7h0.78v0.78h-0.78zM57.4,181.6h0.78v0.78h-0.78zM119.5,157.0h0.78v0.78h-0.78zM112.3,160.8h0.78v0.78h-0.78zM40.8,195.2h0.78v0.78h-0.78zM40.9,195.0h0.78v0.78h-0.78zM41.3,195.7h0.78v0.78h-0.78zM40.4,194.4h0.78v0.78h-0.78zM55.0,187.6h0.78v0.78h-0.78zM126.8,150.9h0.78v0.78h-0.78zM104.3,155.1h0.78v0.78h-0.78zM72.3,174.6h0.78v0.78h-0.78zM71.4,173.8h0.78v0.78h-0.78zM99.8,161.0h0.78v0.78h-0.78zM99.2,162.0h0.78v0.78h-0.78zM97.2,166.3h0.78v0.78h-0.78zM27.0,208.5h0.78v0.78h-0.78zM27.6,207.5h0.78v0.78h-0.78zM82.0,166.0h0.78v0.78h-0.78zM83.2,166.0h0.78v0.78h-0.78zM82.4,166.1h0.78v0.78h-0.78zM81.9,166.2h0.78v0.78h-0.78zM82.5,167.1h0.78v0.78h-0.78zM67.4,140.5h0.78v0.78h-0.78zM121.2,162.9h0.78v0.78h-0.78zM120.9,161.8h0.78v0.78h-0.78zM73.1,140.2h0.78v0.78h-0.78zM107.9,151.8h0.78v0.78h-0.78zM69.8,170.4h0.78v0.78h-0.78zM70.4,171.1h0.78v0.78h-0.78zM50.0,191.0h0.78v0.78h-0.78zM78.5,140.9h0.78v0.78h-0.78zM80.0,141.1h0.78v0.78h-0.78zM126.9,156.2h0.78v0.78h-0.78zM127.1,156.0h0.78v0.78h-0.78zM126.3,155.2h0.78v0.78h-0.78zM126.3,155.9h0.78v0.78h-0.78zM127.7,156.7h0.78v0.78h-0.78zM117.8,164.2h0.78v0.78h-0.78zM98.7,167.3h0.78v0.78h-0.78zM97.1,167.1h0.78v0.78h-0.78zM97.8,167.0h0.78v0.78h-0.78zM92.1,145.6h0.78v0.78h-0.78zM92.0,146.3h0.78v0.78h-0.78zM76.7,173.1h0.78v0.78h-0.78zM78.4,172.3h0.78v0.78h-0.78zM76.5,171.6h0.78v0.78h-0.78zM77.1,152.4h0.78v0.78h-0.78zM104.1,158.8h0.78v0.78h-0.78zM103.9,157.7h0.78v0.78h-0.78zM104.0,157.7h0.78v0.78h-0.78zM115.2,162.0h0.78v0.78h-0.78zM42.1,196.2h0.78v0.78h-0.78zM39.4,192.8h0.78v0.78h-0.78zM38.4,192.5h0.78v0.78h-0.78zM40.0,193.3h0.78v0.78h-0.78zM112.0,176.2h0.78v0.78h-0.78zM91.1,153.8h0.78v0.78h-0.78zM90.2,152.8h0.78v0.78h-0.78zM97.1,164.5h0.78v0.78h-0.78zM98.3,165.2h0.78v0.78h-0.78zM64.3,172.6h0.78v0.78h-0.78zM64.6,172.8h0.78v0.78h-0.78zM73.7,157.0h0.78v0.78h-0.78zM76.9,164.9h0.78v0.78h-0.78zM40.0,197.0h0.78v0.78h-0.78zM39.8,197.4h0.78v0.78h-0.78zM129.6,160.5h0.78v0.78h-0.78zM128.9,161.3h0.78v0.78h-0.78zM129.1,161.4h0.78v0.78h-0.78zM129.9,162.1h0.78v0.78h-0.78zM129.1,161.8h0.78v0.78h-0.78zM129.9,161.5h0.78v0.78h-0.78zM130.1,161.8h0.78v0.78h-0.78zM129.6,160.7h0.78v0.78h-0.78zM129.2,161.3h0.78v0.78h-0.78zM129.4,161.9h0.78v0.78h-0.78zM64.5,180.6h0.78v0.78h-0.78zM64.1,180.0h0.78v0.78h-0.78zM64.5,180.4h0.78v0.78h-0.78zM123.4,156.3h0.78v0.78h-0.78zM122.9,155.9h0.78v0.78h-0.78zM123.0,156.4h0.78v0.78h-0.78zM123.2,155.8h0.78v0.78h-0.78zM63.3,185.3h0.78v0.78h-0.78zM62.9,184.9h0.78v0.78h-0.78zM78.5,163.8h0.78v0.78h-0.78zM79.0,163.6h0.78v0.78h-0.78zM92.0,147.9h0.78v0.78h-0.78zM90.6,148.2h0.78v0.78h-0.78zM38.8,188.4h0.78v0.78h-0.78zM38.4,189.2h0.78v0.78h-0.78zM116.1,158.7h0.78v0.78h-0.78zM116.2,159.6h0.78v0.78h-0.78zM79.3,169.6h0.78v0.78h-0.78zM79.0,169.1h0.78v0.78h-0.78zM79.6,168.6h0.78v0.78h-0.78zM87.2,154.1h0.78v0.78h-0.78zM86.5,154.7h0.78v0.78h-0.78zM46.8,199.3h0.78v0.78h-0.78zM47.0,198.0h0.78v0.78h-0.78zM47.2,198.2h0.78v0.78h-0.78zM46.5,198.8h0.78v0.78h-0.78zM76.7,171.2h0.78v0.78h-0.78zM76.8,169.8h0.78v0.78h-0.78zM75.8,169.9h0.78v0.78h-0.78zM98.6,167.6h0.78v0.78h-0.78zM97.1,167.2h0.78v0.78h-0.78zM49.2,197.3h0.78v0.78h-0.78zM47.1,196.8h0.78v0.78h-0.78zM49.4,196.4h0.78v0.78h-0.78zM49.6,197.8h0.78v0.78h-0.78zM56.0,183.1h0.78v0.78h-0.78zM74.5,148.9h0.78v0.78h-0.78zM81.1,170.6h0.78v0.78h-0.78zM68.6,178.8h0.78v0.78h-0.78zM68.4,177.8h0.78v0.78h-0.78zM69.1,177.7h0.78v0.78h-0.78zM43.2,200.0h0.78v0.78h-0.78zM123.2,157.4h0.78v0.78h-0.78zM122.6,157.9h0.78v0.78h-0.78zM115.4,175.6h0.78v0.78h-0.78zM40.1,189.6h0.78v0.78h-0.78zM83.4,142.8h0.78v0.78h-0.78zM37.4,196.1h0.78v0.78h-0.78zM37.0,195.6h0.78v0.78h-0.78zM37.9,195.6h0.78v0.78h-0.78zM85.4,164.9h0.78v0.78h-0.78zM87.1,163.1h0.78v0.78h-0.78zM59.6,183.9h0.78v0.78h-0.78zM88.9,165.2h0.78v0.78h-0.78zM89.8,165.5h0.78v0.78h-0.78zM89.8,165.5h0.78v0.78h-0.78zM90.0,164.5h0.78v0.78h-0.78zM95.8,167.1h0.78v0.78h-0.78zM67.8,173.3h0.78v0.78h-0.78zM114.6,166.9h0.78v0.78h-0.78zM113.5,166.1h0.78v0.78h-0.78zM113.4,166.5h0.78v0.78h-0.78zM97.2,166.5h0.78v0.78h-0.78zM55.6,192.4h0.78v0.78h-0.78zM55.7,191.4h0.78v0.78h-0.78zM55.7,190.8h0.78v0.78h-0.78zM112.2,151.5h0.78v0.78h-0.78zM111.7,172.3h0.78v0.78h-0.78zM30.6,195.4h0.78v0.78h-0.78zM106.7,161.5h0.78v0.78h-0.78zM107.6,176.7h0.78v0.78h-0.78zM89.5,145.4h0.78v0.78h-0.78zM126.4,172.9h0.78v0.78h-0.78zM64.4,172.7h0.78v0.78h-0.78zM64.3,173.9h0.78v0.78h-0.78zM65.1,172.7h0.78v0.78h-0.78zM126.3,162.9h0.78v0.78h-0.78zM126.1,163.0h0.78v0.78h-0.78zM94.0,175.9h0.78v0.78h-0.78zM93.4,176.3h0.78v0.78h-0.78zM72.4,140.4h0.78v0.78h-0.78zM72.7,139.3h0.78v0.78h-0.78zM108.3,175.2h0.78v0.78h-0.78zM108.5,174.4h0.78v0.78h-0.78zM108.5,173.5h0.78v0.78h-0.78zM35.5,195.6h0.78v0.78h-0.78zM124.9,164.0h0.78v0.78h-0.78zM124.8,163.7h0.78v0.78h-0.78zM124.5,163.3h0.78v0.78h-0.78zM123.2,163.0h0.78v0.78h-0.78zM61.9,176.6h0.78v0.78h-0.78zM62.9,176.5h0.78v0.78h-0.78zM51.2,189.1h0.78v0.78h-0.78zM51.4,189.0h0.78v0.78h-0.78zM123.5,159.6h0.78v0.78h-0.78zM57.6,178.2h0.78v0.78h-0.78zM57.6,177.9h0.78v0.78h-0.78zM58.5,178.7h0.78v0.78h-0.78zM57.9,176.9h0.78v0.78h-0.78zM60.4,185.4h0.78v0.78h-0.78zM60.2,187.2h0.78v0.78h-0.78zM66.0,177.7h0.78v0.78h-0.78zM82.7,170.6h0.78v0.78h-0.78zM81.4,170.4h0.78v0.78h-0.78zM71.3,162.3h0.78v0.78h-0.78zM108.3,160.1h0.78v0.78h-0.78zM108.9,160.0h0.78v0.78h-0.78zM107.5,160.5h0.78v0.78h-0.78zM108.1,160.4h0.78v0.78h-0.78zM115.4,162.4h0.78v0.78h-0.78zM115.9,161.4h0.78v0.78h-0.78zM115.3,162.3h0.78v0.78h-0.78zM125.5,153.5h0.78v0.78h-0.78zM124.9,154.6h0.78v0.78h-0.78zM63.2,181.4h0.78v0.78h-0.78zM60.4,179.5h0.78v0.78h-0.78zM40.0,201.4h0.78v0.78h-0.78zM65.1,179.3h0.78v0.78h-0.78zM104.9,156.5h0.78v0.78h-0.78zM105.8,155.7h0.78v0.78h-0.78zM80.6,167.7h0.78v0.78h-0.78zM81.3,167.6h0.78v0.78h-0.78zM80.5,166.1h0.78v0.78h-0.78zM80.9,167.6h0.78v0.78h-0.78zM60.3,173.8h0.78v0.78h-0.78zM114.3,166.9h0.78v0.78h-0.78zM115.6,166.2h0.78v0.78h-0.78zM114.7,167.1h0.78v0.78h-0.78zM114.8,166.0h0.78v0.78h-0.78zM43.9,192.6h0.78v0.78h-0.78zM123.5,155.5h0.78v0.78h-0.78zM51.2,182.9h0.78v0.78h-0.78zM30.2,200.2h0.78v0.78h-0.78zM30.7,201.4h0.78v0.78h-0.78zM114.7,150.6h0.78v0.78h-0.78zM114.5,154.9h0.78v0.78h-0.78zM72.9,175.9h0.78v0.78h-0.78zM72.7,175.5h0.78v0.78h-0.78zM64.5,181.1h0.78v0.78h-0.78zM64.3,180.2h0.78v0.78h-0.78zM64.7,181.0h0.78v0.78h-0.78zM78.9,171.6h0.78v0.78h-0.78zM119.6,167.5h0.78v0.78h-0.78zM118.0,168.2h0.78v0.78h-0.78zM118.3,169.8h0.78v0.78h-0.78zM104.3,155.8h0.78v0.78h-0.78zM46.4,185.2h0.78v0.78h-0.78zM91.3,167.4h0.78v0.78h-0.78zM90.4,167.1h0.78v0.78h-0.78zM90.3,166.6h0.78v0.78h-0.78zM90.8,168.0h0.78v0.78h-0.78zM100.8,168.7h0.78v0.78h-0.78zM100.6,168.7h0.78v0.78h-0.78zM27.1,198.6h0.78v0.78h-0.78zM26.6,198.3h0.78v0.78h-0.78zM26.3,198.1h0.78v0.78h-0.78zM27.2,197.8h0.78v0.78h-0.78zM28.0,198.6h0.78v0.78h-0.78zM108.0,168.9h0.78v0.78h-0.78zM108.9,169.4h0.78v0.78h-0.78zM107.9,168.6h0.78v0.78h-0.78zM108.3,167.8h0.78v0.78h-0.78zM107.9,169.8h0.78v0.78h-0.78zM108.8,169.0h0.78v0.78h-0.78zM109.0,169.4h0.78v0.78h-0.78zM125.9,161.6h0.78v0.78h-0.78zM98.0,173.3h0.78v0.78h-0.78zM127.7,178.5h0.78v0.78h-0.78zM128.2,179.0h0.78v0.78h-0.78zM61.5,187.3h0.78v0.78h-0.78zM62.2,187.5h0.78v0.78h-0.78zM123.4,159.9h0.78v0.78h-0.78zM123.2,160.4h0.78v0.78h-0.78zM123.2,159.7h0.78v0.78h-0.78zM124.6,159.9h0.78v0.78h-0.78zM123.1,160.8h0.78v0.78h-0.78zM32.9,191.4h0.78v0.78h-0.78zM34.2,191.2h0.78v0.78h-0.78zM92.9,155.8h0.78v0.78h-0.78zM92.5,155.2h0.78v0.78h-0.78zM109.3,176.6h0.78v0.78h-0.78zM108.6,176.7h0.78v0.78h-0.78zM57.9,180.2h0.78v0.78h-0.78zM58.6,181.1h0.78v0.78h-0.78zM112.1,168.7h0.78v0.78h-0.78zM125.0,167.9h0.78v0.78h-0.78zM124.2,166.3h0.78v0.78h-0.78zM124.3,166.3h0.78v0.78h-0.78zM110.6,174.4h0.78v0.78h-0.78zM110.8,174.3h0.78v0.78h-0.78zM129.1,150.3h0.78v0.78h-0.78zM127.9,149.4h0.78v0.78h-0.78zM71.4,173.6h0.78v0.78h-0.78zM67.2,168.5h0.78v0.78h-0.78zM120.6,165.0h0.78v0.78h-0.78zM108.7,162.6h0.78v0.78h-0.78zM107.3,162.6h0.78v0.78h-0.78zM77.7,171.2h0.78v0.78h-0.78zM77.7,172.3h0.78v0.78h-0.78zM127.7,169.8h0.78v0.78h-0.78zM60.8,183.8h0.78v0.78h-0.78zM76.8,158.8h0.78v0.78h-0.78zM76.9,159.0h0.78v0.78h-0.78zM43.5,196.4h0.78v0.78h-0.78zM124.4,168.8h0.78v0.78h-0.78zM125.1,168.6h0.78v0.78h-0.78zM87.9,144.9h0.78v0.78h-0.78zM108.7,157.0h0.78v0.78h-0.78zM108.0,155.0h0.78v0.78h-0.78zM41.7,198.8h0.78v0.78h-0.78zM65.4,139.9h0.78v0.78h-0.78zM65.4,140.1h0.78v0.78h-0.78zM126.5,162.3h0.78v0.78h-0.78zM41.1,195.1h0.78v0.78h-0.78zM41.5,194.5h0.78v0.78h-0.78zM127.4,174.5h0.78v0.78h-0.78zM127.8,173.7h0.78v0.78h-0.78zM126.8,173.5h0.78v0.78h-0.78zM48.4,189.9h0.78v0.78h-0.78zM47.2,190.7h0.78v0.78h-0.78zM47.8,191.6h0.78v0.78h-0.78zM47.3,190.5h0.78v0.78h-0.78zM38.5,198.6h0.78v0.78h-0.78zM38.8,198.0h0.78v0.78h-0.78zM30.4,195.8h0.78v0.78h-0.78zM102.7,160.0h0.78v0.78h-0.78zM102.5,159.0h0.78v0.78h-0.78zM102.7,158.7h0.78v0.78h-0.78zM101.5,159.3h0.78v0.78h-0.78zM97.3,168.5h0.78v0.78h-0.78zM96.7,167.1h0.78v0.78h-0.78zM88.7,163.8h0.78v0.78h-0.78zM89.8,164.2h0.78v0.78h-0.78zM88.7,163.5h0.78v0.78h-0.78zM114.2,179.2h0.78v0.78h-0.78zM27.8,207.6h0.78v0.78h-0.78zM97.2,159.6h0.78v0.78h-0.78zM26.9,208.9h0.78v0.78h-0.78zM25.6,208.6h0.78v0.78h-0.78zM90.0,148.1h0.78v0.78h-0.78zM56.3,186.1h0.78v0.78h-0.78zM57.4,185.5h0.78v0.78h-0.78zM56.5,185.4h0.78v0.78h-0.78zM89.0,154.3h0.78v0.78h-0.78zM89.9,153.9h0.78v0.78h-0.78zM35.0,199.0h0.78v0.78h-0.78zM35.4,198.4h0.78v0.78h-0.78zM35.9,200.0h0.78v0.78h-0.78zM36.4,200.2h0.78v0.78h-0.78zM37.7,200.2h0.78v0.78h-0.78zM129.7,154.7h0.78v0.78h-0.78zM130.0,153.2h0.78v0.78h-0.78zM82.9,147.4h0.78v0.78h-0.78zM81.6,148.6h0.78v0.78h-0.78zM122.4,153.7h0.78v0.78h-0.78zM122.6,152.9h0.78v0.78h-0.78zM105.4,170.0h0.78v0.78h-0.78zM130.5,153.8h0.78v0.78h-0.78zM126.0,164.4h0.78v0.78h-0.78zM95.1,149.9h0.78v0.78h-0.78zM63.6,170.7h0.78v0.78h-0.78zM85.3,148.4h0.78v0.78h-0.78zM79.1,166.0h0.78v0.78h-0.78zM60.6,181.7h0.78v0.78h-0.78zM49.9,189.8h0.78v0.78h-0.78zM108.5,157.4h0.78v0.78h-0.78zM77.2,140.8h0.78v0.78h-0.78zM78.1,141.2h0.78v0.78h-0.78zM78.0,140.8h0.78v0.78h-0.78zM79.2,172.3h0.78v0.78h-0.78zM79.7,173.3h0.78v0.78h-0.78zM116.6,158.8h0.78v0.78h-0.78zM117.6,160.2h0.78v0.78h-0.78zM76.3,175.0h0.78v0.78h-0.78zM75.6,174.2h0.78v0.78h-0.78zM86.3,157.2h0.78v0.78h-0.78zM127.8,163.3h0.78v0.78h-0.78zM129.0,163.4h0.78v0.78h-0.78zM128.4,164.2h0.78v0.78h-0.78zM75.5,156.4h0.78v0.78h-0.78zM75.5,156.5h0.78v0.78h-0.78zM115.2,169.1h0.78v0.78h-0.78zM115.3,167.8h0.78v0.78h-0.78zM73.5,138.4h0.78v0.78h-0.78zM95.4,171.2h0.78v0.78h-0.78zM40.7,198.4h0.78v0.78h-0.78zM40.2,198.0h0.78v0.78h-0.78zM63.8,173.2h0.78v0.78h-0.78zM78.9,154.2h0.78v0.78h-0.78zM79.7,153.7h0.78v0.78h-0.78zM78.0,159.8h0.78v0.78h-0.78zM78.2,160.5h0.78v0.78h-0.78zM78.2,160.6h0.78v0.78h-0.78zM78.5,160.0h0.78v0.78h-0.78zM78.4,160.6h0.78v0.78h-0.78zM71.4,138.8h0.78v0.78h-0.78zM71.5,139.2h0.78v0.78h-0.78zM71.3,139.3h0.78v0.78h-0.78zM37.7,199.9h0.78v0.78h-0.78zM37.3,200.4h0.78v0.78h-0.78zM37.7,200.7h0.78v0.78h-0.78zM38.7,201.1h0.78v0.78h-0.78zM72.9,160.6h0.78v0.78h-0.78zM72.9,161.1h0.78v0.78h-0.78zM73.1,160.2h0.78v0.78h-0.78zM85.5,168.5h0.78v0.78h-0.78zM86.0,167.7h0.78v0.78h-0.78zM86.3,168.9h0.78v0.78h-0.78zM63.9,171.0h0.78v0.78h-0.78zM84.4,147.0h0.78v0.78h-0.78zM83.2,146.7h0.78v0.78h-0.78zM124.1,150.0h0.78v0.78h-0.78zM64.3,182.3h0.78v0.78h-0.78zM64.3,181.8h0.78v0.78h-0.78zM88.7,158.3h0.78v0.78h-0.78zM88.2,158.4h0.78v0.78h-0.78zM88.9,157.7h0.78v0.78h-0.78zM74.4,142.7h0.78v0.78h-0.78zM75.3,142.5h0.78v0.78h-0.78zM111.8,171.5h0.78v0.78h-0.78zM71.1,169.2h0.78v0.78h-0.78zM70.9,168.6h0.78v0.78h-0.78zM71.7,167.5h0.78v0.78h-0.78zM71.4,168.9h0.78v0.78h-0.78zM108.4,149.9h0.78v0.78h-0.78zM109.2,150.5h0.78v0.78h-0.78zM59.0,187.3h0.78v0.78h-0.78zM60.3,188.0h0.78v0.78h-0.78zM59.4,188.1h0.78v0.78h-0.78zM59.7,187.6h0.78v0.78h-0.78zM59.1,187.2h0.78v0.78h-0.78zM59.4,188.2h0.78v0.78h-0.78zM58.7,187.2h0.78v0.78h-0.78zM59.2,188.2h0.78v0.78h-0.78zM37.1,187.4h0.78v0.78h-0.78zM36.6,187.4h0.78v0.78h-0.78zM43.7,200.1h0.78v0.78h-0.78zM111.0,148.0h0.78v0.78h-0.78zM110.2,148.9h0.78v0.78h-0.78zM52.3,190.5h0.78v0.78h-0.78zM53.0,191.5h0.78v0.78h-0.78zM58.4,172.1h0.78v0.78h-0.78zM107.7,172.0h0.78v0.78h-0.78zM107.5,172.5h0.78v0.78h-0.78zM107.6,172.4h0.78v0.78h-0.78zM49.8,187.3h0.78v0.78h-0.78zM49.0,188.1h0.78v0.78h-0.78zM101.1,155.2h0.78v0.78h-0.78zM101.2,154.2h0.78v0.78h-0.78zM124.5,157.1h0.78v0.78h-0.78zM41.7,202.5h0.78v0.78h-0.78zM98.2,170.0h0.78v0.78h-0.78zM98.4,170.9h0.78v0.78h-0.78zM98.7,170.9h0.78v0.78h-0.78zM98.5,171.0h0.78v0.78h-0.78zM100.0,170.5h0.78v0.78h-0.78zM72.6,140.2h0.78v0.78h-0.78zM72.2,140.1h0.78v0.78h-0.78zM26.5,200.0h0.78v0.78h-0.78zM27.1,201.2h0.78v0.78h-0.78zM87.6,162.2h0.78v0.78h-0.78zM79.5,165.1h0.78v0.78h-0.78zM35.5,194.1h0.78v0.78h-0.78zM34.5,194.3h0.78v0.78h-0.78zM34.7,193.8h0.78v0.78h-0.78zM34.1,202.1h0.78v0.78h-0.78zM69.6,139.3h0.78v0.78h-0.78zM81.3,171.8h0.78v0.78h-0.78zM81.7,172.1h0.78v0.78h-0.78zM82.3,172.6h0.78v0.78h-0.78zM115.2,151.7h0.78v0.78h-0.78zM101.7,157.3h0.78v0.78h-0.78zM101.2,157.1h0.78v0.78h-0.78zM96.9,166.2h0.78v0.78h-0.78zM98.3,165.9h0.78v0.78h-0.78zM39.8,191.2h0.78v0.78h-0.78zM77.1,145.3h0.78v0.78h-0.78zM78.0,145.9h0.78v0.78h-0.78zM76.8,145.6h0.78v0.78h-0.78zM104.0,163.4h0.78v0.78h-0.78zM74.4,146.2h0.78v0.78h-0.78zM81.4,171.7h0.78v0.78h-0.78zM39.5,194.5h0.78v0.78h-0.78zM38.4,194.7h0.78v0.78h-0.78zM75.7,157.4h0.78v0.78h-0.78zM41.6,201.6h0.78v0.78h-0.78zM103.9,168.0h0.78v0.78h-0.78zM103.3,166.9h0.78v0.78h-0.78zM77.8,143.4h0.78v0.78h-0.78zM28.8,206.6h0.78v0.78h-0.78zM47.8,188.9h0.78v0.78h-0.78zM47.4,188.5h0.78v0.78h-0.78zM47.1,189.5h0.78v0.78h-0.78zM47.6,189.4h0.78v0.78h-0.78zM47.1,188.5h0.78v0.78h-0.78zM120.6,166.9h0.78v0.78h-0.78zM120.2,166.3h0.78v0.78h-0.78zM99.6,171.9h0.78v0.78h-0.78zM99.5,170.8h0.78v0.78h-0.78zM100.1,172.2h0.78v0.78h-0.78zM100.1,172.0h0.78v0.78h-0.78zM127.1,153.2h0.78v0.78h-0.78zM55.1,193.7h0.78v0.78h-0.78zM53.7,193.7h0.78v0.78h-0.78zM54.4,193.6h0.78v0.78h-0.78zM36.4,202.6h0.78v0.78h-0.78zM93.4,154.2h0.78v0.78h-0.78zM93.8,154.6h0.78v0.78h-0.78zM65.8,174.4h0.78v0.78h-0.78zM67.5,174.1h0.78v0.78h-0.78zM127.8,155.7h0.78v0.78h-0.78zM128.6,156.6h0.78v0.78h-0.78zM91.0,146.2h0.78v0.78h-0.78zM82.8,170.0h0.78v0.78h-0.78zM83.1,170.3h0.78v0.78h-0.78zM83.5,170.1h0.78v0.78h-0.78zM115.3,163.1h0.78v0.78h-0.78zM115.9,162.2h0.78v0.78h-0.78zM52.8,194.6h0.78v0.78h-0.78zM51.6,193.9h0.78v0.78h-0.78zM113.8,158.5h0.78v0.78h-0.78zM108.4,154.7h0.78v0.78h-0.78zM53.0,179.9h0.78v0.78h-0.78zM36.8,195.7h0.78v0.78h-0.78zM36.5,197.0h0.78v0.78h-0.78zM36.4,198.0h0.78v0.78h-0.78zM99.1,162.5h0.78v0.78h-0.78zM98.6,162.4h0.78v0.78h-0.78zM98.7,162.3h0.78v0.78h-0.78zM118.8,163.0h0.78v0.78h-0.78zM104.7,177.4h0.78v0.78h-0.78zM98.4,157.4h0.78v0.78h-0.78zM98.8,157.2h0.78v0.78h-0.78zM98.7,157.6h0.78v0.78h-0.78zM99.1,157.1h0.78v0.78h-0.78zM99.8,157.4h0.78v0.78h-0.78zM58.6,181.7h0.78v0.78h-0.78zM96.7,154.0h0.78v0.78h-0.78zM105.5,164.6h0.78v0.78h-0.78zM105.7,163.6h0.78v0.78h-0.78zM105.5,162.9h0.78v0.78h-0.78zM71.2,164.0h0.78v0.78h-0.78zM38.7,193.2h0.78v0.78h-0.78zM121.5,155.5h0.78v0.78h-0.78zM122.7,156.2h0.78v0.78h-0.78zM61.1,174.2h0.78v0.78h-0.78zM82.6,147.4h0.78v0.78h-0.78zM35.8,196.9h0.78v0.78h-0.78zM119.1,166.4h0.78v0.78h-0.78zM127.4,169.5h0.78v0.78h-0.78zM127.1,168.4h0.78v0.78h-0.78zM107.9,161.6h0.78v0.78h-0.78zM108.4,161.1h0.78v0.78h-0.78zM39.8,199.7h0.78v0.78h-0.78zM91.4,154.2h0.78v0.78h-0.78zM92.5,153.5h0.78v0.78h-0.78zM90.9,154.0h0.78v0.78h-0.78zM90.9,153.7h0.78v0.78h-0.78zM28.6,207.8h0.78v0.78h-0.78zM29.2,206.5h0.78v0.78h-0.78zM98.5,153.1h0.78v0.78h-0.78zM99.9,154.5h0.78v0.78h-0.78zM100.3,154.6h0.78v0.78h-0.78zM111.9,150.3h0.78v0.78h-0.78zM117.2,154.1h0.78v0.78h-0.78zM117.8,154.0h0.78v0.78h-0.78zM118.6,152.9h0.78v0.78h-0.78zM116.9,152.4h0.78v0.78h-0.78zM95.4,163.5h0.78v0.78h-0.78zM82.8,153.3h0.78v0.78h-0.78zM82.4,152.6h0.78v0.78h-0.78zM82.1,152.8h0.78v0.78h-0.78zM90.8,167.7h0.78v0.78h-0.78zM90.1,169.5h0.78v0.78h-0.78zM91.4,169.1h0.78v0.78h-0.78zM130.3,188.5h0.78v0.78h-0.78zM70.0,170.1h0.78v0.78h-0.78zM71.0,170.4h0.78v0.78h-0.78zM71.9,169.8h0.78v0.78h-0.78zM71.3,169.3h0.78v0.78h-0.78zM71.1,169.7h0.78v0.78h-0.78z" fill="#d01a1a" opacity="0.62"/>
</g>
<rect x="35.2" y="192.6" width="9.6" height="9.6" fill="none" stroke="#c4c4c4" stroke-width="0.8"/>
<rect x="108.1" y="216.45" width="17.6" height="1.15" fill="#f0f0f0"/>
<rect x="155.2" y="121" width="105.4" height="104.8" fill="#000"/>
<clipPath id="cp1300"><rect x="155.2" y="121" width="105.4" height="105"/></clipPath>
<g clip-path="url(#cp1300)"><g transform="translate(130.2,0)" fill="none" stroke="#bcbcbc" stroke-width="0.85" stroke-linejoin="round">
<path d="M24.9,197.9 C25.0,197.6 25.1,196.9 25.6,196.2 C26.1,195.5 27.1,194.5 27.9,193.6 C28.7,192.7 29.5,191.5 30.5,190.9 C31.5,190.3 33.1,190.7 34.0,190.1 C34.9,189.5 34.8,188.2 35.7,187.5 C36.6,186.8 37.9,186.1 39.2,185.7 C40.5,185.2 42.3,185.4 43.6,184.8 C44.9,184.2 46.1,183.0 47.1,182.2 C48.1,181.4 49.4,180.8 49.7,180.1 C50.0,179.4 48.5,178.6 48.8,177.9 C49.1,177.2 50.4,176.7 51.4,176.1 C52.4,175.5 53.7,175.1 54.9,174.4 C56.1,173.7 57.2,172.6 58.4,171.7 C59.6,170.8 61.0,170.0 61.9,169.1 C62.8,168.2 62.9,167.4 63.6,166.5 C64.3,165.6 65.5,164.8 66.2,163.9 C66.9,163.0 67.3,162.1 68.0,161.2 C68.7,160.3 69.9,159.5 70.6,158.6 C71.3,157.7 71.7,157.0 72.0,156.0 C72.3,155.0 72.6,153.7 72.4,152.5 C72.2,151.3 71.3,150.0 70.6,149.0 C69.9,148.0 68.6,147.3 68.0,146.4 C67.4,145.5 67.5,144.7 66.8,143.8 C66.1,142.9 64.7,142.1 63.6,141.2 C62.5,140.3 61.1,139.4 60.1,138.6 C59.1,137.8 58.4,137.1 57.5,136.3 C56.6,135.5 55.9,134.6 54.9,133.8 C53.9,133.0 52.6,132.2 51.4,131.6 C50.2,131.0 49.2,130.7 47.9,130.4 C46.6,130.1 44.9,129.8 43.6,129.8 C42.3,129.9 41.3,130.2 40.1,130.7 C38.9,131.1 37.8,131.9 36.6,132.5 C35.4,133.1 34.1,134.1 33.1,134.2 C32.1,134.3 31.5,133.9 30.8,133.3 C30.1,132.7 29.3,131.6 28.7,130.7 C28.1,129.8 26.9,128.8 27.0,128.1 C27.1,127.4 28.4,126.8 29.6,126.3 C30.8,125.8 32.4,125.5 34.0,125.1 C35.6,124.7 37.5,124.1 39.2,123.7 C40.9,123.3 43.0,122.7 44.4,122.5 C45.8,122.3 46.7,122.1 47.9,122.3 C49.1,122.5 50.5,123.1 51.4,123.7 C52.3,124.3 52.9,125.1 53.5,125.8 C54.1,126.5 54.2,127.3 54.9,128.1 C55.6,128.9 56.5,129.9 57.5,130.7 C58.5,131.5 59.7,132.3 61.0,133.0 C62.3,133.7 63.8,134.5 65.4,135.1 C67.0,135.7 68.9,136.0 70.6,136.3 C72.3,136.6 74.5,136.6 75.8,136.8 C77.1,137.0 77.5,137.0 78.5,137.7 C79.5,138.4 81.0,140.4 82.0,140.8 C83.0,141.2 83.7,140.8 84.6,140.3 C85.5,139.8 86.3,138.2 87.2,138.0 C88.1,137.8 88.9,138.7 89.8,139.4 C90.7,140.1 91.6,141.1 92.5,142.0 C93.4,142.9 94.5,143.7 95.1,144.7 C95.7,145.7 95.7,147.2 96.3,148.2 C96.9,149.2 97.6,150.2 98.6,150.8 C99.5,151.4 100.8,152.0 102.0,152.0 C103.2,152.0 104.5,151.4 105.5,150.8 C106.5,150.2 107.5,149.1 108.2,148.2 C108.9,147.3 109.2,146.0 109.9,145.5 C110.6,145.0 111.6,144.7 112.5,145.0 C113.4,145.3 114.1,146.5 115.1,147.3 C116.1,148.1 117.5,149.2 118.6,149.6 C119.7,150.0 120.8,150.1 121.8,149.9 C122.8,149.7 123.8,148.9 124.7,148.2 C125.6,147.5 126.4,146.2 127.4,145.5 C128.4,144.8 130.2,144.1 130.8,143.8"/>
<path d="M25.2,211.9 C25.6,212.1 27.0,213.0 27.9,212.8 C28.8,212.7 29.5,211.7 30.5,211.0 C31.5,210.3 32.8,209.4 34.0,208.7 C35.2,208.0 36.4,207.3 37.5,206.6 C38.6,205.9 39.8,205.2 40.9,204.6 C42.0,204.0 43.1,203.3 44.4,202.8 C45.7,202.3 47.5,201.9 48.8,201.4 C50.1,200.9 51.1,200.4 52.3,199.7 C53.5,199.0 54.8,198.0 55.8,197.1 C56.8,196.2 57.5,195.3 58.4,194.4 C59.3,193.5 60.2,192.7 61.0,191.8 C61.8,190.9 62.7,190.1 63.3,189.2 C63.9,188.3 63.9,187.3 64.5,186.6 C65.1,185.9 65.9,185.3 66.8,184.8 C67.7,184.3 68.8,184.2 69.7,183.6 C70.6,183.0 71.7,182.1 72.4,181.3 C73.1,180.5 73.4,179.4 74.1,178.7 C74.8,178.0 76.0,177.7 76.7,177.3 C77.4,177.0 77.6,176.8 78.5,176.6 C79.4,176.4 81.0,176.5 82.0,176.1 C83.0,175.7 83.9,175.1 84.6,174.4 C85.3,173.7 85.6,172.6 86.3,172.1 C87.0,171.6 88.2,171.3 89.0,171.4 C89.8,171.5 90.6,172.0 91.1,172.6 C91.6,173.2 91.6,174.4 92.1,175.2 C92.6,176.0 93.4,176.9 94.2,177.3 C95.0,177.8 95.9,178.0 96.8,177.9 C97.7,177.8 98.7,177.4 99.4,177.0 C100.1,176.6 100.6,175.3 101.2,175.2 C101.8,175.0 102.4,175.5 102.9,176.1 C103.4,176.7 103.6,178.0 104.3,178.7 C105.0,179.4 106.2,179.8 107.3,180.5 C108.4,181.2 109.6,181.7 110.8,182.6 C112.0,183.5 113.1,184.6 114.3,185.7 C115.5,186.8 116.8,188.0 117.8,189.2 C118.8,190.4 119.4,191.4 120.0,192.7 C120.6,194.0 121.0,195.6 121.2,197.1 C121.4,198.6 121.4,200.1 121.2,201.4 C121.0,202.7 120.2,204.0 120.0,204.9 C119.8,205.8 120.3,206.3 119.8,207.0 C119.3,207.7 118.0,208.6 116.8,209.2 C115.6,209.8 113.7,210.2 112.4,210.5 C111.1,210.8 109.9,210.9 108.9,211.3 C107.9,211.7 106.9,212.4 106.3,213.1 C105.7,213.8 105.4,214.8 105.3,215.3 C105.2,215.9 105.8,216.2 105.9,216.4"/>
<path d="M107.2,214.4 C108.1,214.2 110.8,213.8 112.4,213.5 C114.0,213.2 115.9,212.8 116.8,212.9 C117.7,213.1 117.8,213.7 117.8,214.4 C117.8,215.1 117.0,216.1 117.0,217.0 C117.0,217.9 117.3,219.0 117.5,219.6 C117.7,220.2 118.1,220.7 118.4,220.7 C118.7,220.7 119.1,220.1 119.4,219.6 C119.7,219.1 119.7,218.0 120.3,217.4 C120.9,216.8 121.9,216.6 122.9,216.1 C123.9,215.6 125.2,214.8 126.4,214.4 C127.6,214.0 129.2,213.7 129.9,213.5 C130.7,213.3 130.7,213.3 130.9,213.3"/>
</g></g>
<g transform="translate(130.2,0)">
<path d="M116.7,174.2h0.6v0.6h-0.6zM30.6,195.8h0.6v0.6h-0.6zM32.6,199.3h0.6v0.6h-0.6zM33.3,201.4h0.6v0.6h-0.6zM86.9,143.4h0.6v0.6h-0.6zM67.8,178.3h0.6v0.6h-0.6zM47.8,186.0h0.6v0.6h-0.6zM86.0,162.1h0.6v0.6h-0.6zM59.6,178.8h0.6v0.6h-0.6zM65.2,183.4h0.6v0.6h-0.6zM72.3,145.1h0.6v0.6h-0.6zM78.2,158.9h0.6v0.6h-0.6zM124.0,156.4h0.6v0.6h-0.6zM84.3,145.8h0.6v0.6h-0.6zM95.6,157.5h0.6v0.6h-0.6zM49.1,182.6h0.6v0.6h-0.6zM113.7,174.5h0.6v0.6h-0.6zM112.6,153.1h0.6v0.6h-0.6zM91.3,151.8h0.6v0.6h-0.6zM104.3,167.9h0.6v0.6h-0.6zM32.1,195.4h0.6v0.6h-0.6zM106.0,167.7h0.6v0.6h-0.6zM73.4,161.6h0.6v0.6h-0.6zM92.9,160.1h0.6v0.6h-0.6zM49.2,190.4h0.6v0.6h-0.6zM50.3,189.4h0.6v0.6h-0.6zM80.1,155.0h0.6v0.6h-0.6zM82.0,159.1h0.6v0.6h-0.6zM105.7,165.9h0.6v0.6h-0.6zM41.7,192.2h0.6v0.6h-0.6zM38.2,202.6h0.6v0.6h-0.6zM46.3,183.9h0.6v0.6h-0.6zM81.0,166.9h0.6v0.6h-0.6zM65.4,165.4h0.6v0.6h-0.6zM80.9,158.9h0.6v0.6h-0.6zM80.3,154.8h0.6v0.6h-0.6zM78.7,169.3h0.6v0.6h-0.6zM78.3,166.0h0.6v0.6h-0.6zM60.2,190.7h0.6v0.6h-0.6zM83.4,144.7h0.6v0.6h-0.6zM67.1,177.2h0.6v0.6h-0.6zM29.7,206.0h0.6v0.6h-0.6zM68.5,179.6h0.6v0.6h-0.6zM33.9,208.0h0.6v0.6h-0.6zM55.4,188.0h0.6v0.6h-0.6zM62.2,175.7h0.6v0.6h-0.6zM61.9,184.8h0.6v0.6h-0.6zM65.8,170.8h0.6v0.6h-0.6zM105.1,177.2h0.6v0.6h-0.6zM89.3,141.3h0.6v0.6h-0.6zM52.1,182.9h0.6v0.6h-0.6zM89.1,157.9h0.6v0.6h-0.6zM105.8,170.6h0.6v0.6h-0.6zM112.0,153.1h0.6v0.6h-0.6zM110.9,152.5h0.6v0.6h-0.6zM48.5,193.3h0.6v0.6h-0.6zM29.9,197.4h0.6v0.6h-0.6zM76.2,164.7h0.6v0.6h-0.6zM94.8,171.9h0.6v0.6h-0.6zM86.8,163.6h0.6v0.6h-0.6zM95.7,157.8h0.6v0.6h-0.6zM91.3,148.3h0.6v0.6h-0.6zM126.8,163.5h0.6v0.6h-0.6zM110.7,148.1h0.6v0.6h-0.6zM60.7,184.5h0.6v0.6h-0.6zM82.4,158.3h0.6v0.6h-0.6zM101.9,169.1h0.6v0.6h-0.6zM101.7,162.3h0.6v0.6h-0.6zM105.6,155.5h0.6v0.6h-0.6zM29.4,201.3h0.6v0.6h-0.6zM38.1,202.7h0.6v0.6h-0.6zM92.3,149.8h0.6v0.6h-0.6zM120.5,161.4h0.6v0.6h-0.6zM75.5,170.8h0.6v0.6h-0.6zM77.7,151.4h0.6v0.6h-0.6zM53.4,198.0h0.6v0.6h-0.6zM84.8,161.9h0.6v0.6h-0.6zM103.1,168.9h0.6v0.6h-0.6zM82.7,165.3h0.6v0.6h-0.6zM108.5,174.6h0.6v0.6h-0.6zM100.5,158.4h0.6v0.6h-0.6zM77.2,176.7h0.6v0.6h-0.6zM88.9,149.8h0.6v0.6h-0.6zM108.5,153.3h0.6v0.6h-0.6zM128.8,156.1h0.6v0.6h-0.6zM95.2,152.3h0.6v0.6h-0.6zM70.1,168.5h0.6v0.6h-0.6zM103.9,160.8h0.6v0.6h-0.6zM62.7,174.7h0.6v0.6h-0.6zM87.7,160.4h0.6v0.6h-0.6zM92.3,165.8h0.6v0.6h-0.6zM72.5,140.7h0.6v0.6h-0.6zM93.0,151.4h0.6v0.6h-0.6zM88.8,157.4h0.6v0.6h-0.6zM29.6,201.1h0.6v0.6h-0.6zM73.8,174.2h0.6v0.6h-0.6zM88.7,165.8h0.6v0.6h-0.6zM83.7,163.5h0.6v0.6h-0.6zM106.3,154.1h0.6v0.6h-0.6zM79.1,157.1h0.6v0.6h-0.6zM48.6,193.1h0.6v0.6h-0.6zM89.8,158.5h0.6v0.6h-0.6zM77.8,158.9h0.6v0.6h-0.6zM119.0,213.1h0.6v0.6h-0.6zM58.3,180.9h0.6v0.6h-0.6zM85.6,157.9h0.6v0.6h-0.6zM96.7,173.3h0.6v0.6h-0.6zM37.7,202.7h0.6v0.6h-0.6zM82.2,161.8h0.6v0.6h-0.6zM81.9,164.9h0.6v0.6h-0.6zM90.5,159.8h0.6v0.6h-0.6zM82.6,168.7h0.6v0.6h-0.6zM84.6,155.6h0.6v0.6h-0.6zM105.3,173.4h0.6v0.6h-0.6zM84.6,166.5h0.6v0.6h-0.6zM79.6,172.8h0.6v0.6h-0.6z" fill="#e8e8e8" opacity="0.5"/>
<path d="M43.7,189.3h0.6v0.6h-0.6zM76.9,138.3h0.6v0.6h-0.6zM80.4,156.0h0.6v0.6h-0.6zM99.3,162.9h0.6v0.6h-0.6zM65.7,178.4h0.6v0.6h-0.6zM56.9,179.6h0.6v0.6h-0.6zM49.2,194.8h0.6v0.6h-0.6zM74.1,168.3h0.6v0.6h-0.6zM112.6,158.8h0.6v0.6h-0.6zM109.4,155.3h0.6v0.6h-0.6zM61.6,185.3h0.6v0.6h-0.6zM69.4,173.1h0.6v0.6h-0.6zM98.9,171.3h0.6v0.6h-0.6zM99.8,157.0h0.6v0.6h-0.6zM81.4,174.4h0.6v0.6h-0.6zM50.3,181.1h0.6v0.6h-0.6zM61.4,182.0h0.6v0.6h-0.6zM89.9,164.6h0.6v0.6h-0.6zM102.6,161.3h0.6v0.6h-0.6zM108.9,154.1h0.6v0.6h-0.6zM57.6,177.2h0.6v0.6h-0.6zM107.6,164.3h0.6v0.6h-0.6zM76.5,170.9h0.6v0.6h-0.6zM32.9,191.2h0.6v0.6h-0.6zM127.1,163.1h0.6v0.6h-0.6zM30.3,203.0h0.6v0.6h-0.6zM82.4,158.0h0.6v0.6h-0.6zM102.8,162.8h0.6v0.6h-0.6zM56.3,186.3h0.6v0.6h-0.6zM52.2,198.7h0.6v0.6h-0.6zM95.2,167.2h0.6v0.6h-0.6zM73.6,167.4h0.6v0.6h-0.6zM127.5,165.2h0.6v0.6h-0.6zM121.6,162.2h0.6v0.6h-0.6zM121.3,172.1h0.6v0.6h-0.6zM57.4,183.1h0.6v0.6h-0.6zM116.5,163.0h0.6v0.6h-0.6zM129.8,154.8h0.6v0.6h-0.6zM128.2,147.0h0.6v0.6h-0.6zM63.2,174.3h0.6v0.6h-0.6zM77.8,173.6h0.6v0.6h-0.6zM54.5,191.0h0.6v0.6h-0.6zM101.8,155.8h0.6v0.6h-0.6zM69.8,166.0h0.6v0.6h-0.6zM128.1,155.2h0.6v0.6h-0.6zM61.0,187.6h0.6v0.6h-0.6zM101.0,158.2h0.6v0.6h-0.6zM102.3,168.2h0.6v0.6h-0.6zM80.2,155.9h0.6v0.6h-0.6zM98.8,163.8h0.6v0.6h-0.6zM31.7,208.3h0.6v0.6h-0.6zM130.2,155.2h0.6v0.6h-0.6zM100.2,153.3h0.6v0.6h-0.6zM96.0,171.5h0.6v0.6h-0.6zM83.7,156.9h0.6v0.6h-0.6zM69.7,172.3h0.6v0.6h-0.6zM119.4,168.0h0.6v0.6h-0.6zM105.9,176.3h0.6v0.6h-0.6zM83.2,148.9h0.6v0.6h-0.6zM110.7,166.3h0.6v0.6h-0.6zM123.1,157.3h0.6v0.6h-0.6zM79.0,162.5h0.6v0.6h-0.6zM81.2,172.5h0.6v0.6h-0.6zM77.6,163.7h0.6v0.6h-0.6zM39.7,194.5h0.6v0.6h-0.6zM50.4,181.1h0.6v0.6h-0.6zM128.4,168.9h0.6v0.6h-0.6zM116.3,154.9h0.6v0.6h-0.6zM46.4,191.6h0.6v0.6h-0.6zM105.6,160.3h0.6v0.6h-0.6zM92.3,153.4h0.6v0.6h-0.6zM86.1,155.8h0.6v0.6h-0.6zM74.2,141.5h0.6v0.6h-0.6zM82.6,158.3h0.6v0.6h-0.6zM114.5,161.0h0.6v0.6h-0.6zM38.6,198.5h0.6v0.6h-0.6zM110.8,152.8h0.6v0.6h-0.6zM70.7,142.2h0.6v0.6h-0.6zM85.5,158.3h0.6v0.6h-0.6zM79.1,142.0h0.6v0.6h-0.6zM94.4,176.8h0.6v0.6h-0.6zM74.1,167.9h0.6v0.6h-0.6zM56.1,178.2h0.6v0.6h-0.6zM31.9,208.6h0.6v0.6h-0.6zM96.7,160.8h0.6v0.6h-0.6zM107.8,175.0h0.6v0.6h-0.6zM75.4,140.0h0.6v0.6h-0.6zM87.0,148.1h0.6v0.6h-0.6zM67.7,182.1h0.6v0.6h-0.6zM127.1,154.1h0.6v0.6h-0.6zM61.3,187.9h0.6v0.6h-0.6zM33.5,201.6h0.6v0.6h-0.6zM84.3,146.1h0.6v0.6h-0.6zM82.6,144.3h0.6v0.6h-0.6zM127.7,164.7h0.6v0.6h-0.6zM130.0,156.5h0.6v0.6h-0.6zM68.0,178.2h0.6v0.6h-0.6zM43.2,189.8h0.6v0.6h-0.6zM95.3,174.4h0.6v0.6h-0.6zM72.0,144.5h0.6v0.6h-0.6zM69.0,143.5h0.6v0.6h-0.6zM122.3,165.6h0.6v0.6h-0.6zM112.1,152.7h0.6v0.6h-0.6zM79.0,158.2h0.6v0.6h-0.6zM126.4,167.8h0.6v0.6h-0.6zM84.3,165.5h0.6v0.6h-0.6zM107.0,160.7h0.6v0.6h-0.6zM127.8,157.4h0.6v0.6h-0.6zM50.6,195.5h0.6v0.6h-0.6zM128.2,165.0h0.6v0.6h-0.6zM55.3,190.0h0.6v0.6h-0.6zM92.3,160.3h0.6v0.6h-0.6zM98.5,156.0h0.6v0.6h-0.6zM83.0,157.9h0.6v0.6h-0.6zM82.5,158.0h0.6v0.6h-0.6zM31.2,206.9h0.6v0.6h-0.6zM105.7,165.0h0.6v0.6h-0.6zM103.5,171.9h0.6v0.6h-0.6zM55.2,179.5h0.6v0.6h-0.6zM39.0,197.9h0.6v0.6h-0.6zM96.2,177.0h0.6v0.6h-0.6zM74.0,166.5h0.6v0.6h-0.6zM121.4,161.6h0.6v0.6h-0.6zM56.0,176.6h0.6v0.6h-0.6zM130.5,185.0h0.6v0.6h-0.6zM55.7,180.1h0.6v0.6h-0.6zM34.1,201.5h0.6v0.6h-0.6zM69.6,164.6h0.6v0.6h-0.6zM121.2,160.1h0.6v0.6h-0.6zM93.7,144.5h0.6v0.6h-0.6zM89.0,151.7h0.6v0.6h-0.6zM78.8,165.6h0.6v0.6h-0.6zM40.9,189.7h0.6v0.6h-0.6zM28.5,201.6h0.6v0.6h-0.6zM114.6,173.3h0.6v0.6h-0.6zM76.5,170.4h0.6v0.6h-0.6zM108.2,174.7h0.6v0.6h-0.6zM28.4,207.5h0.6v0.6h-0.6zM60.9,178.0h0.6v0.6h-0.6z" fill="#ff4040" opacity="0.5"/>
<path d="M33.4,205.8h0.6v0.6h-0.6zM34.0,199.7h0.6v0.6h-0.6zM31.2,193.9h0.6v0.6h-0.6zM98.9,159.7h0.6v0.6h-0.6zM95.7,175.6h0.6v0.6h-0.6zM84.7,162.2h0.6v0.6h-0.6zM90.9,153.6h0.6v0.6h-0.6zM105.1,176.9h0.6v0.6h-0.6zM78.0,159.3h0.6v0.6h-0.6zM87.7,166.3h0.6v0.6h-0.6zM107.6,163.2h0.6v0.6h-0.6zM47.5,187.6h0.6v0.6h-0.6zM49.8,181.9h0.6v0.6h-0.6zM87.5,141.6h0.6v0.6h-0.6zM91.3,169.2h0.6v0.6h-0.6zM118.5,155.4h0.6v0.6h-0.6zM95.8,173.0h0.6v0.6h-0.6zM73.2,177.3h0.6v0.6h-0.6zM91.2,154.0h0.6v0.6h-0.6zM45.9,196.8h0.6v0.6h-0.6zM73.3,141.5h0.6v0.6h-0.6zM95.8,156.4h0.6v0.6h-0.6zM84.1,159.6h0.6v0.6h-0.6zM118.5,168.6h0.6v0.6h-0.6zM47.6,196.1h0.6v0.6h-0.6zM84.7,158.8h0.6v0.6h-0.6zM129.9,164.8h0.6v0.6h-0.6zM73.8,167.5h0.6v0.6h-0.6zM58.8,183.9h0.6v0.6h-0.6zM83.3,149.8h0.6v0.6h-0.6zM83.8,159.2h0.6v0.6h-0.6zM109.4,175.5h0.6v0.6h-0.6zM104.1,168.3h0.6v0.6h-0.6zM78.1,151.5h0.6v0.6h-0.6zM83.3,164.1h0.6v0.6h-0.6zM44.3,198.8h0.6v0.6h-0.6zM68.0,180.5h0.6v0.6h-0.6zM27.5,208.1h0.6v0.6h-0.6zM76.6,147.2h0.6v0.6h-0.6zM84.3,145.3h0.6v0.6h-0.6zM43.6,188.7h0.6v0.6h-0.6zM33.0,201.5h0.6v0.6h-0.6zM130.5,170.9h0.6v0.6h-0.6zM95.6,175.0h0.6v0.6h-0.6zM127.2,158.2h0.6v0.6h-0.6zM90.9,153.3h0.6v0.6h-0.6zM37.3,204.0h0.6v0.6h-0.6zM66.9,169.9h0.6v0.6h-0.6zM120.3,166.4h0.6v0.6h-0.6zM91.6,161.1h0.6v0.6h-0.6zM89.3,166.8h0.6v0.6h-0.6zM56.8,190.5h0.6v0.6h-0.6zM110.6,152.9h0.6v0.6h-0.6zM117.7,154.3h0.6v0.6h-0.6zM102.6,160.3h0.6v0.6h-0.6zM26.0,200.3h0.6v0.6h-0.6zM83.6,153.7h0.6v0.6h-0.6zM78.7,144.6h0.6v0.6h-0.6zM61.0,133.0h0.6v0.6h-0.6zM73.6,163.2h0.6v0.6h-0.6zM57.0,176.9h0.6v0.6h-0.6zM92.1,161.1h0.6v0.6h-0.6zM108.4,151.1h0.6v0.6h-0.6zM33.1,191.6h0.6v0.6h-0.6zM51.4,188.8h0.6v0.6h-0.6zM96.7,174.7h0.6v0.6h-0.6zM128.3,159.7h0.6v0.6h-0.6zM51.3,185.5h0.6v0.6h-0.6zM47.0,186.0h0.6v0.6h-0.6zM87.2,147.2h0.6v0.6h-0.6zM60.6,133.7h0.6v0.6h-0.6zM64.4,176.3h0.6v0.6h-0.6zM129.1,158.7h0.6v0.6h-0.6zM79.3,140.4h0.6v0.6h-0.6zM42.8,193.6h0.6v0.6h-0.6zM72.4,168.1h0.6v0.6h-0.6zM122.2,170.8h0.6v0.6h-0.6zM129.6,153.5h0.6v0.6h-0.6zM37.3,187.7h0.6v0.6h-0.6zM109.9,174.0h0.6v0.6h-0.6zM48.5,189.3h0.6v0.6h-0.6zM98.2,167.6h0.6v0.6h-0.6zM80.9,164.1h0.6v0.6h-0.6zM119.4,167.5h0.6v0.6h-0.6zM83.5,161.6h0.6v0.6h-0.6zM83.6,165.0h0.6v0.6h-0.6zM106.4,175.0h0.6v0.6h-0.6zM79.6,173.0h0.6v0.6h-0.6zM71.5,146.4h0.6v0.6h-0.6zM80.7,156.0h0.6v0.6h-0.6zM78.4,155.3h0.6v0.6h-0.6zM78.2,169.3h0.6v0.6h-0.6zM123.1,160.1h0.6v0.6h-0.6zM80.6,144.0h0.6v0.6h-0.6zM37.9,200.7h0.6v0.6h-0.6zM91.3,148.9h0.6v0.6h-0.6zM82.2,144.9h0.6v0.6h-0.6zM110.6,169.0h0.6v0.6h-0.6zM120.3,179.3h0.6v0.6h-0.6zM96.6,171.2h0.6v0.6h-0.6zM40.7,197.8h0.6v0.6h-0.6zM44.6,193.7h0.6v0.6h-0.6zM44.9,193.9h0.6v0.6h-0.6zM75.7,175.5h0.6v0.6h-0.6zM104.3,176.9h0.6v0.6h-0.6zM111.3,176.4h0.6v0.6h-0.6zM113.1,167.7h0.6v0.6h-0.6zM36.5,200.0h0.6v0.6h-0.6zM101.9,172.1h0.6v0.6h-0.6zM91.3,160.1h0.6v0.6h-0.6zM67.2,182.2h0.6v0.6h-0.6zM92.2,151.4h0.6v0.6h-0.6zM109.1,153.4h0.6v0.6h-0.6zM58.2,176.4h0.6v0.6h-0.6zM84.1,158.4h0.6v0.6h-0.6zM92.4,157.0h0.6v0.6h-0.6zM93.5,168.0h0.6v0.6h-0.6zM127.9,159.5h0.6v0.6h-0.6zM81.6,143.6h0.6v0.6h-0.6zM75.9,162.2h0.6v0.6h-0.6zM69.9,164.7h0.6v0.6h-0.6zM79.5,150.2h0.6v0.6h-0.6zM85.3,158.0h0.6v0.6h-0.6zM95.4,164.4h0.6v0.6h-0.6zM72.9,167.5h0.6v0.6h-0.6zM25.4,208.0h0.6v0.6h-0.6zM80.2,155.0h0.6v0.6h-0.6zM76.3,158.8h0.6v0.6h-0.6zM112.8,179.3h0.6v0.6h-0.6zM74.5,171.4h0.6v0.6h-0.6zM125.9,162.3h0.6v0.6h-0.6zM67.0,175.6h0.6v0.6h-0.6zM53.3,189.1h0.6v0.6h-0.6zM100.5,170.5h0.6v0.6h-0.6z" fill="#40ff40" opacity="0.5"/>
<path d="M76.1,175.9h0.6v0.6h-0.6zM97.7,164.8h0.6v0.6h-0.6zM128.8,169.4h0.6v0.6h-0.6zM121.0,182.3h0.6v0.6h-0.6zM54.0,183.5h0.6v0.6h-0.6zM95.1,152.2h0.6v0.6h-0.6zM130.5,160.6h0.6v0.6h-0.6zM62.8,183.0h0.6v0.6h-0.6zM121.2,161.7h0.6v0.6h-0.6zM29.4,204.8h0.6v0.6h-0.6zM86.2,145.4h0.6v0.6h-0.6zM93.3,174.2h0.6v0.6h-0.6zM108.1,177.5h0.6v0.6h-0.6zM71.0,175.8h0.6v0.6h-0.6zM111.5,152.7h0.6v0.6h-0.6zM122.2,172.5h0.6v0.6h-0.6zM59.9,133.0h0.6v0.6h-0.6zM129.4,152.2h0.6v0.6h-0.6zM88.5,144.2h0.6v0.6h-0.6zM108.0,150.3h0.6v0.6h-0.6zM82.1,149.7h0.6v0.6h-0.6zM80.1,157.4h0.6v0.6h-0.6zM53.0,185.5h0.6v0.6h-0.6zM116.7,164.3h0.6v0.6h-0.6zM87.5,169.9h0.6v0.6h-0.6zM82.9,157.0h0.6v0.6h-0.6zM55.6,184.1h0.6v0.6h-0.6zM37.7,203.5h0.6v0.6h-0.6zM121.6,211.3h0.6v0.6h-0.6zM25.9,207.9h0.6v0.6h-0.6zM38.3,197.1h0.6v0.6h-0.6zM76.2,140.3h0.6v0.6h-0.6zM97.3,173.2h0.6v0.6h-0.6zM125.7,158.1h0.6v0.6h-0.6zM122.5,154.5h0.6v0.6h-0.6zM123.5,166.6h0.6v0.6h-0.6zM37.4,201.4h0.6v0.6h-0.6zM40.9,189.1h0.6v0.6h-0.6zM73.8,171.5h0.6v0.6h-0.6zM118.1,163.3h0.6v0.6h-0.6zM104.3,171.3h0.6v0.6h-0.6zM43.7,192.4h0.6v0.6h-0.6zM77.0,175.0h0.6v0.6h-0.6zM60.7,177.7h0.6v0.6h-0.6zM100.8,171.1h0.6v0.6h-0.6zM82.4,153.6h0.6v0.6h-0.6zM86.1,151.7h0.6v0.6h-0.6zM119.5,163.4h0.6v0.6h-0.6zM121.7,181.6h0.6v0.6h-0.6zM42.5,186.9h0.6v0.6h-0.6zM58.3,179.5h0.6v0.6h-0.6zM54.3,184.0h0.6v0.6h-0.6zM67.1,179.3h0.6v0.6h-0.6zM119.7,158.2h0.6v0.6h-0.6zM94.6,151.2h0.6v0.6h-0.6zM110.7,156.0h0.6v0.6h-0.6zM63.4,183.3h0.6v0.6h-0.6zM45.0,192.8h0.6v0.6h-0.6zM69.1,144.6h0.6v0.6h-0.6zM87.4,150.2h0.6v0.6h-0.6zM114.9,163.4h0.6v0.6h-0.6zM37.5,205.4h0.6v0.6h-0.6zM73.2,139.6h0.6v0.6h-0.6zM106.8,154.4h0.6v0.6h-0.6zM50.3,182.5h0.6v0.6h-0.6zM88.5,141.2h0.6v0.6h-0.6zM78.0,146.2h0.6v0.6h-0.6zM92.3,163.9h0.6v0.6h-0.6zM114.9,150.9h0.6v0.6h-0.6zM73.0,178.2h0.6v0.6h-0.6zM94.8,156.9h0.6v0.6h-0.6zM80.7,155.0h0.6v0.6h-0.6zM82.7,145.8h0.6v0.6h-0.6zM35.1,197.5h0.6v0.6h-0.6zM102.1,167.7h0.6v0.6h-0.6zM115.9,169.2h0.6v0.6h-0.6zM107.0,178.7h0.6v0.6h-0.6zM99.9,170.0h0.6v0.6h-0.6zM91.4,150.5h0.6v0.6h-0.6zM108.4,172.0h0.6v0.6h-0.6zM84.8,148.6h0.6v0.6h-0.6zM47.5,196.3h0.6v0.6h-0.6zM39.9,202.7h0.6v0.6h-0.6zM79.5,154.1h0.6v0.6h-0.6zM75.5,149.6h0.6v0.6h-0.6zM130.8,207.8h0.6v0.6h-0.6zM33.0,201.0h0.6v0.6h-0.6zM119.3,163.8h0.6v0.6h-0.6zM80.4,163.8h0.6v0.6h-0.6zM129.9,164.7h0.6v0.6h-0.6zM82.4,150.9h0.6v0.6h-0.6zM79.0,148.7h0.6v0.6h-0.6zM64.1,182.7h0.6v0.6h-0.6zM36.2,204.6h0.6v0.6h-0.6zM90.7,154.8h0.6v0.6h-0.6zM120.8,152.7h0.6v0.6h-0.6zM96.9,165.0h0.6v0.6h-0.6zM88.8,166.7h0.6v0.6h-0.6zM49.7,181.0h0.6v0.6h-0.6zM128.1,168.2h0.6v0.6h-0.6zM117.5,153.7h0.6v0.6h-0.6zM95.6,172.8h0.6v0.6h-0.6zM102.1,159.3h0.6v0.6h-0.6zM109.5,154.0h0.6v0.6h-0.6zM29.9,197.0h0.6v0.6h-0.6zM116.9,154.8h0.6v0.6h-0.6zM92.0,152.9h0.6v0.6h-0.6zM92.1,155.0h0.6v0.6h-0.6zM46.3,196.1h0.6v0.6h-0.6zM73.6,163.9h0.6v0.6h-0.6zM26.6,197.5h0.6v0.6h-0.6zM111.5,147.9h0.6v0.6h-0.6zM50.9,184.3h0.6v0.6h-0.6zM38.9,204.8h0.6v0.6h-0.6zM108.8,168.4h0.6v0.6h-0.6zM110.2,151.9h0.6v0.6h-0.6zM118.8,168.0h0.6v0.6h-0.6zM129.1,167.2h0.6v0.6h-0.6zM42.8,192.6h0.6v0.6h-0.6zM29.5,201.4h0.6v0.6h-0.6zM126.2,166.3h0.6v0.6h-0.6zM84.9,171.0h0.6v0.6h-0.6zM90.8,170.3h0.6v0.6h-0.6zM128.0,178.2h0.6v0.6h-0.6zM36.6,193.6h0.6v0.6h-0.6zM77.5,159.0h0.6v0.6h-0.6zM97.3,171.0h0.6v0.6h-0.6zM87.1,148.7h0.6v0.6h-0.6zM76.4,145.1h0.6v0.6h-0.6zM41.9,190.1h0.6v0.6h-0.6zM36.5,195.8h0.6v0.6h-0.6z" fill="#5070ff" opacity="0.5"/>
<path d="M90.8,149.0h0.6v0.6h-0.6zM60.8,173.0h0.6v0.6h-0.6zM109.6,154.9h0.6v0.6h-0.6zM42.1,198.8h0.6v0.6h-0.6zM113.7,160.5h0.6v0.6h-0.6zM44.9,194.6h0.6v0.6h-0.6zM126.6,159.0h0.6v0.6h-0.6zM81.0,158.1h0.6v0.6h-0.6zM122.6,165.4h0.6v0.6h-0.6zM126.2,149.9h0.6v0.6h-0.6zM53.2,182.1h0.6v0.6h-0.6zM69.1,164.9h0.6v0.6h-0.6zM89.6,167.2h0.6v0.6h-0.6zM108.5,153.3h0.6v0.6h-0.6zM48.7,192.7h0.6v0.6h-0.6zM75.3,164.4h0.6v0.6h-0.6zM94.7,174.0h0.6v0.6h-0.6zM115.2,151.1h0.6v0.6h-0.6zM27.8,195.8h0.6v0.6h-0.6zM85.3,154.4h0.6v0.6h-0.6zM74.4,139.1h0.6v0.6h-0.6zM47.0,196.1h0.6v0.6h-0.6zM102.4,160.9h0.6v0.6h-0.6zM36.2,197.1h0.6v0.6h-0.6zM94.5,148.7h0.6v0.6h-0.6zM75.0,167.2h0.6v0.6h-0.6zM41.5,195.7h0.6v0.6h-0.6zM128.7,156.9h0.6v0.6h-0.6zM109.1,151.9h0.6v0.6h-0.6zM118.7,169.0h0.6v0.6h-0.6zM112.5,166.1h0.6v0.6h-0.6zM75.7,139.6h0.6v0.6h-0.6zM38.5,198.2h0.6v0.6h-0.6zM105.3,178.6h0.6v0.6h-0.6zM37.0,197.1h0.6v0.6h-0.6zM126.5,162.4h0.6v0.6h-0.6zM50.1,192.1h0.6v0.6h-0.6zM100.0,169.7h0.6v0.6h-0.6zM90.8,150.0h0.6v0.6h-0.6zM83.0,164.9h0.6v0.6h-0.6zM108.6,175.0h0.6v0.6h-0.6zM48.2,196.8h0.6v0.6h-0.6zM53.1,189.1h0.6v0.6h-0.6zM45.5,189.1h0.6v0.6h-0.6zM85.2,170.2h0.6v0.6h-0.6zM67.9,179.1h0.6v0.6h-0.6zM73.9,168.7h0.6v0.6h-0.6zM71.8,144.8h0.6v0.6h-0.6zM51.5,184.9h0.6v0.6h-0.6zM121.8,162.9h0.6v0.6h-0.6zM76.1,158.4h0.6v0.6h-0.6zM119.9,165.3h0.6v0.6h-0.6zM106.8,167.9h0.6v0.6h-0.6zM78.8,144.4h0.6v0.6h-0.6zM76.1,146.0h0.6v0.6h-0.6zM111.2,148.5h0.6v0.6h-0.6zM81.2,167.9h0.6v0.6h-0.6zM47.0,198.8h0.6v0.6h-0.6zM82.3,158.0h0.6v0.6h-0.6zM109.4,151.8h0.6v0.6h-0.6zM56.6,178.5h0.6v0.6h-0.6zM39.8,198.2h0.6v0.6h-0.6zM60.6,176.0h0.6v0.6h-0.6zM108.5,175.0h0.6v0.6h-0.6zM59.1,182.2h0.6v0.6h-0.6zM38.5,196.7h0.6v0.6h-0.6zM89.1,161.1h0.6v0.6h-0.6zM96.6,170.4h0.6v0.6h-0.6zM80.0,155.0h0.6v0.6h-0.6zM55.5,191.5h0.6v0.6h-0.6zM72.8,141.7h0.6v0.6h-0.6zM75.5,145.8h0.6v0.6h-0.6zM28.2,201.3h0.6v0.6h-0.6zM72.8,172.3h0.6v0.6h-0.6zM120.5,160.9h0.6v0.6h-0.6zM104.8,172.3h0.6v0.6h-0.6zM40.2,203.0h0.6v0.6h-0.6zM101.5,171.7h0.6v0.6h-0.6zM73.0,141.4h0.6v0.6h-0.6zM49.0,191.9h0.6v0.6h-0.6zM80.5,155.5h0.6v0.6h-0.6zM31.0,191.1h0.6v0.6h-0.6zM39.8,186.0h0.6v0.6h-0.6zM114.8,158.4h0.6v0.6h-0.6zM63.4,182.5h0.6v0.6h-0.6zM95.0,163.5h0.6v0.6h-0.6zM37.8,205.1h0.6v0.6h-0.6zM118.4,154.5h0.6v0.6h-0.6zM126.3,159.2h0.6v0.6h-0.6zM70.0,172.2h0.6v0.6h-0.6zM87.2,150.2h0.6v0.6h-0.6zM114.1,162.7h0.6v0.6h-0.6zM83.5,146.5h0.6v0.6h-0.6zM86.8,141.1h0.6v0.6h-0.6zM118.8,155.1h0.6v0.6h-0.6zM26.6,197.3h0.6v0.6h-0.6zM52.6,188.0h0.6v0.6h-0.6zM112.4,150.8h0.6v0.6h-0.6zM60.1,133.3h0.6v0.6h-0.6zM86.7,156.2h0.6v0.6h-0.6zM48.4,189.6h0.6v0.6h-0.6zM37.8,205.0h0.6v0.6h-0.6zM87.6,143.5h0.6v0.6h-0.6zM108.2,166.8h0.6v0.6h-0.6zM102.7,162.8h0.6v0.6h-0.6zM57.4,184.9h0.6v0.6h-0.6zM87.7,146.6h0.6v0.6h-0.6zM71.2,161.9h0.6v0.6h-0.6zM109.6,151.6h0.6v0.6h-0.6zM106.5,178.0h0.6v0.6h-0.6zM129.4,159.1h0.6v0.6h-0.6zM79.4,140.9h0.6v0.6h-0.6zM32.0,202.7h0.6v0.6h-0.6zM80.7,152.7h0.6v0.6h-0.6zM71.1,138.8h0.6v0.6h-0.6zM60.9,179.7h0.6v0.6h-0.6zM79.4,155.1h0.6v0.6h-0.6zM123.6,152.0h0.6v0.6h-0.6zM72.2,141.2h0.6v0.6h-0.6zM42.0,186.4h0.6v0.6h-0.6zM41.0,199.4h0.6v0.6h-0.6zM100.0,153.5h0.6v0.6h-0.6zM127.8,154.6h0.6v0.6h-0.6zM104.0,166.6h0.6v0.6h-0.6zM105.9,171.9h0.6v0.6h-0.6zM39.2,202.8h0.6v0.6h-0.6zM49.5,126.5h0.6v0.6h-0.6zM79.5,154.9h0.6v0.6h-0.6zM130.2,157.7h0.6v0.6h-0.6zM110.2,175.4h0.6v0.6h-0.6z" fill="#ffe040" opacity="0.5"/>
<path d="M90.7,157.5h0.6v0.6h-0.6zM93.7,156.9h0.6v0.6h-0.6zM33.9,200.3h0.6v0.6h-0.6zM80.9,172.8h0.6v0.6h-0.6zM91.5,147.2h0.6v0.6h-0.6zM32.4,208.4h0.6v0.6h-0.6zM46.3,199.6h0.6v0.6h-0.6zM96.0,171.7h0.6v0.6h-0.6zM105.9,170.1h0.6v0.6h-0.6zM86.3,154.8h0.6v0.6h-0.6zM66.2,172.7h0.6v0.6h-0.6zM36.3,192.7h0.6v0.6h-0.6zM117.9,170.4h0.6v0.6h-0.6zM69.8,182.4h0.6v0.6h-0.6zM88.4,157.1h0.6v0.6h-0.6zM83.7,164.1h0.6v0.6h-0.6zM121.2,152.6h0.6v0.6h-0.6zM67.3,140.5h0.6v0.6h-0.6zM34.9,198.0h0.6v0.6h-0.6zM46.0,193.2h0.6v0.6h-0.6zM129.9,158.4h0.6v0.6h-0.6zM27.4,198.0h0.6v0.6h-0.6zM79.1,142.9h0.6v0.6h-0.6zM106.1,162.2h0.6v0.6h-0.6zM91.4,146.9h0.6v0.6h-0.6zM110.9,148.9h0.6v0.6h-0.6zM83.0,157.1h0.6v0.6h-0.6zM115.1,161.3h0.6v0.6h-0.6zM30.4,198.8h0.6v0.6h-0.6zM66.3,165.6h0.6v0.6h-0.6zM37.7,187.4h0.6v0.6h-0.6zM92.6,167.4h0.6v0.6h-0.6zM80.4,155.7h0.6v0.6h-0.6zM53.6,197.5h0.6v0.6h-0.6zM120.0,167.4h0.6v0.6h-0.6zM43.0,189.7h0.6v0.6h-0.6zM40.2,202.4h0.6v0.6h-0.6zM42.4,194.5h0.6v0.6h-0.6zM55.9,186.7h0.6v0.6h-0.6zM49.1,192.4h0.6v0.6h-0.6zM130.8,207.7h0.6v0.6h-0.6zM90.5,149.5h0.6v0.6h-0.6zM80.3,172.3h0.6v0.6h-0.6zM49.6,194.5h0.6v0.6h-0.6zM26.8,203.4h0.6v0.6h-0.6zM85.5,162.6h0.6v0.6h-0.6zM60.6,173.1h0.6v0.6h-0.6zM105.3,168.9h0.6v0.6h-0.6zM103.3,153.2h0.6v0.6h-0.6zM45.1,184.0h0.6v0.6h-0.6zM97.5,172.1h0.6v0.6h-0.6zM108.9,166.1h0.6v0.6h-0.6zM50.8,182.0h0.6v0.6h-0.6zM62.4,172.0h0.6v0.6h-0.6zM125.8,168.7h0.6v0.6h-0.6zM114.1,151.9h0.6v0.6h-0.6zM46.0,197.0h0.6v0.6h-0.6zM36.8,197.9h0.6v0.6h-0.6zM57.4,183.9h0.6v0.6h-0.6zM50.8,183.8h0.6v0.6h-0.6zM109.6,168.6h0.6v0.6h-0.6zM25.9,200.5h0.6v0.6h-0.6zM124.0,152.7h0.6v0.6h-0.6zM106.1,177.1h0.6v0.6h-0.6zM92.2,166.9h0.6v0.6h-0.6zM51.3,192.0h0.6v0.6h-0.6zM25.7,209.0h0.6v0.6h-0.6zM97.1,163.2h0.6v0.6h-0.6zM99.8,169.0h0.6v0.6h-0.6zM80.4,166.0h0.6v0.6h-0.6zM42.4,190.4h0.6v0.6h-0.6zM37.2,196.0h0.6v0.6h-0.6zM27.3,207.6h0.6v0.6h-0.6zM49.2,126.3h0.6v0.6h-0.6zM72.4,165.0h0.6v0.6h-0.6zM28.6,206.2h0.6v0.6h-0.6zM120.0,156.9h0.6v0.6h-0.6zM96.4,171.0h0.6v0.6h-0.6zM90.8,154.2h0.6v0.6h-0.6zM99.6,159.0h0.6v0.6h-0.6zM81.6,153.2h0.6v0.6h-0.6zM78.3,161.5h0.6v0.6h-0.6zM81.7,173.4h0.6v0.6h-0.6zM38.7,201.8h0.6v0.6h-0.6zM95.8,172.6h0.6v0.6h-0.6zM92.7,174.1h0.6v0.6h-0.6zM107.0,167.8h0.6v0.6h-0.6zM73.4,139.0h0.6v0.6h-0.6zM130.3,157.7h0.6v0.6h-0.6zM92.3,162.6h0.6v0.6h-0.6zM64.9,179.1h0.6v0.6h-0.6zM91.6,147.2h0.6v0.6h-0.6zM59.7,184.9h0.6v0.6h-0.6zM89.3,158.2h0.6v0.6h-0.6zM80.2,153.6h0.6v0.6h-0.6zM79.5,164.1h0.6v0.6h-0.6zM109.3,165.5h0.6v0.6h-0.6zM127.0,170.4h0.6v0.6h-0.6zM79.9,141.2h0.6v0.6h-0.6zM55.5,183.7h0.6v0.6h-0.6zM59.0,182.8h0.6v0.6h-0.6zM55.9,182.5h0.6v0.6h-0.6zM35.1,202.8h0.6v0.6h-0.6zM50.0,192.1h0.6v0.6h-0.6zM38.2,197.4h0.6v0.6h-0.6zM129.3,168.0h0.6v0.6h-0.6zM81.4,167.1h0.6v0.6h-0.6zM47.2,195.8h0.6v0.6h-0.6zM96.7,152.9h0.6v0.6h-0.6zM74.2,163.1h0.6v0.6h-0.6zM118.8,154.6h0.6v0.6h-0.6zM77.0,174.6h0.6v0.6h-0.6z" fill="#ff50ff" opacity="0.5"/>
<path d="M109.4,151.9h0.6v0.6h-0.6zM66.3,177.0h0.6v0.6h-0.6zM94.5,152.6h0.6v0.6h-0.6zM35.8,195.4h0.6v0.6h-0.6zM126.1,158.4h0.6v0.6h-0.6zM69.3,173.0h0.6v0.6h-0.6zM114.8,163.6h0.6v0.6h-0.6zM52.0,191.2h0.6v0.6h-0.6zM29.0,201.2h0.6v0.6h-0.6zM83.1,153.7h0.6v0.6h-0.6zM84.8,172.0h0.6v0.6h-0.6zM128.5,205.5h0.6v0.6h-0.6zM110.6,153.8h0.6v0.6h-0.6zM71.7,174.1h0.6v0.6h-0.6zM63.3,171.7h0.6v0.6h-0.6zM115.6,155.3h0.6v0.6h-0.6zM106.3,166.4h0.6v0.6h-0.6zM112.9,151.3h0.6v0.6h-0.6zM68.1,175.3h0.6v0.6h-0.6zM86.3,167.2h0.6v0.6h-0.6zM52.3,184.4h0.6v0.6h-0.6zM79.2,145.5h0.6v0.6h-0.6zM58.2,184.3h0.6v0.6h-0.6zM124.9,177.4h0.6v0.6h-0.6zM37.5,199.0h0.6v0.6h-0.6zM85.5,159.0h0.6v0.6h-0.6zM78.8,140.1h0.6v0.6h-0.6zM34.3,198.7h0.6v0.6h-0.6zM120.5,162.6h0.6v0.6h-0.6zM117.4,180.7h0.6v0.6h-0.6zM111.9,167.4h0.6v0.6h-0.6zM106.5,177.7h0.6v0.6h-0.6zM98.1,160.9h0.6v0.6h-0.6zM85.4,167.9h0.6v0.6h-0.6zM96.9,163.6h0.6v0.6h-0.6zM81.6,166.1h0.6v0.6h-0.6zM106.4,165.2h0.6v0.6h-0.6zM75.9,145.4h0.6v0.6h-0.6zM108.2,171.2h0.6v0.6h-0.6zM76.1,145.8h0.6v0.6h-0.6zM79.0,173.0h0.6v0.6h-0.6zM79.7,152.7h0.6v0.6h-0.6zM71.9,147.1h0.6v0.6h-0.6zM49.8,127.1h0.6v0.6h-0.6zM37.0,201.0h0.6v0.6h-0.6zM92.3,151.5h0.6v0.6h-0.6zM107.1,159.3h0.6v0.6h-0.6zM49.0,184.3h0.6v0.6h-0.6zM110.0,154.8h0.6v0.6h-0.6zM71.1,144.5h0.6v0.6h-0.6zM126.5,159.3h0.6v0.6h-0.6zM68.8,182.0h0.6v0.6h-0.6zM29.9,201.3h0.6v0.6h-0.6zM120.2,152.4h0.6v0.6h-0.6zM37.6,190.1h0.6v0.6h-0.6zM87.7,166.5h0.6v0.6h-0.6zM80.3,151.7h0.6v0.6h-0.6zM84.3,163.5h0.6v0.6h-0.6zM89.9,169.3h0.6v0.6h-0.6zM109.5,155.1h0.6v0.6h-0.6zM121.9,172.8h0.6v0.6h-0.6zM83.3,158.6h0.6v0.6h-0.6zM129.6,160.4h0.6v0.6h-0.6zM76.3,171.8h0.6v0.6h-0.6zM26.9,196.7h0.6v0.6h-0.6zM117.0,172.9h0.6v0.6h-0.6zM79.3,159.3h0.6v0.6h-0.6zM70.7,165.6h0.6v0.6h-0.6zM66.0,167.9h0.6v0.6h-0.6zM119.0,168.0h0.6v0.6h-0.6zM129.0,165.0h0.6v0.6h-0.6zM49.8,193.0h0.6v0.6h-0.6zM86.0,166.8h0.6v0.6h-0.6zM68.0,163.4h0.6v0.6h-0.6zM104.4,168.4h0.6v0.6h-0.6zM71.2,143.1h0.6v0.6h-0.6zM88.9,152.1h0.6v0.6h-0.6zM40.8,189.8h0.6v0.6h-0.6zM46.7,184.0h0.6v0.6h-0.6zM125.3,162.8h0.6v0.6h-0.6zM66.3,175.3h0.6v0.6h-0.6zM71.4,171.9h0.6v0.6h-0.6zM110.1,158.5h0.6v0.6h-0.6zM109.5,158.4h0.6v0.6h-0.6zM66.4,178.0h0.6v0.6h-0.6zM73.3,168.4h0.6v0.6h-0.6zM118.6,164.1h0.6v0.6h-0.6zM82.7,169.0h0.6v0.6h-0.6zM89.3,161.9h0.6v0.6h-0.6zM36.4,199.7h0.6v0.6h-0.6zM106.8,160.7h0.6v0.6h-0.6zM129.6,151.9h0.6v0.6h-0.6zM121.4,163.3h0.6v0.6h-0.6zM39.8,195.7h0.6v0.6h-0.6zM51.0,180.2h0.6v0.6h-0.6zM77.1,151.7h0.6v0.6h-0.6zM112.5,155.0h0.6v0.6h-0.6zM123.7,167.5h0.6v0.6h-0.6zM79.9,169.8h0.6v0.6h-0.6zM130.2,179.7h0.6v0.6h-0.6zM32.1,194.1h0.6v0.6h-0.6zM35.4,188.9h0.6v0.6h-0.6zM117.7,161.4h0.6v0.6h-0.6zM103.9,161.6h0.6v0.6h-0.6zM76.2,171.8h0.6v0.6h-0.6zM116.5,173.3h0.6v0.6h-0.6zM97.1,174.0h0.6v0.6h-0.6zM66.2,180.1h0.6v0.6h-0.6zM130.8,154.5h0.6v0.6h-0.6zM100.2,162.1h0.6v0.6h-0.6zM67.0,167.1h0.6v0.6h-0.6zM60.4,133.8h0.6v0.6h-0.6zM75.9,138.3h0.6v0.6h-0.6zM61.2,176.8h0.6v0.6h-0.6zM35.1,197.1h0.6v0.6h-0.6zM75.3,170.4h0.6v0.6h-0.6zM66.2,181.2h0.6v0.6h-0.6zM44.9,125.5h0.6v0.6h-0.6zM67.6,181.5h0.6v0.6h-0.6zM81.2,155.9h0.6v0.6h-0.6zM102.9,165.5h0.6v0.6h-0.6z" fill="#40e0ff" opacity="0.5"/>
<path d="M37.7,200.5h0.6v0.6h-0.6zM80.8,154.4h0.6v0.6h-0.6zM101.2,170.4h0.6v0.6h-0.6zM67.4,177.8h0.6v0.6h-0.6zM87.4,142.7h0.6v0.6h-0.6zM113.2,168.1h0.6v0.6h-0.6zM93.4,152.2h0.6v0.6h-0.6zM45.1,194.1h0.6v0.6h-0.6zM71.2,143.8h0.6v0.6h-0.6zM90.9,154.0h0.6v0.6h-0.6zM66.2,170.7h0.6v0.6h-0.6zM108.8,169.4h0.6v0.6h-0.6zM74.9,172.6h0.6v0.6h-0.6zM79.1,163.3h0.6v0.6h-0.6zM66.0,173.7h0.6v0.6h-0.6zM78.7,164.1h0.6v0.6h-0.6zM56.2,190.5h0.6v0.6h-0.6zM130.0,160.6h0.6v0.6h-0.6zM48.9,192.8h0.6v0.6h-0.6zM89.8,157.5h0.6v0.6h-0.6zM129.4,163.0h0.6v0.6h-0.6zM92.1,165.1h0.6v0.6h-0.6zM83.3,153.7h0.6v0.6h-0.6zM94.7,156.1h0.6v0.6h-0.6zM68.2,166.4h0.6v0.6h-0.6zM66.3,174.7h0.6v0.6h-0.6zM96.9,156.9h0.6v0.6h-0.6zM82.9,157.5h0.6v0.6h-0.6zM59.6,180.8h0.6v0.6h-0.6zM112.2,147.4h0.6v0.6h-0.6zM61.3,184.2h0.6v0.6h-0.6zM102.5,158.4h0.6v0.6h-0.6zM38.5,198.1h0.6v0.6h-0.6zM104.8,156.8h0.6v0.6h-0.6zM96.7,172.6h0.6v0.6h-0.6zM115.5,153.1h0.6v0.6h-0.6zM35.4,202.9h0.6v0.6h-0.6zM82.7,164.3h0.6v0.6h-0.6zM126.0,206.2h0.6v0.6h-0.6zM122.7,152.8h0.6v0.6h-0.6zM94.4,145.1h0.6v0.6h-0.6zM40.3,198.0h0.6v0.6h-0.6zM112.5,180.3h0.6v0.6h-0.6zM110.8,147.4h0.6v0.6h-0.6zM47.0,189.4h0.6v0.6h-0.6zM112.6,165.4h0.6v0.6h-0.6zM93.7,156.0h0.6v0.6h-0.6zM33.4,200.1h0.6v0.6h-0.6zM34.1,201.3h0.6v0.6h-0.6zM66.8,178.2h0.6v0.6h-0.6zM45.7,198.9h0.6v0.6h-0.6zM86.2,170.9h0.6v0.6h-0.6zM59.8,173.6h0.6v0.6h-0.6zM105.1,170.9h0.6v0.6h-0.6zM75.5,174.6h0.6v0.6h-0.6zM106.9,161.5h0.6v0.6h-0.6zM83.7,163.2h0.6v0.6h-0.6zM36.9,199.3h0.6v0.6h-0.6zM98.4,157.4h0.6v0.6h-0.6zM116.8,154.7h0.6v0.6h-0.6zM78.0,171.3h0.6v0.6h-0.6zM50.6,181.3h0.6v0.6h-0.6zM55.9,183.9h0.6v0.6h-0.6zM48.6,192.8h0.6v0.6h-0.6zM118.6,155.6h0.6v0.6h-0.6zM74.3,147.6h0.6v0.6h-0.6zM115.5,167.3h0.6v0.6h-0.6zM32.8,195.1h0.6v0.6h-0.6zM52.6,188.3h0.6v0.6h-0.6zM79.0,159.2h0.6v0.6h-0.6zM122.3,156.1h0.6v0.6h-0.6zM122.1,151.6h0.6v0.6h-0.6zM92.4,154.8h0.6v0.6h-0.6zM29.6,207.3h0.6v0.6h-0.6zM48.1,182.2h0.6v0.6h-0.6zM119.2,213.7h0.6v0.6h-0.6zM66.0,174.2h0.6v0.6h-0.6zM106.4,163.9h0.6v0.6h-0.6zM82.7,158.2h0.6v0.6h-0.6zM74.1,167.2h0.6v0.6h-0.6zM106.2,164.8h0.6v0.6h-0.6zM104.6,165.2h0.6v0.6h-0.6zM75.3,137.9h0.6v0.6h-0.6zM105.6,157.7h0.6v0.6h-0.6zM35.4,196.9h0.6v0.6h-0.6zM127.5,165.9h0.6v0.6h-0.6zM57.8,184.0h0.6v0.6h-0.6zM115.7,163.3h0.6v0.6h-0.6zM88.7,148.0h0.6v0.6h-0.6zM122.6,153.4h0.6v0.6h-0.6zM74.8,166.3h0.6v0.6h-0.6zM106.0,171.7h0.6v0.6h-0.6zM41.3,199.3h0.6v0.6h-0.6zM58.1,136.8h0.6v0.6h-0.6zM113.2,165.4h0.6v0.6h-0.6zM101.9,167.5h0.6v0.6h-0.6zM68.1,139.2h0.6v0.6h-0.6zM44.8,189.2h0.6v0.6h-0.6zM97.0,165.0h0.6v0.6h-0.6zM57.8,179.6h0.6v0.6h-0.6zM67.3,179.3h0.6v0.6h-0.6zM60.8,174.4h0.6v0.6h-0.6zM60.8,173.9h0.6v0.6h-0.6zM110.0,156.1h0.6v0.6h-0.6zM105.4,171.3h0.6v0.6h-0.6zM72.1,144.8h0.6v0.6h-0.6zM72.7,164.6h0.6v0.6h-0.6zM89.3,141.1h0.6v0.6h-0.6zM52.8,182.8h0.6v0.6h-0.6zM122.4,162.8h0.6v0.6h-0.6zM29.3,201.2h0.6v0.6h-0.6zM120.2,151.5h0.6v0.6h-0.6zM109.5,166.4h0.6v0.6h-0.6zM98.7,157.0h0.6v0.6h-0.6zM78.5,163.3h0.6v0.6h-0.6zM126.4,160.9h0.6v0.6h-0.6zM111.0,152.7h0.6v0.6h-0.6zM110.1,152.5h0.6v0.6h-0.6zM78.7,171.3h0.6v0.6h-0.6zM47.7,193.1h0.6v0.6h-0.6zM75.4,174.6h0.6v0.6h-0.6zM72.2,161.9h0.6v0.6h-0.6zM46.3,191.9h0.6v0.6h-0.6zM60.3,180.9h0.6v0.6h-0.6zM47.5,198.6h0.6v0.6h-0.6zM38.0,197.3h0.6v0.6h-0.6zM73.1,150.5h0.6v0.6h-0.6zM38.1,187.2h0.6v0.6h-0.6zM94.3,169.0h0.6v0.6h-0.6zM105.2,178.4h0.6v0.6h-0.6zM115.5,158.1h0.6v0.6h-0.6zM107.6,174.5h0.6v0.6h-0.6zM105.6,168.2h0.6v0.6h-0.6zM101.1,170.5h0.6v0.6h-0.6zM113.5,161.5h0.6v0.6h-0.6zM127.7,155.2h0.6v0.6h-0.6zM121.3,181.8h0.6v0.6h-0.6zM114.6,167.8h0.6v0.6h-0.6zM84.8,158.0h0.6v0.6h-0.6z" fill="#ff9020" opacity="0.5"/>
</g>
<rect x="165.4" y="192.6" width="9.6" height="9.6" fill="none" stroke="#c4c4c4" stroke-width="0.8"/>
<rect x="236.8" y="216.45" width="17.6" height="1.15" fill="#f0f0f0"/>
<rect x="262.9" y="5.8" width="105.1" height="105.2" fill="#000"/>
<rect x="264.9" y="8.8" width="101.2" height="100.2" fill="none" stroke="#e2e2e2" stroke-width="1.4"/>
<text x="267.4" y="17.6" font-size="7" fill="#e0e0e0" textLength="15" lengthAdjust="spacingAndGlyphs">Inset</text>
<rect x="342" y="101.4" width="18" height="1.6" fill="#e0e0e0"/>
<ellipse cx="281.0" cy="26.7" rx="1.74" ry="1.45" fill="#22e022"/><ellipse cx="281.3" cy="27.6" rx="1.04" ry="0.87" fill="#22e022"/><ellipse cx="281.8" cy="27.3" rx="1.04" ry="0.87" fill="#22e022"/><ellipse cx="281.7" cy="27.4" rx="1.04" ry="0.87" fill="#22e022"/>
<ellipse cx="313.5" cy="35.6" rx="0.87" ry="1.16" fill="#22c022"/><ellipse cx="313.4" cy="36.3" rx="0.52" ry="0.70" fill="#22c022"/><ellipse cx="313.0" cy="35.7" rx="0.52" ry="0.70" fill="#22c022"/><ellipse cx="313.5" cy="34.9" rx="0.52" ry="0.70" fill="#22c022"/>
<ellipse cx="314.6" cy="37.8" rx="0.72" ry="1.01" fill="#22c022"/>
<ellipse cx="317.1" cy="42.1" rx="2.03" ry="2.46" fill="#ff1414"/><ellipse cx="317.3" cy="40.5" rx="1.22" ry="1.48" fill="#ff1414"/><ellipse cx="316.3" cy="40.8" rx="1.22" ry="1.48" fill="#ff1414"/><ellipse cx="316.5" cy="43.5" rx="1.22" ry="1.48" fill="#ff1414"/>
<ellipse cx="308.6" cy="47.1" rx="1.16" ry="1.16" fill="#ff9a14"/><ellipse cx="309.2" cy="47.5" rx="0.70" ry="0.70" fill="#ff9a14"/><ellipse cx="308.2" cy="46.5" rx="0.70" ry="0.70" fill="#ff9a14"/><ellipse cx="308.1" cy="46.6" rx="0.70" ry="0.70" fill="#ff9a14"/>
<ellipse cx="284.4" cy="60.6" rx="1.67" ry="1.89" fill="#ffee14"/><ellipse cx="285.5" cy="60.6" rx="1.00" ry="1.13" fill="#ffee14"/><ellipse cx="284.7" cy="61.8" rx="1.00" ry="1.13" fill="#ffee14"/><ellipse cx="284.0" cy="61.7" rx="1.00" ry="1.13" fill="#ffee14"/>
<ellipse cx="334.2" cy="27.0" rx="1.09" ry="1.45" fill="#ff28f0"/><ellipse cx="334.0" cy="26.1" rx="0.65" ry="0.87" fill="#ff28f0"/><ellipse cx="333.5" cy="26.7" rx="0.65" ry="0.87" fill="#ff28f0"/><ellipse cx="334.6" cy="27.7" rx="0.65" ry="0.87" fill="#ff28f0"/>
<ellipse cx="329.5" cy="34.0" rx="1.45" ry="0.87" fill="#ffee14"/><ellipse cx="329.1" cy="34.5" rx="0.87" ry="0.52" fill="#ffee14"/><ellipse cx="330.3" cy="34.3" rx="0.87" ry="0.52" fill="#ffee14"/><ellipse cx="330.4" cy="33.9" rx="0.87" ry="0.52" fill="#ffee14"/>
<ellipse cx="353.0" cy="41.0" rx="1.16" ry="1.16" fill="#1414ff"/><ellipse cx="353.5" cy="41.6" rx="0.70" ry="0.70" fill="#1414ff"/><ellipse cx="353.3" cy="40.3" rx="0.70" ry="0.70" fill="#1414ff"/><ellipse cx="353.0" cy="40.3" rx="0.70" ry="0.70" fill="#1414ff"/>
<ellipse cx="349.5" cy="62.0" rx="1.59" ry="1.89" fill="#ff28f0"/><ellipse cx="348.7" cy="61.3" rx="0.96" ry="1.13" fill="#ff28f0"/><ellipse cx="350.3" cy="62.8" rx="0.96" ry="1.13" fill="#ff28f0"/><ellipse cx="350.3" cy="62.7" rx="0.96" ry="1.13" fill="#ff28f0"/>
<ellipse cx="367.3" cy="59.6" rx="0.58" ry="1.45" fill="#3030ff"/>
<ellipse cx="367.3" cy="82.0" rx="0.58" ry="1.45" fill="#a020f0"/>
<ellipse cx="281.6" cy="75.1" rx="0.72" ry="1.38" fill="#e01414"/><ellipse cx="281.3" cy="75.8" rx="0.43" ry="0.83" fill="#e01414"/><ellipse cx="282.1" cy="75.1" rx="0.43" ry="0.83" fill="#e01414"/><ellipse cx="281.2" cy="75.5" rx="0.43" ry="0.83" fill="#e01414"/>
<ellipse cx="294.6" cy="75.9" rx="0.87" ry="0.87" fill="#14b414"/>
<ellipse cx="342.9" cy="88.7" rx="1.16" ry="1.16" fill="#1ea0ff"/><ellipse cx="343.4" cy="88.1" rx="0.70" ry="0.70" fill="#1ea0ff"/><ellipse cx="342.7" cy="89.4" rx="0.70" ry="0.70" fill="#1ea0ff"/><ellipse cx="343.1" cy="88.0" rx="0.70" ry="0.70" fill="#1ea0ff"/>
<ellipse cx="315.6" cy="105.4" rx="1.30" ry="1.74" fill="#1ea0ff"/><ellipse cx="316.3" cy="104.8" rx="0.78" ry="1.04" fill="#1ea0ff"/><ellipse cx="315.2" cy="104.4" rx="0.78" ry="1.04" fill="#1ea0ff"/><ellipse cx="315.7" cy="104.3" rx="0.78" ry="1.04" fill="#1ea0ff"/>
<rect x="262.9" y="121" width="105.1" height="105.2" fill="#000"/>
<rect x="265.3" y="124.6" width="99.9" height="99.7" fill="none" stroke="#e2e2e2" stroke-width="1.4"/>
<text x="267" y="133.2" font-size="7" fill="#e0e0e0" textLength="15" lengthAdjust="spacingAndGlyphs">Inset</text>
<rect x="339" y="216.6" width="18" height="1.5" fill="#e8e8e8"/>
<ellipse cx="263.6" cy="122.3" rx="1.30" ry="1.30" fill="#22e022"/><ellipse cx="264.2" cy="122.9" rx="0.78" ry="0.78" fill="#22e022"/><ellipse cx="263.1" cy="121.6" rx="0.78" ry="0.78" fill="#22e022"/><ellipse cx="263.1" cy="123.0" rx="0.78" ry="0.78" fill="#22e022"/>
<ellipse cx="277.5" cy="122.0" rx="2.03" ry="0.72" fill="#1414ff"/><ellipse cx="277.0" cy="121.6" rx="1.22" ry="0.43" fill="#1414ff"/><ellipse cx="278.6" cy="121.7" rx="1.22" ry="0.43" fill="#1414ff"/><ellipse cx="277.8" cy="122.4" rx="1.22" ry="0.43" fill="#1414ff"/>
<ellipse cx="281.6" cy="128.6" rx="1.16" ry="1.45" fill="#ff28f0"/><ellipse cx="281.3" cy="129.5" rx="0.70" ry="0.87" fill="#ff28f0"/><ellipse cx="282.0" cy="129.4" rx="0.70" ry="0.87" fill="#ff28f0"/><ellipse cx="282.0" cy="127.8" rx="0.70" ry="0.87" fill="#ff28f0"/>
<ellipse cx="295.5" cy="131.9" rx="0.87" ry="0.87" fill="#a06414"/>
<ellipse cx="305.5" cy="131.9" rx="1.59" ry="0.87" fill="#1ea0ff"/><ellipse cx="305.7" cy="132.4" rx="0.96" ry="0.52" fill="#1ea0ff"/><ellipse cx="306.5" cy="131.8" rx="0.96" ry="0.52" fill="#1ea0ff"/><ellipse cx="305.4" cy="131.3" rx="0.96" ry="0.52" fill="#1ea0ff"/>
<ellipse cx="313.0" cy="131.6" rx="0.87" ry="0.87" fill="#f0e614"/>
<ellipse cx="303.9" cy="142.0" rx="1.01" ry="1.01" fill="#ff1414"/><ellipse cx="304.4" cy="142.5" rx="0.61" ry="0.61" fill="#ff1414"/><ellipse cx="304.1" cy="142.6" rx="0.61" ry="0.61" fill="#ff1414"/><ellipse cx="304.2" cy="142.6" rx="0.61" ry="0.61" fill="#ff1414"/>
<ellipse cx="272.0" cy="152.5" rx="0.72" ry="1.16" fill="#148c14"/>
<ellipse cx="293.8" cy="154.3" rx="1.30" ry="1.59" fill="#a020f0"/><ellipse cx="293.8" cy="155.3" rx="0.78" ry="0.96" fill="#a020f0"/><ellipse cx="293.7" cy="155.3" rx="0.78" ry="0.96" fill="#a020f0"/><ellipse cx="293.5" cy="153.3" rx="0.78" ry="0.96" fill="#a020f0"/>
<ellipse cx="301.1" cy="152.8" rx="1.38" ry="1.89" fill="#14a0ff"/><ellipse cx="301.0" cy="151.6" rx="0.83" ry="1.13" fill="#14a0ff"/><ellipse cx="300.6" cy="153.8" rx="0.83" ry="1.13" fill="#14a0ff"/><ellipse cx="301.7" cy="152.0" rx="0.83" ry="1.13" fill="#14a0ff"/>
<ellipse cx="303.0" cy="160.4" rx="1.59" ry="2.03" fill="#ff9a14"/><ellipse cx="302.3" cy="161.3" rx="0.96" ry="1.22" fill="#ff9a14"/><ellipse cx="303.8" cy="161.2" rx="0.96" ry="1.22" fill="#ff9a14"/><ellipse cx="302.7" cy="159.1" rx="0.96" ry="1.22" fill="#ff9a14"/>
<ellipse cx="277.2" cy="172.6" rx="1.45" ry="1.45" fill="#ff1414"/><ellipse cx="277.6" cy="173.4" rx="0.87" ry="0.87" fill="#ff1414"/><ellipse cx="276.9" cy="171.7" rx="0.87" ry="0.87" fill="#ff1414"/><ellipse cx="277.9" cy="173.2" rx="0.87" ry="0.87" fill="#ff1414"/>
<ellipse cx="326.8" cy="125.5" rx="1.16" ry="0.87" fill="#22e022"/><ellipse cx="327.0" cy="126.0" rx="0.70" ry="0.52" fill="#22e022"/><ellipse cx="326.6" cy="125.0" rx="0.70" ry="0.52" fill="#22e022"/><ellipse cx="326.4" cy="126.0" rx="0.70" ry="0.52" fill="#22e022"/>
<ellipse cx="332.6" cy="124.6" rx="1.09" ry="1.38" fill="#ff3c14"/><ellipse cx="333.2" cy="125.0" rx="0.65" ry="0.83" fill="#ff3c14"/><ellipse cx="332.5" cy="125.5" rx="0.65" ry="0.83" fill="#ff3c14"/><ellipse cx="333.3" cy="124.3" rx="0.65" ry="0.83" fill="#ff3c14"/>
<ellipse cx="351.3" cy="121.8" rx="1.16" ry="0.87" fill="#ff9a14"/><ellipse cx="351.2" cy="121.2" rx="0.70" ry="0.52" fill="#ff9a14"/><ellipse cx="350.6" cy="121.6" rx="0.70" ry="0.52" fill="#ff9a14"/><ellipse cx="351.6" cy="122.3" rx="0.70" ry="0.52" fill="#ff9a14"/>
<ellipse cx="319.9" cy="134.2" rx="1.89" ry="1.38" fill="#22e022"/><ellipse cx="319.0" cy="133.6" rx="1.13" ry="0.83" fill="#22e022"/><ellipse cx="319.1" cy="134.8" rx="1.13" ry="0.83" fill="#22e022"/><ellipse cx="320.6" cy="133.5" rx="1.13" ry="0.83" fill="#22e022"/>
<ellipse cx="329.5" cy="134.2" rx="1.09" ry="1.38" fill="#a020f0"/><ellipse cx="328.9" cy="134.6" rx="0.65" ry="0.83" fill="#a020f0"/><ellipse cx="329.7" cy="135.0" rx="0.65" ry="0.83" fill="#a020f0"/><ellipse cx="329.3" cy="133.4" rx="0.65" ry="0.83" fill="#a020f0"/>
<ellipse cx="339.6" cy="137.3" rx="1.38" ry="1.67" fill="#ffee14"/><ellipse cx="339.3" cy="138.3" rx="0.83" ry="1.00" fill="#ffee14"/><ellipse cx="339.6" cy="138.4" rx="0.83" ry="1.00" fill="#ffee14"/><ellipse cx="339.3" cy="136.3" rx="0.83" ry="1.00" fill="#ffee14"/>
<ellipse cx="339.0" cy="142.6" rx="1.38" ry="1.38" fill="#ff28f0"/><ellipse cx="339.4" cy="141.8" rx="0.83" ry="0.83" fill="#ff28f0"/><ellipse cx="338.3" cy="142.1" rx="0.83" ry="0.83" fill="#ff28f0"/><ellipse cx="339.4" cy="143.4" rx="0.83" ry="0.83" fill="#ff28f0"/>
<ellipse cx="337.3" cy="146.9" rx="1.59" ry="1.89" fill="#14e6e6"/><ellipse cx="336.7" cy="147.8" rx="0.96" ry="1.13" fill="#14e6e6"/><ellipse cx="337.9" cy="147.9" rx="0.96" ry="1.13" fill="#14e6e6"/><ellipse cx="337.7" cy="145.8" rx="0.96" ry="1.13" fill="#14e6e6"/>
<ellipse cx="341.7" cy="149.9" rx="2.39" ry="2.17" fill="#1414ff"/><ellipse cx="341.7" cy="151.3" rx="1.44" ry="1.30" fill="#1414ff"/><ellipse cx="343.2" cy="149.5" rx="1.44" ry="1.30" fill="#1414ff"/><ellipse cx="342.8" cy="150.9" rx="1.44" ry="1.30" fill="#1414ff"/>
<ellipse cx="349.0" cy="149.6" rx="1.67" ry="1.09" fill="#22e022"/><ellipse cx="350.1" cy="149.7" rx="1.00" ry="0.65" fill="#22e022"/><ellipse cx="350.1" cy="149.6" rx="1.00" ry="0.65" fill="#22e022"/><ellipse cx="349.7" cy="150.1" rx="1.00" ry="0.65" fill="#22e022"/>
<ellipse cx="354.8" cy="156.9" rx="1.16" ry="1.16" fill="#ff9a14"/><ellipse cx="354.1" cy="156.6" rx="0.70" ry="0.70" fill="#ff9a14"/><ellipse cx="355.0" cy="157.6" rx="0.70" ry="0.70" fill="#ff9a14"/><ellipse cx="354.9" cy="156.2" rx="0.70" ry="0.70" fill="#ff9a14"/>
<ellipse cx="338.2" cy="158.6" rx="1.09" ry="1.67" fill="#1414c8"/><ellipse cx="338.6" cy="159.4" rx="0.65" ry="1.00" fill="#1414c8"/><ellipse cx="338.4" cy="159.6" rx="0.65" ry="1.00" fill="#1414c8"/><ellipse cx="337.7" cy="159.4" rx="0.65" ry="1.00" fill="#1414c8"/>
<ellipse cx="318.1" cy="160.4" rx="0.87" ry="0.87" fill="#ff28f0"/>
<ellipse cx="337.3" cy="165.6" rx="1.67" ry="1.89" fill="#ff1414"/><ellipse cx="338.3" cy="165.3" rx="1.00" ry="1.13" fill="#ff1414"/><ellipse cx="336.3" cy="165.1" rx="1.00" ry="1.13" fill="#ff1414"/><ellipse cx="337.3" cy="166.8" rx="1.00" ry="1.13" fill="#ff1414"/>
<ellipse cx="322.8" cy="172.2" rx="1.67" ry="1.45" fill="#ff9a14"/><ellipse cx="323.7" cy="172.7" rx="1.00" ry="0.87" fill="#ff9a14"/><ellipse cx="323.3" cy="171.4" rx="1.00" ry="0.87" fill="#ff9a14"/><ellipse cx="322.8" cy="171.3" rx="1.00" ry="0.87" fill="#ff9a14"/>
<ellipse cx="356.0" cy="173.3" rx="1.01" ry="0.72" fill="#a020f0"/>
<ellipse cx="292.0" cy="181.9" rx="1.38" ry="1.09" fill="#e628e6"/><ellipse cx="291.2" cy="182.1" rx="0.83" ry="0.65" fill="#e628e6"/><ellipse cx="291.5" cy="181.3" rx="0.83" ry="0.65" fill="#e628e6"/><ellipse cx="292.1" cy="182.6" rx="0.83" ry="0.65" fill="#e628e6"/>
<ellipse cx="304.2" cy="181.9" rx="1.81" ry="2.10" fill="#14a0ff"/><ellipse cx="304.6" cy="180.6" rx="1.09" ry="1.26" fill="#14a0ff"/><ellipse cx="303.9" cy="183.2" rx="1.09" ry="1.26" fill="#14a0ff"/><ellipse cx="303.8" cy="183.2" rx="1.09" ry="1.26" fill="#14a0ff"/>
<ellipse cx="301.3" cy="188.8" rx="1.09" ry="1.09" fill="#a020f0"/><ellipse cx="301.5" cy="189.5" rx="0.65" ry="0.65" fill="#a020f0"/><ellipse cx="301.9" cy="188.5" rx="0.65" ry="0.65" fill="#a020f0"/><ellipse cx="300.7" cy="189.2" rx="0.65" ry="0.65" fill="#a020f0"/>
<ellipse cx="308.3" cy="190.6" rx="0.80" ry="1.09" fill="#c81414"/>
<ellipse cx="303.7" cy="194.4" rx="0.72" ry="0.72" fill="#22e022"/>
<ellipse cx="304.8" cy="201.1" rx="0.72" ry="0.72" fill="#1414c8"/>
<ellipse cx="265.9" cy="196.2" rx="1.09" ry="1.59" fill="#3cb4ff"/><ellipse cx="265.5" cy="197.0" rx="0.65" ry="0.96" fill="#3cb4ff"/><ellipse cx="266.3" cy="195.4" rx="0.65" ry="0.96" fill="#3cb4ff"/><ellipse cx="266.4" cy="196.9" rx="0.65" ry="0.96" fill="#3cb4ff"/>
<ellipse cx="269.3" cy="207.0" rx="1.59" ry="1.59" fill="#14e6ff"/><ellipse cx="269.6" cy="206.0" rx="0.96" ry="0.96" fill="#14e6ff"/><ellipse cx="270.2" cy="206.5" rx="0.96" ry="0.96" fill="#14e6ff"/><ellipse cx="270.3" cy="207.0" rx="0.96" ry="0.96" fill="#14e6ff"/>
<ellipse cx="278.9" cy="206.6" rx="1.59" ry="1.09" fill="#ff9a14"/><ellipse cx="279.9" cy="206.4" rx="0.96" ry="0.65" fill="#ff9a14"/><ellipse cx="278.6" cy="207.3" rx="0.96" ry="0.65" fill="#ff9a14"/><ellipse cx="279.6" cy="206.1" rx="0.96" ry="0.65" fill="#ff9a14"/>
<ellipse cx="295.5" cy="212.4" rx="1.81" ry="2.10" fill="#22e022"/><ellipse cx="295.9" cy="211.1" rx="1.09" ry="1.26" fill="#22e022"/><ellipse cx="294.6" cy="213.2" rx="1.09" ry="1.26" fill="#22e022"/><ellipse cx="296.0" cy="213.6" rx="1.09" ry="1.26" fill="#22e022"/>
<ellipse cx="299.9" cy="212.8" rx="1.30" ry="2.10" fill="#c8c81e"/><ellipse cx="299.1" cy="213.3" rx="0.78" ry="1.26" fill="#c8c81e"/><ellipse cx="300.7" cy="213.0" rx="0.78" ry="1.26" fill="#c8c81e"/><ellipse cx="300.1" cy="214.1" rx="0.78" ry="1.26" fill="#c8c81e"/>
<ellipse cx="292.9" cy="217.1" rx="1.59" ry="1.59" fill="#1428ff"/><ellipse cx="293.5" cy="217.9" rx="0.96" ry="0.96" fill="#1428ff"/><ellipse cx="291.9" cy="216.9" rx="0.96" ry="0.96" fill="#1428ff"/><ellipse cx="292.7" cy="218.1" rx="0.96" ry="0.96" fill="#1428ff"/>
<ellipse cx="301.6" cy="218.9" rx="0.80" ry="1.59" fill="#c828c8"/><ellipse cx="302.1" cy="219.2" rx="0.48" ry="0.96" fill="#c828c8"/><ellipse cx="301.1" cy="218.5" rx="0.48" ry="0.96" fill="#c828c8"/><ellipse cx="301.3" cy="218.1" rx="0.48" ry="0.96" fill="#c828c8"/>
<ellipse cx="263.8" cy="221.5" rx="0.80" ry="3.19" fill="#14e6ff"/><ellipse cx="264.3" cy="221.3" rx="0.48" ry="1.91" fill="#14e6ff"/><ellipse cx="263.3" cy="221.9" rx="0.48" ry="1.91" fill="#14e6ff"/><ellipse cx="264.3" cy="221.4" rx="0.48" ry="1.91" fill="#14e6ff"/>
<ellipse cx="272.3" cy="225.5" rx="0.72" ry="0.58" fill="#ff9a14"/>
<ellipse cx="328.6" cy="177.0" rx="1.59" ry="2.10" fill="#14a0ff"/><ellipse cx="327.8" cy="176.2" rx="0.96" ry="1.26" fill="#14a0ff"/><ellipse cx="328.2" cy="175.8" rx="0.96" ry="1.26" fill="#14a0ff"/><ellipse cx="329.3" cy="176.0" rx="0.96" ry="1.26" fill="#14a0ff"/>
<ellipse cx="367.3" cy="181.3" rx="0.72" ry="0.87" fill="#f0e614"/>
<ellipse cx="324.6" cy="183.6" rx="1.30" ry="1.09" fill="#22c822"/><ellipse cx="324.4" cy="184.3" rx="0.78" ry="0.65" fill="#22c822"/><ellipse cx="323.8" cy="183.6" rx="0.78" ry="0.65" fill="#22c822"/><ellipse cx="323.8" cy="183.8" rx="0.78" ry="0.65" fill="#22c822"/>
<ellipse cx="331.2" cy="184.8" rx="1.59" ry="1.30" fill="#a020f0"/><ellipse cx="330.5" cy="184.2" rx="0.96" ry="0.78" fill="#a020f0"/><ellipse cx="332.2" cy="184.9" rx="0.96" ry="0.78" fill="#a020f0"/><ellipse cx="331.7" cy="184.1" rx="0.96" ry="0.78" fill="#a020f0"/>
<ellipse cx="336.8" cy="184.3" rx="1.09" ry="1.30" fill="#ff1414"/><ellipse cx="336.8" cy="185.1" rx="0.65" ry="0.78" fill="#ff1414"/><ellipse cx="336.1" cy="184.2" rx="0.65" ry="0.78" fill="#ff1414"/><ellipse cx="337.0" cy="185.1" rx="0.65" ry="0.78" fill="#ff1414"/>
<ellipse cx="320.7" cy="186.6" rx="1.09" ry="0.72" fill="#1414a0"/>
<ellipse cx="322.8" cy="200.0" rx="1.09" ry="1.30" fill="#a020f0"/><ellipse cx="322.1" cy="200.0" rx="0.65" ry="0.78" fill="#a020f0"/><ellipse cx="322.7" cy="200.8" rx="0.65" ry="0.78" fill="#a020f0"/><ellipse cx="322.5" cy="200.8" rx="0.65" ry="0.78" fill="#a020f0"/>
<ellipse cx="320.7" cy="196.2" rx="0.51" ry="0.51" fill="#a01414"/>
<ellipse cx="353.5" cy="211.0" rx="1.09" ry="1.09" fill="#ff1414"/><ellipse cx="353.2" cy="210.4" rx="0.65" ry="0.65" fill="#ff1414"/><ellipse cx="352.9" cy="211.3" rx="0.65" ry="0.65" fill="#ff1414"/><ellipse cx="353.0" cy="210.5" rx="0.65" ry="0.65" fill="#ff1414"/>
<ellipse cx="329.1" cy="212.8" rx="1.09" ry="1.30" fill="#ffe614"/><ellipse cx="329.7" cy="213.2" rx="0.65" ry="0.78" fill="#ffe614"/><ellipse cx="329.8" cy="213.0" rx="0.65" ry="0.78" fill="#ffe614"/><ellipse cx="328.9" cy="213.6" rx="0.65" ry="0.78" fill="#ffe614"/>
<ellipse cx="336.4" cy="217.6" rx="1.30" ry="1.30" fill="#1428ff"/><ellipse cx="337.1" cy="217.2" rx="0.78" ry="0.78" fill="#1428ff"/><ellipse cx="336.3" cy="218.4" rx="0.78" ry="0.78" fill="#1428ff"/><ellipse cx="335.7" cy="218.0" rx="0.78" ry="0.78" fill="#1428ff"/>
<ellipse cx="331.2" cy="225.6" rx="1.30" ry="0.58" fill="#e628e6"/>
<text x="375.4" y="14.2" font-size="10.8" font-weight="bold" fill="#000" stroke="#000" stroke-width="0.35" textLength="6.4" lengthAdjust="spacingAndGlyphs">C</text>
<text x="441.7" y="13.8" font-size="6.6" font-weight="bold" fill="#111" textLength="50.3" lengthAdjust="spacingAndGlyphs">GLASS SURFACE</text>
<text transform="translate(386.3,53.5) rotate(-90)" font-size="6.8" text-anchor="middle" fill="#1a1a1a" textLength="66" lengthAdjust="spacingAndGlyphs">Relative Frequency (%)</text>
<rect x="399.40" y="35.31" width="2.65" height="43.19" fill="#1a8a1c" stroke="#0b4f0b" stroke-width="0.45"/>
<rect x="402.81" y="40.83" width="2.65" height="37.67" fill="#1a8a1c" stroke="#0b4f0b" stroke-width="0.45"/>
<rect x="406.24" y="62.63" width="2.65" height="15.87" fill="#1a8a1c" stroke="#0b4f0b" stroke-width="0.45"/>
<rect x="409.66" y="69.94" width="2.65" height="8.56" fill="#1a8a1c" stroke="#0b4f0b" stroke-width="0.45"/>
<rect x="413.08" y="71.88" width="2.65" height="6.62" fill="#1a8a1c" stroke="#0b4f0b" stroke-width="0.45"/>
<rect x="416.50" y="73.67" width="2.65" height="4.83" fill="#1a8a1c" stroke="#0b4f0b" stroke-width="0.45"/>
<rect x="419.92" y="72.70" width="2.65" height="5.80" fill="#1a8a1c" stroke="#0b4f0b" stroke-width="0.45"/>
<rect x="423.34" y="76.02" width="2.65" height="2.48" fill="#1a8a1c" stroke="#0b4f0b" stroke-width="0.45"/>
<rect x="426.76" y="76.98" width="2.65" height="1.52" fill="#1a8a1c" stroke="#0b4f0b" stroke-width="0.45"/>
<rect x="430.18" y="77.53" width="2.65" height="0.97" fill="#1a8a1c" stroke="#0b4f0b" stroke-width="0.45"/>
<rect x="433.60" y="77.12" width="2.65" height="1.38" fill="#1a8a1c" stroke="#0b4f0b" stroke-width="0.45"/>
<rect x="437.02" y="77.40" width="2.65" height="1.10" fill="#1a8a1c" stroke="#0b4f0b" stroke-width="0.45"/>
<rect x="440.44" y="77.67" width="2.65" height="0.83" fill="#1a8a1c" stroke="#0b4f0b" stroke-width="0.45"/>
<rect x="443.86" y="78.16" width="2.65" height="0.34" fill="#1a8a1c" stroke="#0b4f0b" stroke-width="0.45"/>
<rect x="447.28" y="78.22" width="2.65" height="0.28" fill="#1a8a1c" stroke="#0b4f0b" stroke-width="0.45"/>
<rect x="450.69" y="78.29" width="2.65" height="0.21" fill="#1a8a1c" stroke="#0b4f0b" stroke-width="0.45"/>
<rect x="454.12" y="78.36" width="2.65" height="0.14" fill="#1a8a1c" stroke="#0b4f0b" stroke-width="0.45"/>
<rect x="457.54" y="78.36" width="2.65" height="0.14" fill="#1a8a1c" stroke="#0b4f0b" stroke-width="0.45"/>
<rect x="460.96" y="77.95" width="2.65" height="0.55" fill="#1a8a1c" stroke="#0b4f0b" stroke-width="0.45"/>
<path d="M397.3,23.0V78.5H466.2" fill="none" stroke="#1e1e1e" stroke-width="0.6"/>
<path d="M395.7,78.50H397.3" stroke="#1e1e1e" stroke-width="0.55"/>
<text x="395.3" y="80.25" font-size="5" text-anchor="end" fill="#111">0</text>
<path d="M395.7,64.70H397.3" stroke="#1e1e1e" stroke-width="0.55"/>
<text x="395.3" y="66.45" font-size="5" text-anchor="end" fill="#111">10</text>
<path d="M395.7,50.90H397.3" stroke="#1e1e1e" stroke-width="0.55"/>
<text x="395.3" y="52.65" font-size="5" text-anchor="end" fill="#111">20</text>
<path d="M395.7,37.10H397.3" stroke="#1e1e1e" stroke-width="0.55"/>
<text x="395.3" y="38.85" font-size="5" text-anchor="end" fill="#111">30</text>
<path d="M395.7,23.30H397.3" stroke="#1e1e1e" stroke-width="0.55"/>
<text x="395.3" y="25.05" font-size="5" text-anchor="end" fill="#111">40</text>
<path d="M397.4,78.5v1.8" stroke="#111" stroke-width="0.6"/>
<text x="397.4" y="85.1" font-size="5" text-anchor="middle" fill="#111">0</text>
<path d="M414.5,78.5v1.8" stroke="#111" stroke-width="0.6"/>
<text x="414.5" y="85.1" font-size="5" text-anchor="middle" fill="#111">100</text>
<path d="M431.6,78.5v1.8" stroke="#111" stroke-width="0.6"/>
<text x="431.6" y="85.1" font-size="5" text-anchor="middle" fill="#111">200</text>
<path d="M448.7,78.5v1.8" stroke="#111" stroke-width="0.6"/>
<text x="448.7" y="85.1" font-size="5" text-anchor="middle" fill="#111">300</text>
<path d="M465.8,78.5v1.8" stroke="#111" stroke-width="0.6"/>
<text x="465.8" y="85.1" font-size="5" text-anchor="middle" fill="#111">400</text>
<text x="431.8" y="90.8" font-size="7" text-anchor="middle" fill="#222" textLength="65.5" lengthAdjust="spacingAndGlyphs">N localizations/cluster</text>
<text x="411.3" y="23.3" font-size="7.6" fill="#141414" textLength="40.3" lengthAdjust="spacingAndGlyphs">N<tspan font-size="4.8" dy="1.6">loc</tspan><tspan dy="-1.6">/cluster =</tspan></text>
<text x="431.8" y="32.7" font-size="7.6" text-anchor="middle" fill="#141414" textLength="31" lengthAdjust="spacingAndGlyphs">65.1 ± 2.7</text>
<rect x="479.88" y="75.33" width="4.10" height="3.17" fill="#1a8a1c" stroke="#0b4f0b" stroke-width="0.45"/>
<rect x="485.21" y="58.90" width="4.10" height="19.60" fill="#1a8a1c" stroke="#0b4f0b" stroke-width="0.45"/>
<rect x="490.54" y="48.28" width="4.10" height="30.22" fill="#1a8a1c" stroke="#0b4f0b" stroke-width="0.45"/>
<rect x="495.87" y="54.90" width="4.10" height="23.60" fill="#1a8a1c" stroke="#0b4f0b" stroke-width="0.45"/>
<rect x="501.20" y="58.77" width="4.10" height="19.73" fill="#1a8a1c" stroke="#0b4f0b" stroke-width="0.45"/>
<rect x="506.53" y="61.39" width="4.10" height="17.11" fill="#1a8a1c" stroke="#0b4f0b" stroke-width="0.45"/>
<rect x="511.86" y="69.12" width="4.10" height="9.38" fill="#1a8a1c" stroke="#0b4f0b" stroke-width="0.45"/>
<rect x="517.19" y="71.05" width="4.10" height="7.45" fill="#1a8a1c" stroke="#0b4f0b" stroke-width="0.45"/>
<rect x="522.52" y="75.88" width="4.10" height="2.62" fill="#1a8a1c" stroke="#0b4f0b" stroke-width="0.45"/>
<rect x="527.85" y="76.84" width="4.10" height="1.66" fill="#1a8a1c" stroke="#0b4f0b" stroke-width="0.45"/>
<rect x="533.18" y="78.02" width="4.10" height="0.48" fill="#1a8a1c" stroke="#0b4f0b" stroke-width="0.45"/>
<rect x="538.51" y="78.22" width="4.10" height="0.28" fill="#1a8a1c" stroke="#0b4f0b" stroke-width="0.45"/>
<path d="M476.6,23.0V78.5H545.2" fill="none" stroke="#1e1e1e" stroke-width="0.6"/>
<path d="M475.0,78.50H476.6" stroke="#1e1e1e" stroke-width="0.55"/>
<text x="474.6" y="80.25" font-size="5" text-anchor="end" fill="#111">0</text>
<path d="M475.0,64.70H476.6" stroke="#1e1e1e" stroke-width="0.55"/>
<text x="474.6" y="66.45" font-size="5" text-anchor="end" fill="#111">10</text>
<path d="M475.0,50.90H476.6" stroke="#1e1e1e" stroke-width="0.55"/>
<text x="474.6" y="52.65" font-size="5" text-anchor="end" fill="#111">20</text>
<path d="M475.0,37.10H476.6" stroke="#1e1e1e" stroke-width="0.55"/>
<text x="474.6" y="38.85" font-size="5" text-anchor="end" fill="#111">30</text>
<path d="M475.0,23.30H476.6" stroke="#1e1e1e" stroke-width="0.55"/>
<text x="474.6" y="25.05" font-size="5" text-anchor="end" fill="#111">40</text>
<path d="M476.6,78.5v1.8" stroke="#111" stroke-width="0.6"/>
<text x="476.6" y="85.1" font-size="5" text-anchor="middle" fill="#111">0</text>
<path d="M497.9,78.5v1.8" stroke="#111" stroke-width="0.6"/>
<text x="497.9" y="85.1" font-size="5" text-anchor="middle" fill="#111">800</text>
<path d="M519.2,78.5v1.8" stroke="#111" stroke-width="0.6"/>
<text x="519.2" y="85.1" font-size="5" text-anchor="middle" fill="#111">1600</text>
<path d="M540.5,78.5v1.8" stroke="#111" stroke-width="0.6"/>
<text x="540.5" y="85.1" font-size="5" text-anchor="middle" fill="#111">2400</text>
<text x="511" y="91.2" font-size="7" text-anchor="middle" fill="#222" textLength="56.5" lengthAdjust="spacingAndGlyphs">Cluster area (nm<tspan font-size="4.2" dy="-2.6">2</tspan><tspan dy="2.6">)</tspan></text>
<text x="489.6" y="23.3" font-size="7.6" fill="#141414" textLength="43.4" lengthAdjust="spacingAndGlyphs">Cluster area =</text>
<text x="511.2" y="32.7" font-size="7.6" text-anchor="middle" fill="#141414" textLength="41.5" lengthAdjust="spacingAndGlyphs">890 ± 19 nm<tspan font-size="4.4" dy="-2.8">2</tspan></text>
<text x="376.3" y="129.4" font-size="10.8" font-weight="bold" fill="#000" stroke="#000" stroke-width="0.35" textLength="5.4" lengthAdjust="spacingAndGlyphs">F</text>
<text x="434.8" y="129.0" font-size="6.6" font-weight="bold" fill="#111" textLength="66.2" lengthAdjust="spacingAndGlyphs">GRAPHENE SURFACE</text>
<text transform="translate(386.3,166.1) rotate(-90)" font-size="7.1" text-anchor="middle" fill="#1a1a1a" textLength="69.6" lengthAdjust="spacingAndGlyphs">Relative Frequency (%)</text>
<rect x="399.40" y="160.99" width="2.65" height="32.71" fill="#fb8a14" stroke="#9a4e08" stroke-width="0.45"/>
<rect x="402.81" y="154.23" width="2.65" height="39.47" fill="#fb8a14" stroke="#9a4e08" stroke-width="0.45"/>
<rect x="406.24" y="172.03" width="2.65" height="21.67" fill="#fb8a14" stroke="#9a4e08" stroke-width="0.45"/>
<rect x="409.66" y="179.49" width="2.65" height="14.21" fill="#fb8a14" stroke="#9a4e08" stroke-width="0.45"/>
<rect x="413.08" y="185.28" width="2.65" height="8.42" fill="#fb8a14" stroke="#9a4e08" stroke-width="0.45"/>
<rect x="416.50" y="187.63" width="2.65" height="6.07" fill="#fb8a14" stroke="#9a4e08" stroke-width="0.45"/>
<rect x="419.92" y="190.11" width="2.65" height="3.59" fill="#fb8a14" stroke="#9a4e08" stroke-width="0.45"/>
<rect x="423.34" y="191.35" width="2.65" height="2.35" fill="#fb8a14" stroke="#9a4e08" stroke-width="0.45"/>
<rect x="426.76" y="192.32" width="2.65" height="1.38" fill="#fb8a14" stroke="#9a4e08" stroke-width="0.45"/>
<rect x="430.18" y="192.18" width="2.65" height="1.52" fill="#fb8a14" stroke="#9a4e08" stroke-width="0.45"/>
<rect x="433.60" y="193.08" width="2.65" height="0.62" fill="#fb8a14" stroke="#9a4e08" stroke-width="0.45"/>
<rect x="437.02" y="193.29" width="2.65" height="0.41" fill="#fb8a14" stroke="#9a4e08" stroke-width="0.45"/>
<rect x="440.44" y="193.49" width="2.65" height="0.21" fill="#fb8a14" stroke="#9a4e08" stroke-width="0.45"/>
<rect x="443.86" y="193.56" width="2.65" height="0.14" fill="#fb8a14" stroke="#9a4e08" stroke-width="0.45"/>
<path d="M397.3,138.2V193.7H466.2" fill="none" stroke="#1e1e1e" stroke-width="0.6"/>
<path d="M395.7,193.70H397.3" stroke="#1e1e1e" stroke-width="0.55"/>
<text x="395.3" y="195.45" font-size="5" text-anchor="end" fill="#111">0</text>
<path d="M395.7,179.90H397.3" stroke="#1e1e1e" stroke-width="0.55"/>
<text x="395.3" y="181.65" font-size="5" text-anchor="end" fill="#111">10</text>
<path d="M395.7,166.10H397.3" stroke="#1e1e1e" stroke-width="0.55"/>
<text x="395.3" y="167.85" font-size="5" text-anchor="end" fill="#111">20</text>
<path d="M395.7,152.30H397.3" stroke="#1e1e1e" stroke-width="0.55"/>
<text x="395.3" y="154.05" font-size="5" text-anchor="end" fill="#111">30</text>
<path d="M395.7,138.50H397.3" stroke="#1e1e1e" stroke-width="0.55"/>
<text x="395.3" y="140.25" font-size="5" text-anchor="end" fill="#111">40</text>
<path d="M397.4,193.7v1.8" stroke="#111" stroke-width="0.6"/>
<text x="397.4" y="200.3" font-size="5" text-anchor="middle" fill="#111">0</text>
<path d="M414.5,193.7v1.8" stroke="#111" stroke-width="0.6"/>
<text x="414.5" y="200.3" font-size="5" text-anchor="middle" fill="#111">100</text>
<path d="M431.6,193.7v1.8" stroke="#111" stroke-width="0.6"/>
<text x="431.6" y="200.3" font-size="5" text-anchor="middle" fill="#111">200</text>
<path d="M448.7,193.7v1.8" stroke="#111" stroke-width="0.6"/>
<text x="448.7" y="200.3" font-size="5" text-anchor="middle" fill="#111">300</text>
<path d="M465.8,193.7v1.8" stroke="#111" stroke-width="0.6"/>
<text x="465.8" y="200.3" font-size="5" text-anchor="middle" fill="#111">400</text>
<text x="431.8" y="206.0" font-size="7" text-anchor="middle" fill="#222" textLength="65.5" lengthAdjust="spacingAndGlyphs">N localizations/cluster</text>
<text x="411.3" y="138.5" font-size="7.6" fill="#141414" textLength="40.3" lengthAdjust="spacingAndGlyphs">N<tspan font-size="4.8" dy="1.6">loc</tspan><tspan dy="-1.6">/cluster =</tspan></text>
<text x="431.8" y="147.9" font-size="7.6" text-anchor="middle" fill="#141414" textLength="31" lengthAdjust="spacingAndGlyphs">61.2 ± 1.2</text>
<rect x="479.88" y="193.29" width="4.10" height="0.41" fill="#fb8a14" stroke="#9a4e08" stroke-width="0.45"/>
<rect x="485.21" y="185.28" width="4.10" height="8.42" fill="#fb8a14" stroke="#9a4e08" stroke-width="0.45"/>
<rect x="490.54" y="166.38" width="4.10" height="27.32" fill="#fb8a14" stroke="#9a4e08" stroke-width="0.45"/>
<rect x="495.87" y="156.03" width="4.10" height="37.67" fill="#fb8a14" stroke="#9a4e08" stroke-width="0.45"/>
<rect x="501.20" y="169.83" width="4.10" height="23.87" fill="#fb8a14" stroke="#9a4e08" stroke-width="0.45"/>
<rect x="506.53" y="178.52" width="4.10" height="15.18" fill="#fb8a14" stroke="#9a4e08" stroke-width="0.45"/>
<rect x="511.86" y="184.87" width="4.10" height="8.83" fill="#fb8a14" stroke="#9a4e08" stroke-width="0.45"/>
<rect x="517.19" y="187.21" width="4.10" height="6.49" fill="#fb8a14" stroke="#9a4e08" stroke-width="0.45"/>
<rect x="522.52" y="191.22" width="4.10" height="2.48" fill="#fb8a14" stroke="#9a4e08" stroke-width="0.45"/>
<rect x="527.85" y="192.04" width="4.10" height="1.66" fill="#fb8a14" stroke="#9a4e08" stroke-width="0.45"/>
<rect x="533.18" y="193.15" width="4.10" height="0.55" fill="#fb8a14" stroke="#9a4e08" stroke-width="0.45"/>
<rect x="538.51" y="193.49" width="4.10" height="0.21" fill="#fb8a14" stroke="#9a4e08" stroke-width="0.45"/>
<path d="M476.6,138.2V193.7H545.2" fill="none" stroke="#1e1e1e" stroke-width="0.6"/>
<path d="M475.0,193.70H476.6" stroke="#1e1e1e" stroke-width="0.55"/>
<text x="474.6" y="195.45" font-size="5" text-anchor="end" fill="#111">0</text>
<path d="M475.0,179.90H476.6" stroke="#1e1e1e" stroke-width="0.55"/>
<text x="474.6" y="181.65" font-size="5" text-anchor="end" fill="#111">10</text>
<path d="M475.0,166.10H476.6" stroke="#1e1e1e" stroke-width="0.55"/>
<text x="474.6" y="167.85" font-size="5" text-anchor="end" fill="#111">20</text>
<path d="M475.0,152.30H476.6" stroke="#1e1e1e" stroke-width="0.55"/>
<text x="474.6" y="154.05" font-size="5" text-anchor="end" fill="#111">30</text>
<path d="M475.0,138.50H476.6" stroke="#1e1e1e" stroke-width="0.55"/>
<text x="474.6" y="140.25" font-size="5" text-anchor="end" fill="#111">40</text>
<path d="M476.6,193.7v1.8" stroke="#111" stroke-width="0.6"/>
<text x="476.6" y="200.3" font-size="5" text-anchor="middle" fill="#111">0</text>
<path d="M497.9,193.7v1.8" stroke="#111" stroke-width="0.6"/>
<text x="497.9" y="200.3" font-size="5" text-anchor="middle" fill="#111">800</text>
<path d="M519.2,193.7v1.8" stroke="#111" stroke-width="0.6"/>
<text x="519.2" y="200.3" font-size="5" text-anchor="middle" fill="#111">1600</text>
<path d="M540.5,193.7v1.8" stroke="#111" stroke-width="0.6"/>
<text x="540.5" y="200.3" font-size="5" text-anchor="middle" fill="#111">2400</text>
<text x="511" y="206.4" font-size="7" text-anchor="middle" fill="#222" textLength="56.5" lengthAdjust="spacingAndGlyphs">Cluster area (nm<tspan font-size="4.2" dy="-2.6">2</tspan><tspan dy="2.6">)</tspan></text>
<text x="489.6" y="138.5" font-size="7.6" fill="#141414" textLength="43.4" lengthAdjust="spacingAndGlyphs">Cluster area =</text>
<text x="511.2" y="147.9" font-size="7.6" text-anchor="middle" fill="#141414" textLength="41.5" lengthAdjust="spacingAndGlyphs">943 ± 10 nm<tspan font-size="4.4" dy="-2.8">2</tspan></text>
<text x="6.2" y="246" font-size="11" font-weight="bold" fill="#000" stroke="#000" stroke-width="0.35" textLength="7" lengthAdjust="spacingAndGlyphs">G</text>
<path d="M32.9,324.3 C33.1,323.3 33.8,320.6 34.2,318.5 C34.6,316.4 35.1,314.2 35.5,312.0 C35.9,309.8 36.4,307.6 36.8,305.4 C37.2,303.2 37.7,301.1 38.1,298.9 C38.5,296.7 39.0,294.4 39.4,292.4 C39.8,290.3 40.3,288.4 40.7,286.6 C41.1,284.9 41.6,283.3 42.0,281.9 C42.4,280.5 42.7,279.3 43.3,278.0 C43.9,276.7 44.6,275.2 45.4,274.0 C46.2,272.8 47.0,272.0 48.0,270.9 C49.0,269.8 50.0,268.6 51.2,267.5 C52.4,266.4 53.8,265.2 55.1,264.1 C56.4,263.0 57.7,261.9 59.0,260.9 C60.3,259.9 61.7,259.2 63.0,258.3 C64.3,257.4 65.6,256.4 66.9,255.7 C68.2,255.0 69.3,254.4 70.8,253.9 C72.3,253.4 74.2,253.0 76.0,252.6 C77.8,252.2 79.3,251.8 81.3,251.5 C83.3,251.2 85.5,250.8 87.8,250.5 C90.1,250.2 93.2,249.9 95.2,249.7 C97.2,249.5 97.5,249.6 100.0,249.5 C102.5,249.4 104.6,249.4 110.0,249.3 C115.4,249.2 128.5,249.2 132.2,249.2" fill="none" stroke="#34993a" stroke-width="1.1"/>
<path d="M33.6,324.3 C33.8,323.3 34.5,320.4 34.9,318.5 C35.3,316.6 35.8,314.8 36.3,312.8 C36.8,310.9 37.2,308.8 37.6,306.8 C38.0,304.8 38.5,302.8 38.9,300.7 C39.3,298.6 39.8,296.4 40.2,294.5 C40.6,292.6 41.1,290.8 41.5,289.0 C41.9,287.2 42.4,285.6 42.8,284.0 C43.2,282.4 43.6,280.8 44.1,279.3 C44.6,277.9 45.2,276.6 45.9,275.3 C46.5,274.0 47.2,272.7 48.0,271.4 C48.8,270.1 49.7,268.8 50.7,267.5 C51.7,266.2 52.6,264.9 53.8,263.6 C55.0,262.3 56.4,260.8 57.7,259.6 C59.0,258.4 60.1,257.2 61.6,256.2 C63.1,255.2 65.2,254.3 66.9,253.6 C68.7,252.9 70.3,252.3 72.1,251.8 C73.8,251.3 75.7,250.8 77.4,250.5 C79.2,250.2 80.9,249.9 82.6,249.7 C84.3,249.5 86.2,249.3 87.8,249.2 C89.4,249.1 88.3,249.2 92.0,249.2 C95.7,249.2 103.3,249.2 110.0,249.2 C116.7,249.2 128.5,249.2 132.2,249.2" fill="none" stroke="#f5a23c" stroke-width="1.1"/>
<path d="M31.0,248.9V324.4H132.4" fill="none" stroke="#505050" stroke-width="0.9"/>
<path d="M29.2,324.40H31.0" stroke="#505050" stroke-width="0.8"/>
<text x="28.8" y="326.40" font-size="5.7" text-anchor="end" fill="#111">0</text>
<path d="M29.2,305.60H31.0" stroke="#505050" stroke-width="0.8"/>
<text x="28.8" y="307.60" font-size="5.7" text-anchor="end" fill="#111">25</text>
<path d="M29.2,286.80H31.0" stroke="#505050" stroke-width="0.8"/>
<text x="28.8" y="288.80" font-size="5.7" text-anchor="end" fill="#111">50</text>
<path d="M29.2,268.00H31.0" stroke="#505050" stroke-width="0.8"/>
<text x="28.8" y="270.00" font-size="5.7" text-anchor="end" fill="#111">75</text>
<path d="M29.2,249.20H31.0" stroke="#505050" stroke-width="0.8"/>
<text x="28.8" y="251.20" font-size="5.7" text-anchor="end" fill="#111">100</text>
<path d="M31.0,324.4v1.8" stroke="#505050" stroke-width="0.8"/>
<text x="31.0" y="331.3" font-size="5.6" text-anchor="middle" fill="#111">0</text>
<path d="M56.3,324.4v1.8" stroke="#505050" stroke-width="0.8"/>
<text x="56.3" y="331.3" font-size="5.6" text-anchor="middle" fill="#111">100</text>
<path d="M81.6,324.4v1.8" stroke="#505050" stroke-width="0.8"/>
<text x="81.6" y="331.3" font-size="5.6" text-anchor="middle" fill="#111">200</text>
<path d="M106.8,324.4v1.8" stroke="#505050" stroke-width="0.8"/>
<text x="106.8" y="331.3" font-size="5.6" text-anchor="middle" fill="#111">300</text>
<path d="M132.0,324.4v1.8" stroke="#505050" stroke-width="0.8"/>
<text x="132.0" y="331.3" font-size="5.6" text-anchor="middle" fill="#111">400</text>
<text x="81.8" y="338.8" font-size="7.75" text-anchor="middle" fill="#222">N localizations /cluster</text>
<text transform="translate(17.0,283.4) rotate(-90)" font-size="7.9" text-anchor="middle" fill="#1a1a1a">CF (%)</text>
<text x="50.2" y="258.3" font-size="9" font-weight="bold" text-anchor="middle" fill="#111" letter-spacing="0.3">*</text>
<path d="M69.5,307.5H83.9" stroke="#34993a" stroke-width="1.1"/>
<path d="M69.5,315.9H83.9" stroke="#f5a23c" stroke-width="1.1"/>
<text x="86.3" y="309.7" font-size="6.5" fill="#111">Glass surface</text>
<text x="86.3" y="318.1" font-size="6.5" fill="#111">Graphene surface</text>
<text x="137.6" y="246" font-size="11" font-weight="bold" fill="#000" stroke="#000" stroke-width="0.35" textLength="6.8" lengthAdjust="spacingAndGlyphs">H</text>
<path d="M165.2,324.2 C166.3,324.1 170.0,323.9 171.8,323.6 C173.6,323.3 174.8,323.0 176.2,322.3 C177.6,321.6 179.1,320.8 180.4,319.7 C181.7,318.6 182.8,317.3 184.0,315.8 C185.2,314.3 186.3,312.4 187.4,310.6 C188.5,308.9 189.7,307.0 190.8,305.3 C191.9,303.6 192.8,302.2 194.0,300.6 C195.2,299.0 196.6,297.0 197.9,295.4 C199.2,293.8 200.5,292.5 201.8,291.0 C203.1,289.5 204.4,288.0 205.7,286.5 C207.0,285.0 208.6,283.1 209.7,281.8 C210.8,280.5 211.4,279.9 212.3,278.7 C213.2,277.5 214.3,275.9 215.4,274.5 C216.5,273.1 217.6,271.5 218.8,270.1 C220.0,268.7 221.4,267.2 222.7,266.1 C224.0,265.0 225.3,264.4 226.6,263.5 C227.9,262.6 229.3,261.8 230.6,260.9 C231.9,260.0 233.2,259.1 234.5,258.3 C235.8,257.5 236.9,256.8 238.4,256.2 C239.9,255.5 241.8,255.1 243.6,254.4 C245.3,253.8 247.2,252.9 248.9,252.3 C250.7,251.7 252.1,251.1 254.1,250.7 C256.1,250.3 258.2,250.0 260.6,249.7 C263.0,249.4 267.2,249.2 268.5,249.1" fill="none" stroke="#34993a" stroke-width="1.1"/>
<path d="M165.2,324.2 C167.4,324.1 175.2,323.9 178.3,323.6 C181.4,323.3 182.0,323.0 183.5,322.3 C185.0,321.6 186.2,320.8 187.4,319.7 C188.6,318.6 189.7,317.3 190.8,315.8 C191.9,314.3 192.9,312.4 194.0,310.6 C195.1,308.8 196.0,306.8 197.1,304.8 C198.2,302.8 199.4,300.9 200.5,298.8 C201.6,296.7 202.8,294.3 203.9,292.3 C205.0,290.3 206.0,288.6 207.0,287.0 C208.0,285.4 208.8,284.0 209.7,282.6 C210.6,281.2 211.4,280.1 212.3,278.7 C213.2,277.3 214.3,275.5 215.4,274.0 C216.5,272.5 217.6,270.9 218.8,269.5 C220.0,268.1 221.4,266.7 222.7,265.6 C224.0,264.5 225.3,263.9 226.6,263.0 C227.9,262.1 229.3,261.3 230.6,260.4 C231.9,259.5 233.2,258.5 234.5,257.8 C235.8,257.1 236.9,256.8 238.4,256.2 C239.9,255.5 241.8,254.6 243.6,253.9 C245.3,253.2 247.2,252.6 248.9,252.0 C250.7,251.4 252.1,250.9 254.1,250.5 C256.1,250.1 258.2,249.9 260.6,249.7 C263.0,249.5 267.2,249.2 268.5,249.1" fill="none" stroke="#f5a23c" stroke-width="1.1"/>
<path d="M165.3,248.9V324.4H268.6" fill="none" stroke="#505050" stroke-width="0.9"/>
<path d="M163.5,324.40H165.3" stroke="#505050" stroke-width="0.8"/>
<text x="163.1" y="326.40" font-size="5.7" text-anchor="end" fill="#111">0</text>
<path d="M163.5,305.60H165.3" stroke="#505050" stroke-width="0.8"/>
<text x="163.1" y="307.60" font-size="5.7" text-anchor="end" fill="#111">25</text>
<path d="M163.5,286.80H165.3" stroke="#505050" stroke-width="0.8"/>
<text x="163.1" y="288.80" font-size="5.7" text-anchor="end" fill="#111">50</text>
<path d="M163.5,268.00H165.3" stroke="#505050" stroke-width="0.8"/>
<text x="163.1" y="270.00" font-size="5.7" text-anchor="end" fill="#111">75</text>
<path d="M163.5,249.20H165.3" stroke="#505050" stroke-width="0.8"/>
<text x="163.1" y="251.20" font-size="5.7" text-anchor="end" fill="#111">100</text>
<path d="M165.3,324.4v1.8" stroke="#505050" stroke-width="0.8"/>
<text x="165.3" y="331.3" font-size="5.6" text-anchor="middle" fill="#111">0</text>
<path d="M191.3,324.4v1.8" stroke="#505050" stroke-width="0.8"/>
<text x="191.3" y="331.3" font-size="5.6" text-anchor="middle" fill="#111">500</text>
<path d="M217.2,324.4v1.8" stroke="#505050" stroke-width="0.8"/>
<text x="217.2" y="331.3" font-size="5.6" text-anchor="middle" fill="#111">1000</text>
<path d="M243.0,324.4v1.8" stroke="#505050" stroke-width="0.8"/>
<text x="243.0" y="331.3" font-size="5.6" text-anchor="middle" fill="#111">1500</text>
<path d="M268.4,324.4v1.8" stroke="#505050" stroke-width="0.8"/>
<text x="268.4" y="331.3" font-size="5.6" text-anchor="middle" fill="#111">2000</text>
<text x="217.3" y="339.7" font-size="7.8" text-anchor="middle" fill="#222">Cluster area (nm<tspan font-size="4.4" dy="-2.8">2</tspan><tspan dy="2.8">)</tspan></text>
<text transform="translate(152.0,283.7) rotate(-90)" font-size="7.9" text-anchor="middle" fill="#1a1a1a">CF(%)</text>
<text x="225.2" y="261.3" font-size="9" font-weight="bold" text-anchor="middle" fill="#111" letter-spacing="0.3">***</text>
<path d="M205.4,308H219.2" stroke="#34993a" stroke-width="1.1"/>
<path d="M205.4,315.9H219.2" stroke="#f5a23c" stroke-width="1.1"/>
<text x="221.4" y="310.2" font-size="6.5" fill="#111">Glass surface</text>
<text x="221.4" y="318.1" font-size="6.5" fill="#111">Graphene surface</text>
<text x="274.9" y="246" font-size="11" font-weight="bold" fill="#000" stroke="#000" stroke-width="0.35" textLength="2.6" lengthAdjust="spacingAndGlyphs">I</text>
<path d="M298.6,323.1 C298.8,321.9 299.4,318.8 299.9,315.8 C300.4,312.8 301.2,308.6 301.8,305.3 C302.4,302.0 303.0,299.0 303.6,296.2 C304.2,293.4 304.9,291.0 305.7,288.4 C306.5,285.8 307.4,283.0 308.3,280.5 C309.2,278.0 310.3,275.6 311.4,273.5 C312.5,271.4 313.6,269.9 314.8,268.2 C316.0,266.5 317.5,264.8 318.8,263.5 C320.1,262.2 321.4,261.2 322.7,260.4 C324.0,259.6 325.1,259.4 326.6,258.8 C328.1,258.2 330.1,257.6 331.8,257.0 C333.5,256.4 335.2,255.8 337.0,255.2 C338.8,254.6 340.3,254.1 342.3,253.6 C344.3,253.1 346.6,252.7 348.8,252.3 C351.0,251.9 352.9,251.5 355.3,251.2 C357.7,250.9 360.1,250.8 363.2,250.5 C366.2,250.2 370.1,249.7 373.6,249.4 C377.1,249.1 380.6,248.8 384.1,248.6 C387.6,248.4 391.5,248.4 394.5,248.4 C397.5,248.4 400.7,248.4 401.9,248.4" fill="none" stroke="#34993a" stroke-width="1.1"/>
<path d="M298.6,323.1 C298.8,322.0 299.4,319.2 299.9,316.3 C300.4,313.4 301.2,309.1 301.8,305.9 C302.4,302.7 303.0,299.9 303.6,297.0 C304.2,294.1 304.9,291.4 305.7,288.4 C306.5,285.4 307.4,282.1 308.3,279.2 C309.2,276.3 310.3,273.2 311.4,270.8 C312.5,268.4 313.6,266.7 314.8,264.8 C316.0,262.9 317.5,261.0 318.8,259.6 C320.1,258.2 321.4,257.2 322.7,256.2 C324.0,255.2 325.3,254.4 326.6,253.6 C327.9,252.8 329.2,252.1 330.5,251.5 C331.8,250.9 333.1,250.3 334.4,249.9 C335.7,249.5 336.9,249.3 338.4,249.1 C339.9,248.9 341.2,248.7 343.6,248.6 C346.0,248.5 343.0,248.4 352.7,248.4 C362.4,248.4 393.7,248.4 401.9,248.4" fill="none" stroke="#f5a23c" stroke-width="1.1"/>
<path d="M298.7,248.1V323.3H401.8" fill="none" stroke="#505050" stroke-width="0.9"/>
<path d="M296.9,323.30H298.7" stroke="#505050" stroke-width="0.8"/>
<text x="296.5" y="325.30" font-size="5.7" text-anchor="end" fill="#111">0</text>
<path d="M296.9,304.57H298.7" stroke="#505050" stroke-width="0.8"/>
<text x="296.5" y="306.57" font-size="5.7" text-anchor="end" fill="#111">25</text>
<path d="M296.9,285.85H298.7" stroke="#505050" stroke-width="0.8"/>
<text x="296.5" y="287.85" font-size="5.7" text-anchor="end" fill="#111">50</text>
<path d="M296.9,267.12H298.7" stroke="#505050" stroke-width="0.8"/>
<text x="296.5" y="269.12" font-size="5.7" text-anchor="end" fill="#111">75</text>
<path d="M296.9,248.40H298.7" stroke="#505050" stroke-width="0.8"/>
<text x="296.5" y="250.40" font-size="5.7" text-anchor="end" fill="#111">100</text>
<path d="M298.7,323.3v1.8" stroke="#505050" stroke-width="0.8"/>
<text x="298.7" y="330.2" font-size="5.6" text-anchor="middle" fill="#111">0.0</text>
<path d="M333.2,323.3v1.8" stroke="#505050" stroke-width="0.8"/>
<text x="333.2" y="330.2" font-size="5.6" text-anchor="middle" fill="#111">0.2</text>
<path d="M367.5,323.3v1.8" stroke="#505050" stroke-width="0.8"/>
<text x="367.5" y="330.2" font-size="5.6" text-anchor="middle" fill="#111">0.4</text>
<path d="M401.6,323.3v1.8" stroke="#505050" stroke-width="0.8"/>
<text x="401.6" y="330.2" font-size="5.6" text-anchor="middle" fill="#111">0.6</text>
<text x="350.6" y="339.1" font-size="8" text-anchor="middle" fill="#222">Cluster density (NLoc/nm<tspan font-size="4.4" dy="-2.8">2</tspan><tspan dy="2.8">)</tspan></text>
<text transform="translate(284.6,282.9) rotate(-90)" font-size="7.9" text-anchor="middle" fill="#1a1a1a">CF (%)</text>
<text x="315.2" y="257.9" font-size="9" font-weight="bold" text-anchor="middle" fill="#111" letter-spacing="0.3">*</text>
<path d="M335.2,307.3H349" stroke="#34993a" stroke-width="1.1"/>
<path d="M335.2,315.6H349" stroke="#f5a23c" stroke-width="1.1"/>
<text x="351.2" y="309.5" font-size="6.5" fill="#111">Glass surface</text>
<text x="351.2" y="317.8" font-size="6.5" fill="#111">Graphene surface</text>
<text x="413.1" y="245.4" font-size="10.8" font-weight="bold" fill="#000" stroke="#000" stroke-width="0.35" textLength="4.2" lengthAdjust="spacingAndGlyphs">J</text>
<path d="M441,248.2V324.2H533.4" fill="none" stroke="#444" stroke-width="0.9"/>
<path d="M438.4,248.5H441" stroke="#444" stroke-width="0.8"/>
<text x="437.4" y="250.7" font-size="6.3" text-anchor="end" fill="#111">60</text>
<path d="M438.4,270H441" stroke="#444" stroke-width="0.8"/>
<text x="437.4" y="272.2" font-size="6.3" text-anchor="end" fill="#111">40</text>
<path d="M438.4,291.6H441" stroke="#444" stroke-width="0.8"/>
<text x="437.4" y="293.8" font-size="6.3" text-anchor="end" fill="#111">20</text>
<path d="M438.4,313.1H441" stroke="#444" stroke-width="0.8"/>
<text x="437.4" y="315.3" font-size="6.3" text-anchor="end" fill="#111">0</text>
<path d="M463.4,296.8V312.2M459.8,296.8H466.8M459.8,312.2H466.8" stroke="#111" stroke-width="0.9" fill="none"/>
<rect x="456.3" y="302.5" width="14.4" height="6.5" fill="#1a8c1c" stroke="#0a360a" stroke-width="0.8"/>
<path d="M456.3,306.3H470.7" stroke="#0a400a" stroke-width="0.6"/>
<rect x="462.5" y="303.9" width="1.8" height="1.8" fill="#000"/>
<path d="M509.4,258.1V322.2M506,258.1H513M506,322.2H513" stroke="#111" stroke-width="0.9" fill="none"/>
<rect x="502.1" y="272.3" width="14.5" height="32.2" fill="#fc8a16" stroke="#2a2218" stroke-width="0.8"/>
<rect x="508.3" y="289.2" width="2" height="2" fill="#000"/>
<path d="M461.6,252H506.9" stroke="#969696" stroke-width="1.2"/>
<text x="484.2" y="253.2" font-size="9" font-weight="bold" text-anchor="middle" fill="#111" letter-spacing="0.3">***</text>
<text x="463.3" y="333" font-size="8.4" text-anchor="middle" fill="#111">Glass</text>
<text x="509.4" y="333" font-size="8.4" text-anchor="middle" fill="#111">Graphene</text>
<text transform="translate(427.2,285.6) rotate(-90)" font-size="8.6" text-anchor="middle" fill="#1a1a1a" textLength="57.6" lengthAdjust="spacingAndGlyphs">N clusters/µm<tspan font-size="4.8" dy="-3">2</tspan></text>
</svg>
</body></html>
